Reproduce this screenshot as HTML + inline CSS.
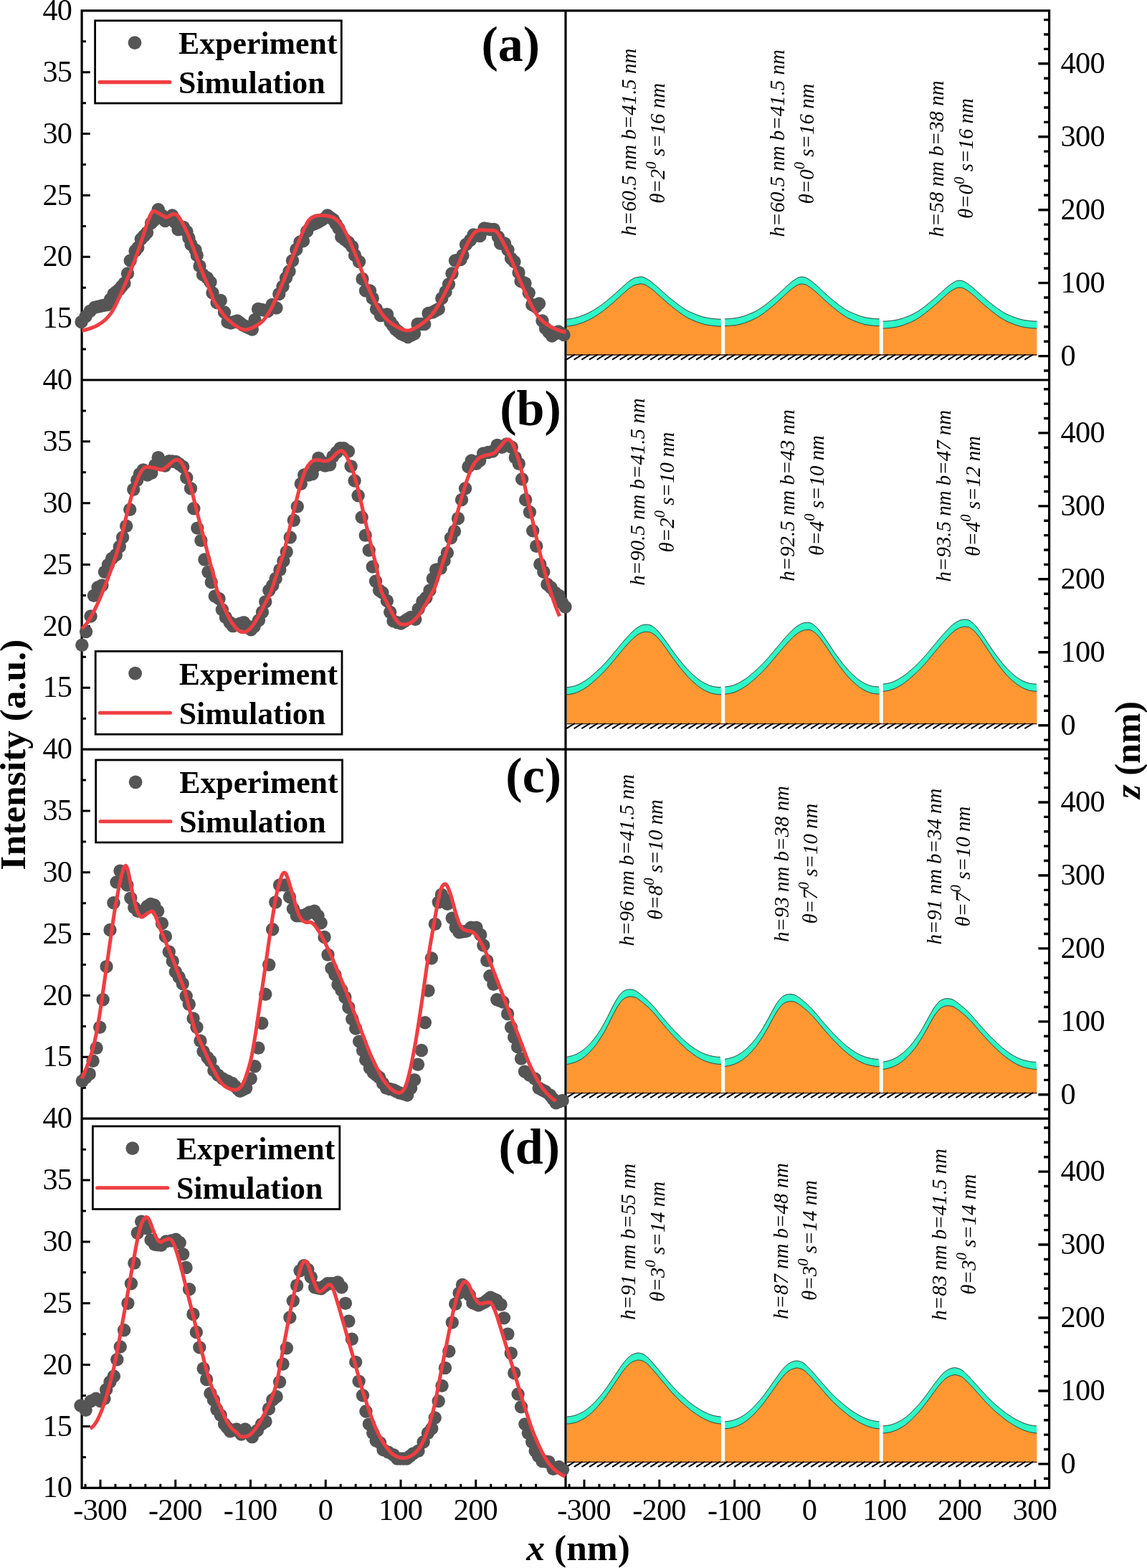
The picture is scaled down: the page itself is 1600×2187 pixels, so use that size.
<!DOCTYPE html>
<html lang="en"><head><meta charset="utf-8"><title>Intensity profiles: experiment vs simulation</title>
<style>html,body{margin:0;padding:0;background:#fff}body{width:1600px;height:2187px;overflow:hidden}svg{display:block}text{white-space:pre}</style>
</head><body>
<svg width="1600" height="2187" viewBox="0 0 1600 2187">
<defs><clipPath id="cr0"><rect x="789" y="14.9" width="674.6" height="515.1"/></clipPath><clipPath id="cr1"><rect x="789" y="530" width="674.6" height="515.1"/></clipPath><clipPath id="cr2"><rect x="789" y="1045.1" width="674.6" height="515.1"/></clipPath><clipPath id="cr3"><rect x="789" y="1560.2" width="674.6" height="515.1"/></clipPath></defs>
<rect width="1600" height="2187" fill="#fff"/>
<polygon fill="#FF9733" points="790.8,455.07 792.61,454.93 794.42,454.74 796.23,454.5 798.03,454.18 799.84,453.81 801.65,453.4 803.46,452.97 805.27,452.48 807.08,451.94 808.88,451.36 810.69,450.75 812.5,450.09 814.31,449.38 816.12,448.63 817.93,447.84 819.73,447.01 821.54,446.13 823.35,445.2 825.16,444.24 826.97,443.23 828.78,442.18 830.58,441.08 832.39,439.94 834.2,438.76 836.01,437.53 837.82,436.26 839.63,434.95 841.44,433.59 843.24,432.18 845.05,430.72 846.86,429.24 848.67,427.75 850.48,426.24 852.29,424.71 854.09,423.16 855.9,421.58 857.71,419.98 859.52,418.34 861.33,416.71 863.14,415.07 864.94,413.44 866.75,411.8 868.56,410.17 870.37,408.57 872.18,406.97 873.99,405.35 875.79,403.8 877.6,402.39 879.41,401.1 881.22,399.85 883.03,398.73 884.84,397.86 886.65,397.27 888.45,396.79 890.26,396.41 892.07,396.1 893.88,395.9 895.69,396.05 897.5,396.35 899.3,396.9 901.11,397.81 902.92,398.92 904.73,400.07 906.54,401.24 908.35,402.55 910.15,403.96 911.96,405.42 913.77,406.93 915.58,408.54 917.39,410.2 919.2,411.87 921.01,413.51 922.81,415.14 924.62,416.78 926.43,418.4 928.24,419.99 930.05,421.55 931.86,423.09 933.66,424.61 935.47,426.1 937.28,427.57 939.09,429.03 940.9,430.46 942.71,431.87 944.51,433.26 946.32,434.65 948.13,435.99 949.94,437.29 951.75,438.54 953.56,439.76 955.36,440.93 957.17,442.02 958.98,443.03 960.79,443.97 962.6,444.86 964.41,445.7 966.22,446.49 968.02,447.24 969.83,447.96 971.64,448.65 973.45,449.32 975.26,450 977.07,450.66 978.87,451.26 980.68,451.79 982.49,452.26 984.3,452.69 986.11,453.07 987.92,453.4 989.72,453.7 991.53,453.97 993.34,454.2 995.15,454.4 996.96,454.59 998.77,454.76 1000.57,454.9 1002.38,454.99 1004.19,455.05 1006,455.07 1006,495.2 790.8,495.2"/>
<polygon fill="#2FF7C6" points="790.8,445.18 792.31,445.03 794.12,444.84 795.93,444.6 797.73,444.28 799.54,443.91 801.35,443.5 803.16,443.07 804.97,442.58 806.78,442.04 808.58,441.46 810.39,440.85 812.2,440.19 814.01,439.48 815.82,438.73 817.63,437.94 819.43,437.11 821.24,436.23 823.05,435.3 824.86,434.34 826.67,433.33 828.48,432.28 830.28,431.18 832.09,430.04 833.9,428.86 835.71,427.63 837.52,426.36 839.33,425.05 841.14,423.69 842.94,422.28 844.75,420.82 846.56,419.34 848.37,417.85 850.18,416.34 851.99,414.81 853.79,413.26 855.6,411.68 857.41,410.08 859.22,408.44 861.03,406.81 862.84,405.17 864.64,403.54 866.45,401.9 868.26,400.27 870.07,398.67 871.88,397.07 873.69,395.45 875.49,393.9 877.3,392.49 879.11,391.2 880.92,389.95 882.73,388.83 884.54,387.96 886.35,387.37 888.15,386.89 889.96,386.51 891.77,386.2 893.58,386 895.39,386.15 897.2,386.45 899,387 900.81,387.91 902.62,389.02 904.43,390.17 906.24,391.34 908.05,392.65 909.85,394.06 911.66,395.52 913.47,397.03 915.28,398.64 917.09,400.3 918.9,401.97 920.71,403.61 922.51,405.24 924.32,406.88 926.13,408.5 927.94,410.09 929.75,411.65 931.56,413.19 933.36,414.71 935.17,416.2 936.98,417.67 938.79,419.13 940.6,420.56 942.41,421.97 944.21,423.36 946.02,424.75 947.83,426.09 949.64,427.39 951.45,428.64 953.26,429.86 955.06,431.03 956.87,432.12 958.68,433.13 960.49,434.07 962.3,434.96 964.11,435.8 965.92,436.59 967.72,437.34 969.53,438.06 971.34,438.75 973.15,439.42 974.96,440.1 976.77,440.76 978.57,441.36 980.38,441.89 982.19,442.36 984,442.79 985.81,443.17 987.62,443.5 989.42,443.8 991.23,444.07 993.04,444.3 994.85,444.5 996.66,444.69 998.47,444.86 1000.27,445 1002.08,445.09 1003.89,445.15 1005.7,445.18 1006,455.07 1004.19,455.05 1002.38,454.99 1000.57,454.9 998.77,454.76 996.96,454.59 995.15,454.4 993.34,454.2 991.53,453.97 989.72,453.7 987.92,453.4 986.11,453.07 984.3,452.69 982.49,452.26 980.68,451.79 978.87,451.26 977.07,450.66 975.26,450 973.45,449.32 971.64,448.65 969.83,447.96 968.02,447.24 966.22,446.49 964.41,445.7 962.6,444.86 960.79,443.97 958.98,443.03 957.17,442.02 955.36,440.93 953.56,439.76 951.75,438.54 949.94,437.29 948.13,435.99 946.32,434.65 944.51,433.26 942.71,431.87 940.9,430.46 939.09,429.03 937.28,427.57 935.47,426.1 933.66,424.61 931.86,423.09 930.05,421.55 928.24,419.99 926.43,418.4 924.62,416.78 922.81,415.14 921.01,413.51 919.2,411.87 917.39,410.2 915.58,408.54 913.77,406.93 911.96,405.42 910.15,403.96 908.35,402.55 906.54,401.24 904.73,400.07 902.92,398.92 901.11,397.81 899.3,396.9 897.5,396.35 895.69,396.05 893.88,395.9 892.07,396.1 890.26,396.41 888.45,396.79 886.65,397.27 884.84,397.86 883.03,398.73 881.22,399.85 879.41,401.1 877.6,402.39 875.79,403.8 873.99,405.35 872.18,406.97 870.37,408.57 868.56,410.17 866.75,411.8 864.94,413.44 863.14,415.07 861.33,416.71 859.52,418.34 857.71,419.98 855.9,421.58 854.09,423.16 852.29,424.71 850.48,426.24 848.67,427.75 846.86,429.24 845.05,430.72 843.24,432.18 841.44,433.59 839.63,434.95 837.82,436.26 836.01,437.53 834.2,438.76 832.39,439.94 830.58,441.08 828.78,442.18 826.97,443.23 825.16,444.24 823.35,445.2 821.54,446.13 819.73,447.01 817.93,447.84 816.12,448.63 814.31,449.38 812.5,450.09 810.69,450.75 808.88,451.36 807.08,451.94 805.27,452.48 803.46,452.97 801.65,453.4 799.84,453.81 798.03,454.18 796.23,454.5 794.42,454.74 792.61,454.93 790.8,455.07"/>
<polyline fill="none" stroke="#21382f" stroke-width="0.95" points="790.8,445.18 792.31,445.03 794.12,444.84 795.93,444.6 797.73,444.28 799.54,443.91 801.35,443.5 803.16,443.07 804.97,442.58 806.78,442.04 808.58,441.46 810.39,440.85 812.2,440.19 814.01,439.48 815.82,438.73 817.63,437.94 819.43,437.11 821.24,436.23 823.05,435.3 824.86,434.34 826.67,433.33 828.48,432.28 830.28,431.18 832.09,430.04 833.9,428.86 835.71,427.63 837.52,426.36 839.33,425.05 841.14,423.69 842.94,422.28 844.75,420.82 846.56,419.34 848.37,417.85 850.18,416.34 851.99,414.81 853.79,413.26 855.6,411.68 857.41,410.08 859.22,408.44 861.03,406.81 862.84,405.17 864.64,403.54 866.45,401.9 868.26,400.27 870.07,398.67 871.88,397.07 873.69,395.45 875.49,393.9 877.3,392.49 879.11,391.2 880.92,389.95 882.73,388.83 884.54,387.96 886.35,387.37 888.15,386.89 889.96,386.51 891.77,386.2 893.58,386 895.39,386.15 897.2,386.45 899,387 900.81,387.91 902.62,389.02 904.43,390.17 906.24,391.34 908.05,392.65 909.85,394.06 911.66,395.52 913.47,397.03 915.28,398.64 917.09,400.3 918.9,401.97 920.71,403.61 922.51,405.24 924.32,406.88 926.13,408.5 927.94,410.09 929.75,411.65 931.56,413.19 933.36,414.71 935.17,416.2 936.98,417.67 938.79,419.13 940.6,420.56 942.41,421.97 944.21,423.36 946.02,424.75 947.83,426.09 949.64,427.39 951.45,428.64 953.26,429.86 955.06,431.03 956.87,432.12 958.68,433.13 960.49,434.07 962.3,434.96 964.11,435.8 965.92,436.59 967.72,437.34 969.53,438.06 971.34,438.75 973.15,439.42 974.96,440.1 976.77,440.76 978.57,441.36 980.38,441.89 982.19,442.36 984,442.79 985.81,443.17 987.62,443.5 989.42,443.8 991.23,444.07 993.04,444.3 994.85,444.5 996.66,444.69 998.47,444.86 1000.27,445 1002.08,445.09 1003.89,445.15 1005.7,445.18"/>
<polyline fill="none" stroke="#21382f" stroke-width="0.95" points="790.8,455.07 792.61,454.93 794.42,454.74 796.23,454.5 798.03,454.18 799.84,453.81 801.65,453.4 803.46,452.97 805.27,452.48 807.08,451.94 808.88,451.36 810.69,450.75 812.5,450.09 814.31,449.38 816.12,448.63 817.93,447.84 819.73,447.01 821.54,446.13 823.35,445.2 825.16,444.24 826.97,443.23 828.78,442.18 830.58,441.08 832.39,439.94 834.2,438.76 836.01,437.53 837.82,436.26 839.63,434.95 841.44,433.59 843.24,432.18 845.05,430.72 846.86,429.24 848.67,427.75 850.48,426.24 852.29,424.71 854.09,423.16 855.9,421.58 857.71,419.98 859.52,418.34 861.33,416.71 863.14,415.07 864.94,413.44 866.75,411.8 868.56,410.17 870.37,408.57 872.18,406.97 873.99,405.35 875.79,403.8 877.6,402.39 879.41,401.1 881.22,399.85 883.03,398.73 884.84,397.86 886.65,397.27 888.45,396.79 890.26,396.41 892.07,396.1 893.88,395.9 895.69,396.05 897.5,396.35 899.3,396.9 901.11,397.81 902.92,398.92 904.73,400.07 906.54,401.24 908.35,402.55 910.15,403.96 911.96,405.42 913.77,406.93 915.58,408.54 917.39,410.2 919.2,411.87 921.01,413.51 922.81,415.14 924.62,416.78 926.43,418.4 928.24,419.99 930.05,421.55 931.86,423.09 933.66,424.61 935.47,426.1 937.28,427.57 939.09,429.03 940.9,430.46 942.71,431.87 944.51,433.26 946.32,434.65 948.13,435.99 949.94,437.29 951.75,438.54 953.56,439.76 955.36,440.93 957.17,442.02 958.98,443.03 960.79,443.97 962.6,444.86 964.41,445.7 966.22,446.49 968.02,447.24 969.83,447.96 971.64,448.65 973.45,449.32 975.26,450 977.07,450.66 978.87,451.26 980.68,451.79 982.49,452.26 984.3,452.69 986.11,453.07 987.92,453.4 989.72,453.7 991.53,453.97 993.34,454.2 995.15,454.4 996.96,454.59 998.77,454.76 1000.57,454.9 1002.38,454.99 1004.19,455.05 1006,455.07"/>
<polygon fill="#FF9733" points="1011.2,454.7 1013.01,454.67 1014.82,454.61 1016.63,454.51 1018.44,454.36 1020.25,454.18 1022.07,453.99 1023.88,453.77 1025.69,453.51 1027.5,453.22 1029.31,452.9 1031.12,452.53 1032.93,452.11 1034.74,451.64 1036.55,451.13 1038.36,450.53 1040.17,449.87 1041.99,449.17 1043.8,448.46 1045.61,447.76 1047.42,447.02 1049.23,446.25 1051.04,445.43 1052.85,444.56 1054.66,443.64 1056.47,442.66 1058.28,441.61 1060.09,440.46 1061.91,439.24 1063.72,437.96 1065.53,436.66 1067.34,435.3 1069.15,433.89 1070.96,432.45 1072.77,431 1074.58,429.53 1076.39,428.03 1078.2,426.52 1080.02,424.98 1081.83,423.41 1083.64,421.82 1085.45,420.21 1087.26,418.58 1089.07,416.91 1090.88,415.21 1092.69,413.52 1094.5,411.82 1096.31,410.1 1098.12,408.38 1099.94,406.73 1101.75,405.19 1103.56,403.68 1105.37,402.26 1107.18,400.95 1108.99,399.77 1110.8,398.57 1112.61,397.51 1114.42,396.74 1116.23,396.36 1118.04,396.13 1119.86,396.15 1121.67,396.41 1123.48,396.83 1125.29,397.66 1127.1,398.75 1128.91,399.95 1130.72,401.13 1132.53,402.46 1134.34,403.89 1136.15,405.4 1137.96,406.95 1139.78,408.61 1141.59,410.32 1143.4,412.04 1145.21,413.73 1147.02,415.42 1148.83,417.11 1150.64,418.77 1152.45,420.4 1154.26,422 1156.07,423.58 1157.88,425.14 1159.7,426.67 1161.51,428.18 1163.32,429.67 1165.13,431.13 1166.94,432.58 1168.75,434.01 1170.56,435.42 1172.37,436.77 1174.18,438.07 1175.99,439.34 1177.81,440.55 1179.62,441.69 1181.43,442.73 1183.24,443.7 1185.05,444.62 1186.86,445.48 1188.67,446.3 1190.48,447.06 1192.29,447.79 1194.1,448.5 1195.91,449.2 1197.73,449.9 1199.54,450.56 1201.35,451.15 1203.16,451.66 1204.97,452.13 1206.78,452.55 1208.59,452.91 1210.4,453.23 1212.21,453.52 1214.02,453.77 1215.83,453.99 1217.65,454.18 1219.46,454.36 1221.27,454.51 1223.08,454.61 1224.89,454.67 1226.7,454.7 1226.7,495.2 1011.2,495.2"/>
<polygon fill="#2FF7C6" points="1011.2,444.8 1013.01,444.77 1014.82,444.71 1016.63,444.61 1018.44,444.46 1020.25,444.28 1022.07,444.09 1023.88,443.87 1025.69,443.61 1027.5,443.32 1029.31,443 1031.12,442.63 1032.93,442.21 1034.74,441.74 1036.55,441.23 1038.36,440.63 1040.17,439.97 1041.99,439.27 1043.8,438.56 1045.61,437.86 1047.42,437.12 1049.23,436.35 1051.04,435.53 1052.85,434.66 1054.66,433.74 1056.47,432.76 1058.28,431.71 1060.09,430.56 1061.91,429.34 1063.72,428.06 1065.53,426.76 1067.34,425.4 1069.15,423.99 1070.96,422.55 1072.77,421.1 1074.58,419.63 1076.39,418.13 1078.2,416.62 1080.02,415.08 1081.83,413.51 1083.64,411.92 1085.45,410.31 1087.26,408.68 1089.07,407.01 1090.88,405.31 1092.69,403.62 1094.5,401.92 1096.31,400.2 1098.12,398.48 1099.94,396.83 1101.75,395.29 1103.56,393.78 1105.37,392.36 1107.18,391.05 1108.99,389.87 1110.8,388.67 1112.61,387.61 1114.42,386.84 1116.23,386.46 1118.04,386.23 1119.86,386.25 1121.67,386.51 1123.48,386.93 1125.29,387.76 1127.1,388.85 1128.91,390.05 1130.72,391.23 1132.53,392.56 1134.34,393.99 1136.15,395.5 1137.96,397.05 1139.78,398.71 1141.59,400.42 1143.4,402.14 1145.21,403.83 1147.02,405.52 1148.83,407.21 1150.64,408.87 1152.45,410.5 1154.26,412.1 1156.07,413.68 1157.88,415.24 1159.7,416.77 1161.51,418.28 1163.32,419.77 1165.13,421.23 1166.94,422.68 1168.75,424.11 1170.56,425.52 1172.37,426.87 1174.18,428.17 1175.99,429.44 1177.81,430.65 1179.62,431.79 1181.43,432.83 1183.24,433.8 1185.05,434.72 1186.86,435.58 1188.67,436.4 1190.48,437.16 1192.29,437.89 1194.1,438.6 1195.91,439.3 1197.73,440 1199.54,440.66 1201.35,441.25 1203.16,441.76 1204.97,442.23 1206.78,442.65 1208.59,443.01 1210.4,443.33 1212.21,443.62 1214.02,443.87 1215.83,444.09 1217.65,444.28 1219.46,444.46 1221.27,444.61 1223.08,444.71 1224.89,444.77 1226.7,444.8 1226.7,454.7 1224.89,454.67 1223.08,454.61 1221.27,454.51 1219.46,454.36 1217.65,454.18 1215.83,453.99 1214.02,453.77 1212.21,453.52 1210.4,453.23 1208.59,452.91 1206.78,452.55 1204.97,452.13 1203.16,451.66 1201.35,451.15 1199.54,450.56 1197.73,449.9 1195.91,449.2 1194.1,448.5 1192.29,447.79 1190.48,447.06 1188.67,446.3 1186.86,445.48 1185.05,444.62 1183.24,443.7 1181.43,442.73 1179.62,441.69 1177.81,440.55 1175.99,439.34 1174.18,438.07 1172.37,436.77 1170.56,435.42 1168.75,434.01 1166.94,432.58 1165.13,431.13 1163.32,429.67 1161.51,428.18 1159.7,426.67 1157.88,425.14 1156.07,423.58 1154.26,422 1152.45,420.4 1150.64,418.77 1148.83,417.11 1147.02,415.42 1145.21,413.73 1143.4,412.04 1141.59,410.32 1139.78,408.61 1137.96,406.95 1136.15,405.4 1134.34,403.89 1132.53,402.46 1130.72,401.13 1128.91,399.95 1127.1,398.75 1125.29,397.66 1123.48,396.83 1121.67,396.41 1119.86,396.15 1118.04,396.13 1116.23,396.36 1114.42,396.74 1112.61,397.51 1110.8,398.57 1108.99,399.77 1107.18,400.95 1105.37,402.26 1103.56,403.68 1101.75,405.19 1099.94,406.73 1098.12,408.38 1096.31,410.1 1094.5,411.82 1092.69,413.52 1090.88,415.21 1089.07,416.91 1087.26,418.58 1085.45,420.21 1083.64,421.82 1081.83,423.41 1080.02,424.98 1078.2,426.52 1076.39,428.03 1074.58,429.53 1072.77,431 1070.96,432.45 1069.15,433.89 1067.34,435.3 1065.53,436.66 1063.72,437.96 1061.91,439.24 1060.09,440.46 1058.28,441.61 1056.47,442.66 1054.66,443.64 1052.85,444.56 1051.04,445.43 1049.23,446.25 1047.42,447.02 1045.61,447.76 1043.8,448.46 1041.99,449.17 1040.17,449.87 1038.36,450.53 1036.55,451.13 1034.74,451.64 1032.93,452.11 1031.12,452.53 1029.31,452.9 1027.5,453.22 1025.69,453.51 1023.88,453.77 1022.07,453.99 1020.25,454.18 1018.44,454.36 1016.63,454.51 1014.82,454.61 1013.01,454.67 1011.2,454.7"/>
<polyline fill="none" stroke="#21382f" stroke-width="0.95" points="1011.2,444.8 1013.01,444.77 1014.82,444.71 1016.63,444.61 1018.44,444.46 1020.25,444.28 1022.07,444.09 1023.88,443.87 1025.69,443.61 1027.5,443.32 1029.31,443 1031.12,442.63 1032.93,442.21 1034.74,441.74 1036.55,441.23 1038.36,440.63 1040.17,439.97 1041.99,439.27 1043.8,438.56 1045.61,437.86 1047.42,437.12 1049.23,436.35 1051.04,435.53 1052.85,434.66 1054.66,433.74 1056.47,432.76 1058.28,431.71 1060.09,430.56 1061.91,429.34 1063.72,428.06 1065.53,426.76 1067.34,425.4 1069.15,423.99 1070.96,422.55 1072.77,421.1 1074.58,419.63 1076.39,418.13 1078.2,416.62 1080.02,415.08 1081.83,413.51 1083.64,411.92 1085.45,410.31 1087.26,408.68 1089.07,407.01 1090.88,405.31 1092.69,403.62 1094.5,401.92 1096.31,400.2 1098.12,398.48 1099.94,396.83 1101.75,395.29 1103.56,393.78 1105.37,392.36 1107.18,391.05 1108.99,389.87 1110.8,388.67 1112.61,387.61 1114.42,386.84 1116.23,386.46 1118.04,386.23 1119.86,386.25 1121.67,386.51 1123.48,386.93 1125.29,387.76 1127.1,388.85 1128.91,390.05 1130.72,391.23 1132.53,392.56 1134.34,393.99 1136.15,395.5 1137.96,397.05 1139.78,398.71 1141.59,400.42 1143.4,402.14 1145.21,403.83 1147.02,405.52 1148.83,407.21 1150.64,408.87 1152.45,410.5 1154.26,412.1 1156.07,413.68 1157.88,415.24 1159.7,416.77 1161.51,418.28 1163.32,419.77 1165.13,421.23 1166.94,422.68 1168.75,424.11 1170.56,425.52 1172.37,426.87 1174.18,428.17 1175.99,429.44 1177.81,430.65 1179.62,431.79 1181.43,432.83 1183.24,433.8 1185.05,434.72 1186.86,435.58 1188.67,436.4 1190.48,437.16 1192.29,437.89 1194.1,438.6 1195.91,439.3 1197.73,440 1199.54,440.66 1201.35,441.25 1203.16,441.76 1204.97,442.23 1206.78,442.65 1208.59,443.01 1210.4,443.33 1212.21,443.62 1214.02,443.87 1215.83,444.09 1217.65,444.28 1219.46,444.46 1221.27,444.61 1223.08,444.71 1224.89,444.77 1226.7,444.8"/>
<polyline fill="none" stroke="#21382f" stroke-width="0.95" points="1011.2,454.7 1013.01,454.67 1014.82,454.61 1016.63,454.51 1018.44,454.36 1020.25,454.18 1022.07,453.99 1023.88,453.77 1025.69,453.51 1027.5,453.22 1029.31,452.9 1031.12,452.53 1032.93,452.11 1034.74,451.64 1036.55,451.13 1038.36,450.53 1040.17,449.87 1041.99,449.17 1043.8,448.46 1045.61,447.76 1047.42,447.02 1049.23,446.25 1051.04,445.43 1052.85,444.56 1054.66,443.64 1056.47,442.66 1058.28,441.61 1060.09,440.46 1061.91,439.24 1063.72,437.96 1065.53,436.66 1067.34,435.3 1069.15,433.89 1070.96,432.45 1072.77,431 1074.58,429.53 1076.39,428.03 1078.2,426.52 1080.02,424.98 1081.83,423.41 1083.64,421.82 1085.45,420.21 1087.26,418.58 1089.07,416.91 1090.88,415.21 1092.69,413.52 1094.5,411.82 1096.31,410.1 1098.12,408.38 1099.94,406.73 1101.75,405.19 1103.56,403.68 1105.37,402.26 1107.18,400.95 1108.99,399.77 1110.8,398.57 1112.61,397.51 1114.42,396.74 1116.23,396.36 1118.04,396.13 1119.86,396.15 1121.67,396.41 1123.48,396.83 1125.29,397.66 1127.1,398.75 1128.91,399.95 1130.72,401.13 1132.53,402.46 1134.34,403.89 1136.15,405.4 1137.96,406.95 1139.78,408.61 1141.59,410.32 1143.4,412.04 1145.21,413.73 1147.02,415.42 1148.83,417.11 1150.64,418.77 1152.45,420.4 1154.26,422 1156.07,423.58 1157.88,425.14 1159.7,426.67 1161.51,428.18 1163.32,429.67 1165.13,431.13 1166.94,432.58 1168.75,434.01 1170.56,435.42 1172.37,436.77 1174.18,438.07 1175.99,439.34 1177.81,440.55 1179.62,441.69 1181.43,442.73 1183.24,443.7 1185.05,444.62 1186.86,445.48 1188.67,446.3 1190.48,447.06 1192.29,447.79 1194.1,448.5 1195.91,449.2 1197.73,449.9 1199.54,450.56 1201.35,451.15 1203.16,451.66 1204.97,452.13 1206.78,452.55 1208.59,452.91 1210.4,453.23 1212.21,453.52 1214.02,453.77 1215.83,453.99 1217.65,454.18 1219.46,454.36 1221.27,454.51 1223.08,454.61 1224.89,454.67 1226.7,454.7"/>
<polygon fill="#FF9733" points="1231.7,458 1233.5,457.97 1235.31,457.91 1237.11,457.81 1238.92,457.66 1240.72,457.49 1242.53,457.3 1244.33,457.09 1246.13,456.84 1247.94,456.56 1249.74,456.25 1251.55,455.89 1253.35,455.47 1255.15,455.01 1256.96,454.51 1258.76,453.93 1260.57,453.28 1262.37,452.59 1264.18,451.91 1265.98,451.22 1267.78,450.5 1269.59,449.75 1271.39,448.95 1273.2,448.1 1275,447.2 1276.81,446.24 1278.61,445.21 1280.41,444.09 1282.22,442.89 1284.02,441.65 1285.83,440.37 1287.63,439.04 1289.43,437.66 1291.24,436.26 1293.04,434.85 1294.85,433.42 1296.65,431.96 1298.46,430.48 1300.26,428.98 1302.06,427.45 1303.87,425.9 1305.67,424.33 1307.48,422.74 1309.28,421.11 1311.08,419.46 1312.89,417.8 1314.69,416.15 1316.5,414.47 1318.3,412.8 1320.11,411.21 1321.91,409.71 1323.71,408.26 1325.52,406.88 1327.32,405.63 1329.13,404.48 1330.93,403.33 1332.74,402.33 1334.54,401.64 1336.34,401.3 1338.15,401.11 1339.95,401.18 1341.76,401.45 1343.56,401.92 1345.36,402.77 1347.17,403.85 1348.97,405.01 1350.78,406.17 1352.58,407.47 1354.39,408.87 1356.19,410.33 1357.99,411.85 1359.8,413.46 1361.6,415.13 1363.41,416.79 1365.21,418.42 1367.02,420.06 1368.82,421.69 1370.62,423.3 1372.43,424.87 1374.23,426.42 1376.04,427.95 1377.84,429.46 1379.64,430.94 1381.45,432.4 1383.25,433.84 1385.06,435.25 1386.86,436.65 1388.67,438.04 1390.47,439.39 1392.27,440.7 1394.08,441.95 1395.88,443.18 1397.69,444.35 1399.49,445.44 1401.29,446.44 1403.1,447.38 1404.9,448.26 1406.71,449.1 1408.51,449.88 1410.32,450.62 1412.12,451.33 1413.92,452.01 1415.73,452.69 1417.53,453.37 1419.34,454.01 1421.14,454.57 1422.95,455.07 1424.75,455.52 1426.55,455.92 1428.36,456.27 1430.16,456.58 1431.97,456.86 1433.77,457.1 1435.57,457.31 1437.38,457.5 1439.18,457.67 1440.99,457.81 1442.79,457.91 1444.6,457.97 1446.4,458 1446.4,495.2 1231.7,495.2"/>
<polygon fill="#2FF7C6" points="1231.7,448.1 1233.5,448.07 1235.31,448.01 1237.11,447.91 1238.92,447.76 1240.72,447.59 1242.53,447.4 1244.33,447.19 1246.13,446.94 1247.94,446.66 1249.74,446.35 1251.55,445.99 1253.35,445.57 1255.15,445.11 1256.96,444.61 1258.76,444.03 1260.57,443.38 1262.37,442.69 1264.18,442.01 1265.98,441.32 1267.78,440.6 1269.59,439.85 1271.39,439.05 1273.2,438.2 1275,437.3 1276.81,436.34 1278.61,435.31 1280.41,434.19 1282.22,432.99 1284.02,431.75 1285.83,430.47 1287.63,429.14 1289.43,427.76 1291.24,426.36 1293.04,424.95 1294.85,423.52 1296.65,422.06 1298.46,420.58 1300.26,419.08 1302.06,417.55 1303.87,416 1305.67,414.43 1307.48,412.84 1309.28,411.21 1311.08,409.56 1312.89,407.9 1314.69,406.25 1316.5,404.57 1318.3,402.9 1320.11,401.31 1321.91,399.81 1323.71,398.36 1325.52,396.98 1327.32,395.73 1329.13,394.58 1330.93,393.43 1332.74,392.43 1334.54,391.74 1336.34,391.4 1338.15,391.21 1339.95,391.28 1341.76,391.55 1343.56,392.02 1345.36,392.87 1347.17,393.95 1348.97,395.11 1350.78,396.27 1352.58,397.57 1354.39,398.97 1356.19,400.43 1357.99,401.95 1359.8,403.56 1361.6,405.23 1363.41,406.89 1365.21,408.52 1367.02,410.16 1368.82,411.79 1370.62,413.4 1372.43,414.97 1374.23,416.52 1376.04,418.05 1377.84,419.56 1379.64,421.04 1381.45,422.5 1383.25,423.94 1385.06,425.35 1386.86,426.75 1388.67,428.14 1390.47,429.49 1392.27,430.8 1394.08,432.05 1395.88,433.28 1397.69,434.45 1399.49,435.54 1401.29,436.54 1403.1,437.48 1404.9,438.36 1406.71,439.2 1408.51,439.98 1410.32,440.72 1412.12,441.43 1413.92,442.11 1415.73,442.79 1417.53,443.47 1419.34,444.11 1421.14,444.67 1422.95,445.17 1424.75,445.62 1426.55,446.02 1428.36,446.37 1430.16,446.68 1431.97,446.96 1433.77,447.2 1435.57,447.41 1437.38,447.6 1439.18,447.77 1440.99,447.91 1442.79,448.01 1444.6,448.07 1446.4,448.1 1446.4,458 1444.6,457.97 1442.79,457.91 1440.99,457.81 1439.18,457.67 1437.38,457.5 1435.57,457.31 1433.77,457.1 1431.97,456.86 1430.16,456.58 1428.36,456.27 1426.55,455.92 1424.75,455.52 1422.95,455.07 1421.14,454.57 1419.34,454.01 1417.53,453.37 1415.73,452.69 1413.92,452.01 1412.12,451.33 1410.32,450.62 1408.51,449.88 1406.71,449.1 1404.9,448.26 1403.1,447.38 1401.29,446.44 1399.49,445.44 1397.69,444.35 1395.88,443.18 1394.08,441.95 1392.27,440.7 1390.47,439.39 1388.67,438.04 1386.86,436.65 1385.06,435.25 1383.25,433.84 1381.45,432.4 1379.64,430.94 1377.84,429.46 1376.04,427.95 1374.23,426.42 1372.43,424.87 1370.62,423.3 1368.82,421.69 1367.02,420.06 1365.21,418.42 1363.41,416.79 1361.6,415.13 1359.8,413.46 1357.99,411.85 1356.19,410.33 1354.39,408.87 1352.58,407.47 1350.78,406.17 1348.97,405.01 1347.17,403.85 1345.36,402.77 1343.56,401.92 1341.76,401.45 1339.95,401.18 1338.15,401.11 1336.34,401.3 1334.54,401.64 1332.74,402.33 1330.93,403.33 1329.13,404.48 1327.32,405.63 1325.52,406.88 1323.71,408.26 1321.91,409.71 1320.11,411.21 1318.3,412.8 1316.5,414.47 1314.69,416.15 1312.89,417.8 1311.08,419.46 1309.28,421.11 1307.48,422.74 1305.67,424.33 1303.87,425.9 1302.06,427.45 1300.26,428.98 1298.46,430.48 1296.65,431.96 1294.85,433.42 1293.04,434.85 1291.24,436.26 1289.43,437.66 1287.63,439.04 1285.83,440.37 1284.02,441.65 1282.22,442.89 1280.41,444.09 1278.61,445.21 1276.81,446.24 1275,447.2 1273.2,448.1 1271.39,448.95 1269.59,449.75 1267.78,450.5 1265.98,451.22 1264.18,451.91 1262.37,452.59 1260.57,453.28 1258.76,453.93 1256.96,454.51 1255.15,455.01 1253.35,455.47 1251.55,455.89 1249.74,456.25 1247.94,456.56 1246.13,456.84 1244.33,457.09 1242.53,457.3 1240.72,457.49 1238.92,457.66 1237.11,457.81 1235.31,457.91 1233.5,457.97 1231.7,458"/>
<polyline fill="none" stroke="#21382f" stroke-width="0.95" points="1231.7,448.1 1233.5,448.07 1235.31,448.01 1237.11,447.91 1238.92,447.76 1240.72,447.59 1242.53,447.4 1244.33,447.19 1246.13,446.94 1247.94,446.66 1249.74,446.35 1251.55,445.99 1253.35,445.57 1255.15,445.11 1256.96,444.61 1258.76,444.03 1260.57,443.38 1262.37,442.69 1264.18,442.01 1265.98,441.32 1267.78,440.6 1269.59,439.85 1271.39,439.05 1273.2,438.2 1275,437.3 1276.81,436.34 1278.61,435.31 1280.41,434.19 1282.22,432.99 1284.02,431.75 1285.83,430.47 1287.63,429.14 1289.43,427.76 1291.24,426.36 1293.04,424.95 1294.85,423.52 1296.65,422.06 1298.46,420.58 1300.26,419.08 1302.06,417.55 1303.87,416 1305.67,414.43 1307.48,412.84 1309.28,411.21 1311.08,409.56 1312.89,407.9 1314.69,406.25 1316.5,404.57 1318.3,402.9 1320.11,401.31 1321.91,399.81 1323.71,398.36 1325.52,396.98 1327.32,395.73 1329.13,394.58 1330.93,393.43 1332.74,392.43 1334.54,391.74 1336.34,391.4 1338.15,391.21 1339.95,391.28 1341.76,391.55 1343.56,392.02 1345.36,392.87 1347.17,393.95 1348.97,395.11 1350.78,396.27 1352.58,397.57 1354.39,398.97 1356.19,400.43 1357.99,401.95 1359.8,403.56 1361.6,405.23 1363.41,406.89 1365.21,408.52 1367.02,410.16 1368.82,411.79 1370.62,413.4 1372.43,414.97 1374.23,416.52 1376.04,418.05 1377.84,419.56 1379.64,421.04 1381.45,422.5 1383.25,423.94 1385.06,425.35 1386.86,426.75 1388.67,428.14 1390.47,429.49 1392.27,430.8 1394.08,432.05 1395.88,433.28 1397.69,434.45 1399.49,435.54 1401.29,436.54 1403.1,437.48 1404.9,438.36 1406.71,439.2 1408.51,439.98 1410.32,440.72 1412.12,441.43 1413.92,442.11 1415.73,442.79 1417.53,443.47 1419.34,444.11 1421.14,444.67 1422.95,445.17 1424.75,445.62 1426.55,446.02 1428.36,446.37 1430.16,446.68 1431.97,446.96 1433.77,447.2 1435.57,447.41 1437.38,447.6 1439.18,447.77 1440.99,447.91 1442.79,448.01 1444.6,448.07 1446.4,448.1"/>
<polyline fill="none" stroke="#21382f" stroke-width="0.95" points="1231.7,458 1233.5,457.97 1235.31,457.91 1237.11,457.81 1238.92,457.66 1240.72,457.49 1242.53,457.3 1244.33,457.09 1246.13,456.84 1247.94,456.56 1249.74,456.25 1251.55,455.89 1253.35,455.47 1255.15,455.01 1256.96,454.51 1258.76,453.93 1260.57,453.28 1262.37,452.59 1264.18,451.91 1265.98,451.22 1267.78,450.5 1269.59,449.75 1271.39,448.95 1273.2,448.1 1275,447.2 1276.81,446.24 1278.61,445.21 1280.41,444.09 1282.22,442.89 1284.02,441.65 1285.83,440.37 1287.63,439.04 1289.43,437.66 1291.24,436.26 1293.04,434.85 1294.85,433.42 1296.65,431.96 1298.46,430.48 1300.26,428.98 1302.06,427.45 1303.87,425.9 1305.67,424.33 1307.48,422.74 1309.28,421.11 1311.08,419.46 1312.89,417.8 1314.69,416.15 1316.5,414.47 1318.3,412.8 1320.11,411.21 1321.91,409.71 1323.71,408.26 1325.52,406.88 1327.32,405.63 1329.13,404.48 1330.93,403.33 1332.74,402.33 1334.54,401.64 1336.34,401.3 1338.15,401.11 1339.95,401.18 1341.76,401.45 1343.56,401.92 1345.36,402.77 1347.17,403.85 1348.97,405.01 1350.78,406.17 1352.58,407.47 1354.39,408.87 1356.19,410.33 1357.99,411.85 1359.8,413.46 1361.6,415.13 1363.41,416.79 1365.21,418.42 1367.02,420.06 1368.82,421.69 1370.62,423.3 1372.43,424.87 1374.23,426.42 1376.04,427.95 1377.84,429.46 1379.64,430.94 1381.45,432.4 1383.25,433.84 1385.06,435.25 1386.86,436.65 1388.67,438.04 1390.47,439.39 1392.27,440.7 1394.08,441.95 1395.88,443.18 1397.69,444.35 1399.49,445.44 1401.29,446.44 1403.1,447.38 1404.9,448.26 1406.71,449.1 1408.51,449.88 1410.32,450.62 1412.12,451.33 1413.92,452.01 1415.73,452.69 1417.53,453.37 1419.34,454.01 1421.14,454.57 1422.95,455.07 1424.75,455.52 1426.55,455.92 1428.36,456.27 1430.16,456.58 1431.97,456.86 1433.77,457.1 1435.57,457.31 1437.38,457.5 1439.18,457.67 1440.99,457.81 1442.79,457.91 1444.6,457.97 1446.4,458"/>
<line x1="790.8" y1="495" x2="1446.4" y2="495" stroke="#3a1208" stroke-width="1.3"/>
<path d="M790.8 501.1l10.3 -6.3M801.45 501.1l10.3 -6.3M812.11 501.1l10.3 -6.3M822.76 501.1l10.3 -6.3M833.42 501.1l10.3 -6.3M844.07 501.1l10.3 -6.3M854.73 501.1l10.3 -6.3M865.38 501.1l10.3 -6.3M876.04 501.1l10.3 -6.3M886.69 501.1l10.3 -6.3M897.35 501.1l10.3 -6.3M908 501.1l10.3 -6.3M918.66 501.1l10.3 -6.3M929.31 501.1l10.3 -6.3M939.97 501.1l10.3 -6.3M950.62 501.1l10.3 -6.3M961.28 501.1l10.3 -6.3M971.93 501.1l10.3 -6.3M982.59 501.1l10.3 -6.3M993.24 501.1l10.3 -6.3M1003.9 501.1l10.3 -6.3M1014.55 501.1l10.3 -6.3M1025.21 501.1l10.3 -6.3M1035.87 501.1l10.3 -6.3M1046.52 501.1l10.3 -6.3M1057.17 501.1l10.3 -6.3M1067.83 501.1l10.3 -6.3M1078.48 501.1l10.3 -6.3M1089.14 501.1l10.3 -6.3M1099.8 501.1l10.3 -6.3M1110.45 501.1l10.3 -6.3M1121.11 501.1l10.3 -6.3M1131.76 501.1l10.3 -6.3M1142.41 501.1l10.3 -6.3M1153.07 501.1l10.3 -6.3M1163.72 501.1l10.3 -6.3M1174.38 501.1l10.3 -6.3M1185.03 501.1l10.3 -6.3M1195.69 501.1l10.3 -6.3M1206.34 501.1l10.3 -6.3M1217 501.1l10.3 -6.3M1227.65 501.1l10.3 -6.3M1238.31 501.1l10.3 -6.3M1248.96 501.1l10.3 -6.3M1259.62 501.1l10.3 -6.3M1270.27 501.1l10.3 -6.3M1280.93 501.1l10.3 -6.3M1291.59 501.1l10.3 -6.3M1302.24 501.1l10.3 -6.3M1312.89 501.1l10.3 -6.3M1323.55 501.1l10.3 -6.3M1334.2 501.1l10.3 -6.3M1344.86 501.1l10.3 -6.3M1355.51 501.1l10.3 -6.3M1366.17 501.1l10.3 -6.3M1376.82 501.1l10.3 -6.3M1387.48 501.1l10.3 -6.3M1398.13 501.1l10.3 -6.3M1408.79 501.1l10.3 -6.3M1419.44 501.1l10.3 -6.3M1430.1 501.1l10.3 -6.3" stroke="#000" stroke-width="2.1" stroke-linecap="round" fill="none"/>
<polygon fill="#FF9733" points="790.8,968.76 792.61,968.64 794.42,968.42 796.23,968.12 798.03,967.77 799.84,967.38 801.65,966.91 803.46,966.29 805.27,965.57 807.08,964.8 808.88,963.95 810.69,962.99 812.5,961.96 814.31,960.89 816.12,959.79 817.93,958.62 819.73,957.39 821.54,956.08 823.35,954.65 825.16,953.12 826.97,951.55 828.78,949.97 830.58,948.38 832.39,946.77 834.2,945.12 836.01,943.42 837.82,941.66 839.63,939.86 841.44,938.01 843.24,936.12 845.05,934.18 846.86,932.19 848.67,930.15 850.48,928.07 852.29,925.92 854.09,923.73 855.9,921.54 857.71,919.37 859.52,917.2 861.33,915.03 863.14,912.86 864.94,910.69 866.75,908.49 868.56,906.31 870.37,904.18 872.18,902.12 873.99,900.1 875.79,898.13 877.6,896.21 879.41,894.29 881.22,892.39 883.03,890.58 884.84,888.97 886.65,887.52 888.45,886.17 890.26,884.97 892.07,883.94 893.88,882.98 895.69,882.15 897.5,881.63 899.3,881.36 901.11,881.2 902.92,881.22 904.73,881.41 906.54,881.71 908.35,882.38 910.15,883.4 911.96,884.63 913.77,885.94 915.58,887.54 917.39,889.41 919.2,891.43 921.01,893.51 922.81,895.79 924.62,898.2 926.43,900.67 928.24,903.14 930.05,905.67 931.86,908.23 933.66,910.8 935.47,913.35 937.28,915.92 939.09,918.47 940.9,920.98 942.71,923.41 944.51,925.8 946.32,928.14 948.13,930.44 949.94,932.68 951.75,934.89 953.56,937.04 955.36,939.15 957.17,941.23 958.98,943.28 960.79,945.25 962.6,947.11 964.41,948.83 966.22,950.47 968.02,952.05 969.83,953.59 971.64,955.13 973.45,956.62 975.26,958.03 977.07,959.3 978.87,960.48 980.68,961.58 982.49,962.6 984.3,963.53 986.11,964.41 987.92,965.23 989.72,965.95 991.53,966.55 993.34,967.12 995.15,967.6 996.96,967.97 998.77,968.21 1000.57,968.42 1002.38,968.6 1004.19,968.72 1006,968.76 1006,1009.8 790.8,1009.8"/>
<polygon fill="#2FF7C6" points="790.8,958.66 792.31,958.54 794.12,958.32 795.93,958.02 797.73,957.67 799.54,957.28 801.35,956.81 803.16,956.19 804.97,955.47 806.78,954.7 808.58,953.85 810.39,952.89 812.2,951.86 814.01,950.79 815.82,949.69 817.63,948.52 819.43,947.29 821.24,945.98 823.05,944.55 824.86,943.02 826.67,941.45 828.48,939.87 830.28,938.28 832.09,936.67 833.9,935.02 835.71,933.32 837.52,931.56 839.33,929.76 841.14,927.91 842.94,926.02 844.75,924.08 846.56,922.09 848.37,920.05 850.18,917.97 851.99,915.82 853.79,913.63 855.6,911.44 857.41,909.27 859.22,907.1 861.03,904.93 862.84,902.76 864.64,900.59 866.45,898.39 868.26,896.21 870.07,894.08 871.88,892.02 873.69,890 875.49,888.03 877.3,886.11 879.11,884.19 880.92,882.29 882.73,880.48 884.54,878.87 886.35,877.42 888.15,876.07 889.96,874.87 891.77,873.84 893.58,872.88 895.39,872.05 897.2,871.53 899,871.26 900.81,871.1 902.62,871.12 904.43,871.31 906.24,871.61 908.05,872.28 909.85,873.3 911.66,874.53 913.47,875.84 915.28,877.44 917.09,879.31 918.9,881.33 920.71,883.41 922.51,885.69 924.32,888.1 926.13,890.57 927.94,893.04 929.75,895.57 931.56,898.13 933.36,900.7 935.17,903.25 936.98,905.82 938.79,908.37 940.6,910.88 942.41,913.31 944.21,915.7 946.02,918.04 947.83,920.34 949.64,922.58 951.45,924.79 953.26,926.94 955.06,929.05 956.87,931.13 958.68,933.18 960.49,935.15 962.3,937.01 964.11,938.73 965.92,940.37 967.72,941.95 969.53,943.49 971.34,945.03 973.15,946.52 974.96,947.93 976.77,949.2 978.57,950.38 980.38,951.48 982.19,952.5 984,953.43 985.81,954.31 987.62,955.13 989.42,955.85 991.23,956.45 993.04,957.02 994.85,957.5 996.66,957.87 998.47,958.11 1000.27,958.32 1002.08,958.5 1003.89,958.62 1005.7,958.66 1006,968.76 1004.19,968.72 1002.38,968.6 1000.57,968.42 998.77,968.21 996.96,967.97 995.15,967.6 993.34,967.12 991.53,966.55 989.72,965.95 987.92,965.23 986.11,964.41 984.3,963.53 982.49,962.6 980.68,961.58 978.87,960.48 977.07,959.3 975.26,958.03 973.45,956.62 971.64,955.13 969.83,953.59 968.02,952.05 966.22,950.47 964.41,948.83 962.6,947.11 960.79,945.25 958.98,943.28 957.17,941.23 955.36,939.15 953.56,937.04 951.75,934.89 949.94,932.68 948.13,930.44 946.32,928.14 944.51,925.8 942.71,923.41 940.9,920.98 939.09,918.47 937.28,915.92 935.47,913.35 933.66,910.8 931.86,908.23 930.05,905.67 928.24,903.14 926.43,900.67 924.62,898.2 922.81,895.79 921.01,893.51 919.2,891.43 917.39,889.41 915.58,887.54 913.77,885.94 911.96,884.63 910.15,883.4 908.35,882.38 906.54,881.71 904.73,881.41 902.92,881.22 901.11,881.2 899.3,881.36 897.5,881.63 895.69,882.15 893.88,882.98 892.07,883.94 890.26,884.97 888.45,886.17 886.65,887.52 884.84,888.97 883.03,890.58 881.22,892.39 879.41,894.29 877.6,896.21 875.79,898.13 873.99,900.1 872.18,902.12 870.37,904.18 868.56,906.31 866.75,908.49 864.94,910.69 863.14,912.86 861.33,915.03 859.52,917.2 857.71,919.37 855.9,921.54 854.09,923.73 852.29,925.92 850.48,928.07 848.67,930.15 846.86,932.19 845.05,934.18 843.24,936.12 841.44,938.01 839.63,939.86 837.82,941.66 836.01,943.42 834.2,945.12 832.39,946.77 830.58,948.38 828.78,949.97 826.97,951.55 825.16,953.12 823.35,954.65 821.54,956.08 819.73,957.39 817.93,958.62 816.12,959.79 814.31,960.89 812.5,961.96 810.69,962.99 808.88,963.95 807.08,964.8 805.27,965.57 803.46,966.29 801.65,966.91 799.84,967.38 798.03,967.77 796.23,968.12 794.42,968.42 792.61,968.64 790.8,968.76"/>
<polyline fill="none" stroke="#21382f" stroke-width="0.95" points="790.8,958.66 792.31,958.54 794.12,958.32 795.93,958.02 797.73,957.67 799.54,957.28 801.35,956.81 803.16,956.19 804.97,955.47 806.78,954.7 808.58,953.85 810.39,952.89 812.2,951.86 814.01,950.79 815.82,949.69 817.63,948.52 819.43,947.29 821.24,945.98 823.05,944.55 824.86,943.02 826.67,941.45 828.48,939.87 830.28,938.28 832.09,936.67 833.9,935.02 835.71,933.32 837.52,931.56 839.33,929.76 841.14,927.91 842.94,926.02 844.75,924.08 846.56,922.09 848.37,920.05 850.18,917.97 851.99,915.82 853.79,913.63 855.6,911.44 857.41,909.27 859.22,907.1 861.03,904.93 862.84,902.76 864.64,900.59 866.45,898.39 868.26,896.21 870.07,894.08 871.88,892.02 873.69,890 875.49,888.03 877.3,886.11 879.11,884.19 880.92,882.29 882.73,880.48 884.54,878.87 886.35,877.42 888.15,876.07 889.96,874.87 891.77,873.84 893.58,872.88 895.39,872.05 897.2,871.53 899,871.26 900.81,871.1 902.62,871.12 904.43,871.31 906.24,871.61 908.05,872.28 909.85,873.3 911.66,874.53 913.47,875.84 915.28,877.44 917.09,879.31 918.9,881.33 920.71,883.41 922.51,885.69 924.32,888.1 926.13,890.57 927.94,893.04 929.75,895.57 931.56,898.13 933.36,900.7 935.17,903.25 936.98,905.82 938.79,908.37 940.6,910.88 942.41,913.31 944.21,915.7 946.02,918.04 947.83,920.34 949.64,922.58 951.45,924.79 953.26,926.94 955.06,929.05 956.87,931.13 958.68,933.18 960.49,935.15 962.3,937.01 964.11,938.73 965.92,940.37 967.72,941.95 969.53,943.49 971.34,945.03 973.15,946.52 974.96,947.93 976.77,949.2 978.57,950.38 980.38,951.48 982.19,952.5 984,953.43 985.81,954.31 987.62,955.13 989.42,955.85 991.23,956.45 993.04,957.02 994.85,957.5 996.66,957.87 998.47,958.11 1000.27,958.32 1002.08,958.5 1003.89,958.62 1005.7,958.66"/>
<polyline fill="none" stroke="#21382f" stroke-width="0.95" points="790.8,968.76 792.61,968.64 794.42,968.42 796.23,968.12 798.03,967.77 799.84,967.38 801.65,966.91 803.46,966.29 805.27,965.57 807.08,964.8 808.88,963.95 810.69,962.99 812.5,961.96 814.31,960.89 816.12,959.79 817.93,958.62 819.73,957.39 821.54,956.08 823.35,954.65 825.16,953.12 826.97,951.55 828.78,949.97 830.58,948.38 832.39,946.77 834.2,945.12 836.01,943.42 837.82,941.66 839.63,939.86 841.44,938.01 843.24,936.12 845.05,934.18 846.86,932.19 848.67,930.15 850.48,928.07 852.29,925.92 854.09,923.73 855.9,921.54 857.71,919.37 859.52,917.2 861.33,915.03 863.14,912.86 864.94,910.69 866.75,908.49 868.56,906.31 870.37,904.18 872.18,902.12 873.99,900.1 875.79,898.13 877.6,896.21 879.41,894.29 881.22,892.39 883.03,890.58 884.84,888.97 886.65,887.52 888.45,886.17 890.26,884.97 892.07,883.94 893.88,882.98 895.69,882.15 897.5,881.63 899.3,881.36 901.11,881.2 902.92,881.22 904.73,881.41 906.54,881.71 908.35,882.38 910.15,883.4 911.96,884.63 913.77,885.94 915.58,887.54 917.39,889.41 919.2,891.43 921.01,893.51 922.81,895.79 924.62,898.2 926.43,900.67 928.24,903.14 930.05,905.67 931.86,908.23 933.66,910.8 935.47,913.35 937.28,915.92 939.09,918.47 940.9,920.98 942.71,923.41 944.51,925.8 946.32,928.14 948.13,930.44 949.94,932.68 951.75,934.89 953.56,937.04 955.36,939.15 957.17,941.23 958.98,943.28 960.79,945.25 962.6,947.11 964.41,948.83 966.22,950.47 968.02,952.05 969.83,953.59 971.64,955.13 973.45,956.62 975.26,958.03 977.07,959.3 978.87,960.48 980.68,961.58 982.49,962.6 984.3,963.53 986.11,964.41 987.92,965.23 989.72,965.95 991.53,966.55 993.34,967.12 995.15,967.6 996.96,967.97 998.77,968.21 1000.57,968.42 1002.38,968.6 1004.19,968.72 1006,968.76"/>
<polygon fill="#FF9733" points="1011.2,968.1 1013.01,967.98 1014.82,967.77 1016.63,967.48 1018.44,967.14 1020.25,966.76 1022.07,966.32 1023.88,965.74 1025.69,965.05 1027.5,964.29 1029.31,963.49 1031.12,962.58 1032.93,961.58 1034.74,960.54 1036.55,959.47 1038.36,958.35 1040.17,957.17 1041.99,955.92 1043.8,954.58 1045.61,953.13 1047.42,951.6 1049.23,950.03 1051.04,948.48 1052.85,946.9 1054.66,945.3 1056.47,943.66 1058.28,941.98 1060.09,940.24 1061.91,938.45 1063.72,936.62 1065.53,934.75 1067.34,932.84 1069.15,930.88 1070.96,928.87 1072.77,926.83 1074.58,924.71 1076.39,922.55 1078.2,920.38 1080.02,918.23 1081.83,916.09 1083.64,913.94 1085.45,911.8 1087.26,909.66 1089.07,907.49 1090.88,905.32 1092.69,903.18 1094.5,901.11 1096.31,899.09 1098.12,897.11 1099.94,895.18 1101.75,893.29 1103.56,891.39 1105.37,889.52 1107.18,887.76 1108.99,886.2 1110.8,884.77 1112.61,883.45 1114.42,882.26 1116.23,881.24 1118.04,880.29 1119.86,879.45 1121.67,878.89 1123.48,878.62 1125.29,878.44 1127.1,878.42 1128.91,878.59 1130.72,878.88 1132.53,879.54 1134.34,880.62 1136.15,881.92 1137.96,883.32 1139.78,885.04 1141.59,887.06 1143.4,889.22 1145.21,891.47 1147.02,893.93 1148.83,896.52 1150.64,899.15 1152.45,901.8 1154.26,904.51 1156.07,907.25 1157.88,909.97 1159.7,912.7 1161.51,915.44 1163.32,918.13 1165.13,920.75 1166.94,923.31 1168.75,925.82 1170.56,928.28 1172.37,930.68 1174.18,933.04 1175.99,935.34 1177.81,937.59 1179.62,939.81 1181.43,942 1183.24,944.1 1185.05,946.06 1186.86,947.89 1188.67,949.63 1190.48,951.3 1192.29,952.94 1194.1,954.57 1195.91,956.14 1197.73,957.59 1199.54,958.9 1201.35,960.12 1203.16,961.25 1204.97,962.29 1206.78,963.25 1208.59,964.16 1210.4,964.97 1212.21,965.64 1214.02,966.26 1215.83,966.8 1217.65,967.23 1219.46,967.5 1221.27,967.73 1223.08,967.92 1224.89,968.05 1226.7,968.1 1226.7,1009.8 1011.2,1009.8"/>
<polygon fill="#2FF7C6" points="1011.2,958 1012.41,957.88 1014.22,957.67 1016.03,957.38 1017.84,957.04 1019.65,956.66 1021.47,956.22 1023.28,955.64 1025.09,954.95 1026.9,954.19 1028.71,953.39 1030.52,952.48 1032.33,951.48 1034.14,950.44 1035.95,949.37 1037.76,948.25 1039.57,947.07 1041.39,945.82 1043.2,944.48 1045.01,943.03 1046.82,941.5 1048.63,939.93 1050.44,938.38 1052.25,936.8 1054.06,935.2 1055.87,933.56 1057.68,931.88 1059.49,930.14 1061.31,928.35 1063.12,926.52 1064.93,924.65 1066.74,922.74 1068.55,920.78 1070.36,918.77 1072.17,916.73 1073.98,914.61 1075.79,912.45 1077.6,910.28 1079.42,908.13 1081.23,905.99 1083.04,903.84 1084.85,901.7 1086.66,899.56 1088.47,897.39 1090.28,895.22 1092.09,893.08 1093.9,891.01 1095.71,888.99 1097.52,887.01 1099.34,885.08 1101.15,883.19 1102.96,881.29 1104.77,879.42 1106.58,877.66 1108.39,876.1 1110.2,874.67 1112.01,873.35 1113.82,872.16 1115.63,871.14 1117.44,870.19 1119.26,869.35 1121.07,868.79 1122.88,868.52 1124.69,868.34 1126.5,868.32 1128.31,868.49 1130.12,868.78 1131.93,869.44 1133.74,870.52 1135.55,871.82 1137.36,873.22 1139.18,874.94 1140.99,876.96 1142.8,879.12 1144.61,881.37 1146.42,883.83 1148.23,886.42 1150.04,889.05 1151.85,891.7 1153.66,894.41 1155.47,897.15 1157.28,899.87 1159.1,902.6 1160.91,905.34 1162.72,908.03 1164.53,910.65 1166.34,913.21 1168.15,915.72 1169.96,918.18 1171.77,920.58 1173.58,922.94 1175.39,925.24 1177.21,927.49 1179.02,929.71 1180.83,931.9 1182.64,934 1184.45,935.96 1186.26,937.79 1188.07,939.53 1189.88,941.2 1191.69,942.84 1193.5,944.47 1195.31,946.04 1197.13,947.49 1198.94,948.8 1200.75,950.02 1202.56,951.15 1204.37,952.19 1206.18,953.15 1207.99,954.06 1209.8,954.87 1211.61,955.54 1213.42,956.16 1215.23,956.7 1217.05,957.13 1218.86,957.4 1220.67,957.63 1222.48,957.82 1224.29,957.95 1226.1,958 1226.7,968.1 1224.89,968.05 1223.08,967.92 1221.27,967.73 1219.46,967.5 1217.65,967.23 1215.83,966.8 1214.02,966.26 1212.21,965.64 1210.4,964.97 1208.59,964.16 1206.78,963.25 1204.97,962.29 1203.16,961.25 1201.35,960.12 1199.54,958.9 1197.73,957.59 1195.91,956.14 1194.1,954.57 1192.29,952.94 1190.48,951.3 1188.67,949.63 1186.86,947.89 1185.05,946.06 1183.24,944.1 1181.43,942 1179.62,939.81 1177.81,937.59 1175.99,935.34 1174.18,933.04 1172.37,930.68 1170.56,928.28 1168.75,925.82 1166.94,923.31 1165.13,920.75 1163.32,918.13 1161.51,915.44 1159.7,912.7 1157.88,909.97 1156.07,907.25 1154.26,904.51 1152.45,901.8 1150.64,899.15 1148.83,896.52 1147.02,893.93 1145.21,891.47 1143.4,889.22 1141.59,887.06 1139.78,885.04 1137.96,883.32 1136.15,881.92 1134.34,880.62 1132.53,879.54 1130.72,878.88 1128.91,878.59 1127.1,878.42 1125.29,878.44 1123.48,878.62 1121.67,878.89 1119.86,879.45 1118.04,880.29 1116.23,881.24 1114.42,882.26 1112.61,883.45 1110.8,884.77 1108.99,886.2 1107.18,887.76 1105.37,889.52 1103.56,891.39 1101.75,893.29 1099.94,895.18 1098.12,897.11 1096.31,899.09 1094.5,901.11 1092.69,903.18 1090.88,905.32 1089.07,907.49 1087.26,909.66 1085.45,911.8 1083.64,913.94 1081.83,916.09 1080.02,918.23 1078.2,920.38 1076.39,922.55 1074.58,924.71 1072.77,926.83 1070.96,928.87 1069.15,930.88 1067.34,932.84 1065.53,934.75 1063.72,936.62 1061.91,938.45 1060.09,940.24 1058.28,941.98 1056.47,943.66 1054.66,945.3 1052.85,946.9 1051.04,948.48 1049.23,950.03 1047.42,951.6 1045.61,953.13 1043.8,954.58 1041.99,955.92 1040.17,957.17 1038.36,958.35 1036.55,959.47 1034.74,960.54 1032.93,961.58 1031.12,962.58 1029.31,963.49 1027.5,964.29 1025.69,965.05 1023.88,965.74 1022.07,966.32 1020.25,966.76 1018.44,967.14 1016.63,967.48 1014.82,967.77 1013.01,967.98 1011.2,968.1"/>
<polyline fill="none" stroke="#21382f" stroke-width="0.95" points="1011.2,958 1012.41,957.88 1014.22,957.67 1016.03,957.38 1017.84,957.04 1019.65,956.66 1021.47,956.22 1023.28,955.64 1025.09,954.95 1026.9,954.19 1028.71,953.39 1030.52,952.48 1032.33,951.48 1034.14,950.44 1035.95,949.37 1037.76,948.25 1039.57,947.07 1041.39,945.82 1043.2,944.48 1045.01,943.03 1046.82,941.5 1048.63,939.93 1050.44,938.38 1052.25,936.8 1054.06,935.2 1055.87,933.56 1057.68,931.88 1059.49,930.14 1061.31,928.35 1063.12,926.52 1064.93,924.65 1066.74,922.74 1068.55,920.78 1070.36,918.77 1072.17,916.73 1073.98,914.61 1075.79,912.45 1077.6,910.28 1079.42,908.13 1081.23,905.99 1083.04,903.84 1084.85,901.7 1086.66,899.56 1088.47,897.39 1090.28,895.22 1092.09,893.08 1093.9,891.01 1095.71,888.99 1097.52,887.01 1099.34,885.08 1101.15,883.19 1102.96,881.29 1104.77,879.42 1106.58,877.66 1108.39,876.1 1110.2,874.67 1112.01,873.35 1113.82,872.16 1115.63,871.14 1117.44,870.19 1119.26,869.35 1121.07,868.79 1122.88,868.52 1124.69,868.34 1126.5,868.32 1128.31,868.49 1130.12,868.78 1131.93,869.44 1133.74,870.52 1135.55,871.82 1137.36,873.22 1139.18,874.94 1140.99,876.96 1142.8,879.12 1144.61,881.37 1146.42,883.83 1148.23,886.42 1150.04,889.05 1151.85,891.7 1153.66,894.41 1155.47,897.15 1157.28,899.87 1159.1,902.6 1160.91,905.34 1162.72,908.03 1164.53,910.65 1166.34,913.21 1168.15,915.72 1169.96,918.18 1171.77,920.58 1173.58,922.94 1175.39,925.24 1177.21,927.49 1179.02,929.71 1180.83,931.9 1182.64,934 1184.45,935.96 1186.26,937.79 1188.07,939.53 1189.88,941.2 1191.69,942.84 1193.5,944.47 1195.31,946.04 1197.13,947.49 1198.94,948.8 1200.75,950.02 1202.56,951.15 1204.37,952.19 1206.18,953.15 1207.99,954.06 1209.8,954.87 1211.61,955.54 1213.42,956.16 1215.23,956.7 1217.05,957.13 1218.86,957.4 1220.67,957.63 1222.48,957.82 1224.29,957.95 1226.1,958"/>
<polyline fill="none" stroke="#21382f" stroke-width="0.95" points="1011.2,968.1 1013.01,967.98 1014.82,967.77 1016.63,967.48 1018.44,967.14 1020.25,966.76 1022.07,966.32 1023.88,965.74 1025.69,965.05 1027.5,964.29 1029.31,963.49 1031.12,962.58 1032.93,961.58 1034.74,960.54 1036.55,959.47 1038.36,958.35 1040.17,957.17 1041.99,955.92 1043.8,954.58 1045.61,953.13 1047.42,951.6 1049.23,950.03 1051.04,948.48 1052.85,946.9 1054.66,945.3 1056.47,943.66 1058.28,941.98 1060.09,940.24 1061.91,938.45 1063.72,936.62 1065.53,934.75 1067.34,932.84 1069.15,930.88 1070.96,928.87 1072.77,926.83 1074.58,924.71 1076.39,922.55 1078.2,920.38 1080.02,918.23 1081.83,916.09 1083.64,913.94 1085.45,911.8 1087.26,909.66 1089.07,907.49 1090.88,905.32 1092.69,903.18 1094.5,901.11 1096.31,899.09 1098.12,897.11 1099.94,895.18 1101.75,893.29 1103.56,891.39 1105.37,889.52 1107.18,887.76 1108.99,886.2 1110.8,884.77 1112.61,883.45 1114.42,882.26 1116.23,881.24 1118.04,880.29 1119.86,879.45 1121.67,878.89 1123.48,878.62 1125.29,878.44 1127.1,878.42 1128.91,878.59 1130.72,878.88 1132.53,879.54 1134.34,880.62 1136.15,881.92 1137.96,883.32 1139.78,885.04 1141.59,887.06 1143.4,889.22 1145.21,891.47 1147.02,893.93 1148.83,896.52 1150.64,899.15 1152.45,901.8 1154.26,904.51 1156.07,907.25 1157.88,909.97 1159.7,912.7 1161.51,915.44 1163.32,918.13 1165.13,920.75 1166.94,923.31 1168.75,925.82 1170.56,928.28 1172.37,930.68 1174.18,933.04 1175.99,935.34 1177.81,937.59 1179.62,939.81 1181.43,942 1183.24,944.1 1185.05,946.06 1186.86,947.89 1188.67,949.63 1190.48,951.3 1192.29,952.94 1194.1,954.57 1195.91,956.14 1197.73,957.59 1199.54,958.9 1201.35,960.12 1203.16,961.25 1204.97,962.29 1206.78,963.25 1208.59,964.16 1210.4,964.97 1212.21,965.64 1214.02,966.26 1215.83,966.8 1217.65,967.23 1219.46,967.5 1221.27,967.73 1223.08,967.92 1224.89,968.05 1226.7,968.1"/>
<polygon fill="#FF9733" points="1231.7,964.2 1233.5,964.08 1235.31,963.86 1237.11,963.57 1238.92,963.23 1240.72,962.85 1242.53,962.41 1244.33,961.82 1246.13,961.12 1247.94,960.37 1249.74,959.56 1251.55,958.64 1253.35,957.63 1255.15,956.58 1256.96,955.5 1258.76,954.38 1260.57,953.19 1262.37,951.93 1264.18,950.58 1265.98,949.12 1267.78,947.58 1269.59,946 1271.39,944.44 1273.2,942.85 1275,941.24 1276.81,939.59 1278.61,937.89 1280.41,936.14 1282.22,934.34 1284.02,932.5 1285.83,930.62 1287.63,928.69 1289.43,926.72 1291.24,924.7 1293.04,922.64 1294.85,920.5 1296.65,918.33 1298.46,916.15 1300.26,913.98 1302.06,911.83 1303.87,909.67 1305.67,907.52 1307.48,905.36 1309.28,903.18 1311.08,901 1312.89,898.85 1314.69,896.77 1316.5,894.74 1318.3,892.75 1320.11,890.81 1321.91,888.91 1323.71,887 1325.52,885.13 1327.32,883.37 1329.13,881.81 1330.93,880.39 1332.74,879.06 1334.54,877.88 1336.34,876.87 1338.15,875.92 1339.95,875.09 1341.76,874.56 1343.56,874.3 1345.36,874.13 1347.17,874.13 1348.97,874.32 1350.78,874.62 1352.58,875.33 1354.39,876.44 1356.19,877.75 1357.99,879.17 1359.8,880.93 1361.6,882.97 1363.41,885.14 1365.21,887.41 1367.02,889.89 1368.82,892.5 1370.62,895.14 1372.43,897.79 1374.23,900.52 1376.04,903.26 1377.84,905.99 1379.64,908.73 1381.45,911.47 1383.25,914.17 1385.06,916.79 1386.86,919.35 1388.67,921.87 1390.47,924.33 1392.27,926.74 1394.08,929.1 1395.88,931.41 1397.69,933.66 1399.49,935.89 1401.29,938.07 1403.1,940.17 1404.9,942.14 1406.71,943.97 1408.51,945.71 1410.32,947.38 1412.12,949.03 1413.92,950.66 1415.73,952.23 1417.53,953.68 1419.34,954.99 1421.14,956.22 1422.95,957.35 1424.75,958.38 1426.55,959.35 1428.36,960.26 1430.16,961.06 1431.97,961.74 1433.77,962.36 1435.57,962.9 1437.38,963.32 1439.18,963.6 1440.99,963.83 1442.79,964.02 1444.6,964.15 1446.4,964.2 1446.4,1009.8 1231.7,1009.8"/>
<polygon fill="#2FF7C6" points="1231.7,954.1 1232.9,953.98 1234.71,953.76 1236.51,953.47 1238.32,953.13 1240.12,952.75 1241.93,952.31 1243.73,951.72 1245.53,951.02 1247.34,950.27 1249.14,949.46 1250.95,948.54 1252.75,947.53 1254.55,946.48 1256.36,945.4 1258.16,944.28 1259.97,943.09 1261.77,941.83 1263.58,940.48 1265.38,939.02 1267.18,937.48 1268.99,935.9 1270.79,934.34 1272.6,932.75 1274.4,931.14 1276.21,929.49 1278.01,927.79 1279.81,926.04 1281.62,924.24 1283.42,922.4 1285.23,920.52 1287.03,918.59 1288.83,916.62 1290.64,914.6 1292.44,912.54 1294.25,910.4 1296.05,908.23 1297.86,906.05 1299.66,903.88 1301.46,901.73 1303.27,899.57 1305.07,897.42 1306.88,895.26 1308.68,893.08 1310.48,890.9 1312.29,888.75 1314.09,886.67 1315.9,884.64 1317.7,882.65 1319.51,880.71 1321.31,878.81 1323.11,876.9 1324.92,875.03 1326.72,873.27 1328.53,871.71 1330.33,870.29 1332.14,868.96 1333.94,867.78 1335.74,866.77 1337.55,865.82 1339.35,864.99 1341.16,864.46 1342.96,864.2 1344.76,864.03 1346.57,864.03 1348.37,864.22 1350.18,864.52 1351.98,865.23 1353.79,866.34 1355.59,867.65 1357.39,869.07 1359.2,870.83 1361,872.87 1362.81,875.04 1364.61,877.31 1366.42,879.79 1368.22,882.4 1370.02,885.04 1371.83,887.69 1373.63,890.42 1375.44,893.16 1377.24,895.89 1379.04,898.63 1380.85,901.37 1382.65,904.07 1384.46,906.69 1386.26,909.25 1388.07,911.77 1389.87,914.23 1391.67,916.64 1393.48,919 1395.28,921.31 1397.09,923.56 1398.89,925.79 1400.69,927.97 1402.5,930.07 1404.3,932.04 1406.11,933.87 1407.91,935.61 1409.72,937.28 1411.52,938.93 1413.32,940.56 1415.13,942.13 1416.93,943.58 1418.74,944.89 1420.54,946.12 1422.35,947.25 1424.15,948.28 1425.95,949.25 1427.76,950.16 1429.56,950.96 1431.37,951.64 1433.17,952.26 1434.97,952.8 1436.78,953.22 1438.58,953.5 1440.39,953.73 1442.19,953.92 1444,954.05 1445.8,954.1 1446.4,964.2 1444.6,964.15 1442.79,964.02 1440.99,963.83 1439.18,963.6 1437.38,963.32 1435.57,962.9 1433.77,962.36 1431.97,961.74 1430.16,961.06 1428.36,960.26 1426.55,959.35 1424.75,958.38 1422.95,957.35 1421.14,956.22 1419.34,954.99 1417.53,953.68 1415.73,952.23 1413.92,950.66 1412.12,949.03 1410.32,947.38 1408.51,945.71 1406.71,943.97 1404.9,942.14 1403.1,940.17 1401.29,938.07 1399.49,935.89 1397.69,933.66 1395.88,931.41 1394.08,929.1 1392.27,926.74 1390.47,924.33 1388.67,921.87 1386.86,919.35 1385.06,916.79 1383.25,914.17 1381.45,911.47 1379.64,908.73 1377.84,905.99 1376.04,903.26 1374.23,900.52 1372.43,897.79 1370.62,895.14 1368.82,892.5 1367.02,889.89 1365.21,887.41 1363.41,885.14 1361.6,882.97 1359.8,880.93 1357.99,879.17 1356.19,877.75 1354.39,876.44 1352.58,875.33 1350.78,874.62 1348.97,874.32 1347.17,874.13 1345.36,874.13 1343.56,874.3 1341.76,874.56 1339.95,875.09 1338.15,875.92 1336.34,876.87 1334.54,877.88 1332.74,879.06 1330.93,880.39 1329.13,881.81 1327.32,883.37 1325.52,885.13 1323.71,887 1321.91,888.91 1320.11,890.81 1318.3,892.75 1316.5,894.74 1314.69,896.77 1312.89,898.85 1311.08,901 1309.28,903.18 1307.48,905.36 1305.67,907.52 1303.87,909.67 1302.06,911.83 1300.26,913.98 1298.46,916.15 1296.65,918.33 1294.85,920.5 1293.04,922.64 1291.24,924.7 1289.43,926.72 1287.63,928.69 1285.83,930.62 1284.02,932.5 1282.22,934.34 1280.41,936.14 1278.61,937.89 1276.81,939.59 1275,941.24 1273.2,942.85 1271.39,944.44 1269.59,946 1267.78,947.58 1265.98,949.12 1264.18,950.58 1262.37,951.93 1260.57,953.19 1258.76,954.38 1256.96,955.5 1255.15,956.58 1253.35,957.63 1251.55,958.64 1249.74,959.56 1247.94,960.37 1246.13,961.12 1244.33,961.82 1242.53,962.41 1240.72,962.85 1238.92,963.23 1237.11,963.57 1235.31,963.86 1233.5,964.08 1231.7,964.2"/>
<polyline fill="none" stroke="#21382f" stroke-width="0.95" points="1231.7,954.1 1232.9,953.98 1234.71,953.76 1236.51,953.47 1238.32,953.13 1240.12,952.75 1241.93,952.31 1243.73,951.72 1245.53,951.02 1247.34,950.27 1249.14,949.46 1250.95,948.54 1252.75,947.53 1254.55,946.48 1256.36,945.4 1258.16,944.28 1259.97,943.09 1261.77,941.83 1263.58,940.48 1265.38,939.02 1267.18,937.48 1268.99,935.9 1270.79,934.34 1272.6,932.75 1274.4,931.14 1276.21,929.49 1278.01,927.79 1279.81,926.04 1281.62,924.24 1283.42,922.4 1285.23,920.52 1287.03,918.59 1288.83,916.62 1290.64,914.6 1292.44,912.54 1294.25,910.4 1296.05,908.23 1297.86,906.05 1299.66,903.88 1301.46,901.73 1303.27,899.57 1305.07,897.42 1306.88,895.26 1308.68,893.08 1310.48,890.9 1312.29,888.75 1314.09,886.67 1315.9,884.64 1317.7,882.65 1319.51,880.71 1321.31,878.81 1323.11,876.9 1324.92,875.03 1326.72,873.27 1328.53,871.71 1330.33,870.29 1332.14,868.96 1333.94,867.78 1335.74,866.77 1337.55,865.82 1339.35,864.99 1341.16,864.46 1342.96,864.2 1344.76,864.03 1346.57,864.03 1348.37,864.22 1350.18,864.52 1351.98,865.23 1353.79,866.34 1355.59,867.65 1357.39,869.07 1359.2,870.83 1361,872.87 1362.81,875.04 1364.61,877.31 1366.42,879.79 1368.22,882.4 1370.02,885.04 1371.83,887.69 1373.63,890.42 1375.44,893.16 1377.24,895.89 1379.04,898.63 1380.85,901.37 1382.65,904.07 1384.46,906.69 1386.26,909.25 1388.07,911.77 1389.87,914.23 1391.67,916.64 1393.48,919 1395.28,921.31 1397.09,923.56 1398.89,925.79 1400.69,927.97 1402.5,930.07 1404.3,932.04 1406.11,933.87 1407.91,935.61 1409.72,937.28 1411.52,938.93 1413.32,940.56 1415.13,942.13 1416.93,943.58 1418.74,944.89 1420.54,946.12 1422.35,947.25 1424.15,948.28 1425.95,949.25 1427.76,950.16 1429.56,950.96 1431.37,951.64 1433.17,952.26 1434.97,952.8 1436.78,953.22 1438.58,953.5 1440.39,953.73 1442.19,953.92 1444,954.05 1445.8,954.1"/>
<polyline fill="none" stroke="#21382f" stroke-width="0.95" points="1231.7,964.2 1233.5,964.08 1235.31,963.86 1237.11,963.57 1238.92,963.23 1240.72,962.85 1242.53,962.41 1244.33,961.82 1246.13,961.12 1247.94,960.37 1249.74,959.56 1251.55,958.64 1253.35,957.63 1255.15,956.58 1256.96,955.5 1258.76,954.38 1260.57,953.19 1262.37,951.93 1264.18,950.58 1265.98,949.12 1267.78,947.58 1269.59,946 1271.39,944.44 1273.2,942.85 1275,941.24 1276.81,939.59 1278.61,937.89 1280.41,936.14 1282.22,934.34 1284.02,932.5 1285.83,930.62 1287.63,928.69 1289.43,926.72 1291.24,924.7 1293.04,922.64 1294.85,920.5 1296.65,918.33 1298.46,916.15 1300.26,913.98 1302.06,911.83 1303.87,909.67 1305.67,907.52 1307.48,905.36 1309.28,903.18 1311.08,901 1312.89,898.85 1314.69,896.77 1316.5,894.74 1318.3,892.75 1320.11,890.81 1321.91,888.91 1323.71,887 1325.52,885.13 1327.32,883.37 1329.13,881.81 1330.93,880.39 1332.74,879.06 1334.54,877.88 1336.34,876.87 1338.15,875.92 1339.95,875.09 1341.76,874.56 1343.56,874.3 1345.36,874.13 1347.17,874.13 1348.97,874.32 1350.78,874.62 1352.58,875.33 1354.39,876.44 1356.19,877.75 1357.99,879.17 1359.8,880.93 1361.6,882.97 1363.41,885.14 1365.21,887.41 1367.02,889.89 1368.82,892.5 1370.62,895.14 1372.43,897.79 1374.23,900.52 1376.04,903.26 1377.84,905.99 1379.64,908.73 1381.45,911.47 1383.25,914.17 1385.06,916.79 1386.86,919.35 1388.67,921.87 1390.47,924.33 1392.27,926.74 1394.08,929.1 1395.88,931.41 1397.69,933.66 1399.49,935.89 1401.29,938.07 1403.1,940.17 1404.9,942.14 1406.71,943.97 1408.51,945.71 1410.32,947.38 1412.12,949.03 1413.92,950.66 1415.73,952.23 1417.53,953.68 1419.34,954.99 1421.14,956.22 1422.95,957.35 1424.75,958.38 1426.55,959.35 1428.36,960.26 1430.16,961.06 1431.97,961.74 1433.77,962.36 1435.57,962.9 1437.38,963.32 1439.18,963.6 1440.99,963.83 1442.79,964.02 1444.6,964.15 1446.4,964.2"/>
<line x1="790.8" y1="1009.6" x2="1446.4" y2="1009.6" stroke="#3a1208" stroke-width="1.3"/>
<path d="M790.8 1015.7l10.3 -6.3M801.45 1015.7l10.3 -6.3M812.11 1015.7l10.3 -6.3M822.76 1015.7l10.3 -6.3M833.42 1015.7l10.3 -6.3M844.07 1015.7l10.3 -6.3M854.73 1015.7l10.3 -6.3M865.38 1015.7l10.3 -6.3M876.04 1015.7l10.3 -6.3M886.69 1015.7l10.3 -6.3M897.35 1015.7l10.3 -6.3M908 1015.7l10.3 -6.3M918.66 1015.7l10.3 -6.3M929.31 1015.7l10.3 -6.3M939.97 1015.7l10.3 -6.3M950.62 1015.7l10.3 -6.3M961.28 1015.7l10.3 -6.3M971.93 1015.7l10.3 -6.3M982.59 1015.7l10.3 -6.3M993.24 1015.7l10.3 -6.3M1003.9 1015.7l10.3 -6.3M1014.55 1015.7l10.3 -6.3M1025.21 1015.7l10.3 -6.3M1035.87 1015.7l10.3 -6.3M1046.52 1015.7l10.3 -6.3M1057.17 1015.7l10.3 -6.3M1067.83 1015.7l10.3 -6.3M1078.48 1015.7l10.3 -6.3M1089.14 1015.7l10.3 -6.3M1099.8 1015.7l10.3 -6.3M1110.45 1015.7l10.3 -6.3M1121.11 1015.7l10.3 -6.3M1131.76 1015.7l10.3 -6.3M1142.41 1015.7l10.3 -6.3M1153.07 1015.7l10.3 -6.3M1163.72 1015.7l10.3 -6.3M1174.38 1015.7l10.3 -6.3M1185.03 1015.7l10.3 -6.3M1195.69 1015.7l10.3 -6.3M1206.34 1015.7l10.3 -6.3M1217 1015.7l10.3 -6.3M1227.65 1015.7l10.3 -6.3M1238.31 1015.7l10.3 -6.3M1248.96 1015.7l10.3 -6.3M1259.62 1015.7l10.3 -6.3M1270.27 1015.7l10.3 -6.3M1280.93 1015.7l10.3 -6.3M1291.59 1015.7l10.3 -6.3M1302.24 1015.7l10.3 -6.3M1312.89 1015.7l10.3 -6.3M1323.55 1015.7l10.3 -6.3M1334.2 1015.7l10.3 -6.3M1344.86 1015.7l10.3 -6.3M1355.51 1015.7l10.3 -6.3M1366.17 1015.7l10.3 -6.3M1376.82 1015.7l10.3 -6.3M1387.48 1015.7l10.3 -6.3M1398.13 1015.7l10.3 -6.3M1408.79 1015.7l10.3 -6.3M1419.44 1015.7l10.3 -6.3M1430.1 1015.7l10.3 -6.3" stroke="#000" stroke-width="2.1" stroke-linecap="round" fill="none"/>
<polygon fill="#FF9733" points="790.8,1484.49 792.61,1484.18 794.42,1483.82 796.23,1483.41 798.03,1482.93 799.84,1482.4 801.65,1481.8 803.46,1481.13 805.27,1480.35 807.08,1479.46 808.88,1478.48 810.69,1477.41 812.5,1476.22 814.31,1474.9 816.12,1473.46 817.93,1471.94 819.73,1470.32 821.54,1468.56 823.35,1466.7 825.16,1464.74 826.97,1462.69 828.78,1460.51 830.58,1458.22 832.39,1455.81 834.2,1453.27 836.01,1450.57 837.82,1447.73 839.63,1444.8 841.44,1441.77 843.24,1438.62 845.05,1435.36 846.86,1432.01 848.67,1428.58 850.48,1424.97 852.29,1421.27 854.09,1417.62 855.9,1414.13 857.71,1410.64 859.52,1407.2 861.33,1404.01 863.14,1401.26 864.94,1398.74 866.75,1396.39 868.56,1394.4 870.37,1392.94 872.18,1391.92 873.99,1391.08 875.79,1390.52 877.6,1390.27 879.41,1390.12 881.22,1390.14 883.03,1390.41 884.84,1390.83 886.65,1391.39 888.45,1392.32 890.26,1393.51 892.07,1394.82 893.88,1396.15 895.69,1397.67 897.5,1399.23 899.3,1400.73 901.11,1402.21 902.92,1403.74 904.73,1405.35 906.54,1407.09 908.35,1408.94 910.15,1410.87 911.96,1412.86 913.77,1414.92 915.58,1417.07 917.39,1419.27 919.2,1421.48 921.01,1423.66 922.81,1425.84 924.62,1428.02 926.43,1430.18 928.24,1432.31 930.05,1434.41 931.86,1436.5 933.66,1438.56 935.47,1440.59 937.28,1442.62 939.09,1444.63 940.9,1446.61 942.71,1448.53 944.51,1450.39 946.32,1452.2 948.13,1453.98 949.94,1455.75 951.75,1457.52 953.56,1459.28 955.36,1461 957.17,1462.65 958.98,1464.2 960.79,1465.68 962.6,1467.11 964.41,1468.49 966.22,1469.84 968.02,1471.16 969.83,1472.44 971.64,1473.65 973.45,1474.77 975.26,1475.84 977.07,1476.85 978.87,1477.79 980.68,1478.64 982.49,1479.45 984.3,1480.2 986.11,1480.88 987.92,1481.47 989.72,1481.99 991.53,1482.47 993.34,1482.89 995.15,1483.26 996.96,1483.6 998.77,1483.92 1000.57,1484.19 1002.38,1484.36 1004.19,1484.45 1006,1484.49 1006,1524.8 790.8,1524.8"/>
<polygon fill="#2FF7C6" points="790.8,1474.39 791.41,1474.08 793.22,1473.72 795.03,1473.31 796.83,1472.83 798.64,1472.3 800.45,1471.7 802.26,1471.03 804.07,1470.25 805.88,1469.36 807.68,1468.38 809.49,1467.31 811.3,1466.12 813.11,1464.8 814.92,1463.36 816.73,1461.84 818.53,1460.22 820.34,1458.46 822.15,1456.6 823.96,1454.64 825.77,1452.59 827.58,1450.41 829.38,1448.12 831.19,1445.71 833,1443.17 834.81,1440.47 836.62,1437.63 838.43,1434.7 840.24,1431.67 842.04,1428.52 843.85,1425.26 845.66,1421.91 847.47,1418.48 849.28,1414.87 851.09,1411.17 852.89,1407.52 854.7,1404.03 856.51,1400.54 858.32,1397.1 860.13,1393.91 861.94,1391.16 863.74,1388.64 865.55,1386.29 867.36,1384.3 869.17,1382.84 870.98,1381.82 872.79,1380.98 874.59,1380.42 876.4,1380.17 878.21,1380.02 880.02,1380.04 881.83,1380.31 883.64,1380.73 885.45,1381.29 887.25,1382.22 889.06,1383.41 890.87,1384.72 892.68,1386.05 894.49,1387.57 896.3,1389.13 898.1,1390.63 899.91,1392.11 901.72,1393.64 903.53,1395.25 905.34,1396.99 907.15,1398.84 908.95,1400.77 910.76,1402.76 912.57,1404.82 914.38,1406.97 916.19,1409.17 918,1411.38 919.81,1413.56 921.61,1415.74 923.42,1417.92 925.23,1420.08 927.04,1422.21 928.85,1424.31 930.66,1426.4 932.46,1428.46 934.27,1430.49 936.08,1432.52 937.89,1434.53 939.7,1436.51 941.51,1438.43 943.31,1440.29 945.12,1442.1 946.93,1443.88 948.74,1445.65 950.55,1447.42 952.36,1449.18 954.16,1450.9 955.97,1452.55 957.78,1454.1 959.59,1455.58 961.4,1457.01 963.21,1458.39 965.02,1459.74 966.82,1461.06 968.63,1462.34 970.44,1463.55 972.25,1464.67 974.06,1465.74 975.87,1466.75 977.67,1467.69 979.48,1468.54 981.29,1469.35 983.1,1470.1 984.91,1470.78 986.72,1471.37 988.52,1471.89 990.33,1472.37 992.14,1472.79 993.95,1473.16 995.76,1473.5 997.57,1473.82 999.37,1474.09 1001.18,1474.26 1002.99,1474.35 1004.8,1474.39 1006,1484.49 1004.19,1484.45 1002.38,1484.36 1000.57,1484.19 998.77,1483.92 996.96,1483.6 995.15,1483.26 993.34,1482.89 991.53,1482.47 989.72,1481.99 987.92,1481.47 986.11,1480.88 984.3,1480.2 982.49,1479.45 980.68,1478.64 978.87,1477.79 977.07,1476.85 975.26,1475.84 973.45,1474.77 971.64,1473.65 969.83,1472.44 968.02,1471.16 966.22,1469.84 964.41,1468.49 962.6,1467.11 960.79,1465.68 958.98,1464.2 957.17,1462.65 955.36,1461 953.56,1459.28 951.75,1457.52 949.94,1455.75 948.13,1453.98 946.32,1452.2 944.51,1450.39 942.71,1448.53 940.9,1446.61 939.09,1444.63 937.28,1442.62 935.47,1440.59 933.66,1438.56 931.86,1436.5 930.05,1434.41 928.24,1432.31 926.43,1430.18 924.62,1428.02 922.81,1425.84 921.01,1423.66 919.2,1421.48 917.39,1419.27 915.58,1417.07 913.77,1414.92 911.96,1412.86 910.15,1410.87 908.35,1408.94 906.54,1407.09 904.73,1405.35 902.92,1403.74 901.11,1402.21 899.3,1400.73 897.5,1399.23 895.69,1397.67 893.88,1396.15 892.07,1394.82 890.26,1393.51 888.45,1392.32 886.65,1391.39 884.84,1390.83 883.03,1390.41 881.22,1390.14 879.41,1390.12 877.6,1390.27 875.79,1390.52 873.99,1391.08 872.18,1391.92 870.37,1392.94 868.56,1394.4 866.75,1396.39 864.94,1398.74 863.14,1401.26 861.33,1404.01 859.52,1407.2 857.71,1410.64 855.9,1414.13 854.09,1417.62 852.29,1421.27 850.48,1424.97 848.67,1428.58 846.86,1432.01 845.05,1435.36 843.24,1438.62 841.44,1441.77 839.63,1444.8 837.82,1447.73 836.01,1450.57 834.2,1453.27 832.39,1455.81 830.58,1458.22 828.78,1460.51 826.97,1462.69 825.16,1464.74 823.35,1466.7 821.54,1468.56 819.73,1470.32 817.93,1471.94 816.12,1473.46 814.31,1474.9 812.5,1476.22 810.69,1477.41 808.88,1478.48 807.08,1479.46 805.27,1480.35 803.46,1481.13 801.65,1481.8 799.84,1482.4 798.03,1482.93 796.23,1483.41 794.42,1483.82 792.61,1484.18 790.8,1484.49"/>
<polyline fill="none" stroke="#21382f" stroke-width="0.95" points="790.8,1474.39 791.41,1474.08 793.22,1473.72 795.03,1473.31 796.83,1472.83 798.64,1472.3 800.45,1471.7 802.26,1471.03 804.07,1470.25 805.88,1469.36 807.68,1468.38 809.49,1467.31 811.3,1466.12 813.11,1464.8 814.92,1463.36 816.73,1461.84 818.53,1460.22 820.34,1458.46 822.15,1456.6 823.96,1454.64 825.77,1452.59 827.58,1450.41 829.38,1448.12 831.19,1445.71 833,1443.17 834.81,1440.47 836.62,1437.63 838.43,1434.7 840.24,1431.67 842.04,1428.52 843.85,1425.26 845.66,1421.91 847.47,1418.48 849.28,1414.87 851.09,1411.17 852.89,1407.52 854.7,1404.03 856.51,1400.54 858.32,1397.1 860.13,1393.91 861.94,1391.16 863.74,1388.64 865.55,1386.29 867.36,1384.3 869.17,1382.84 870.98,1381.82 872.79,1380.98 874.59,1380.42 876.4,1380.17 878.21,1380.02 880.02,1380.04 881.83,1380.31 883.64,1380.73 885.45,1381.29 887.25,1382.22 889.06,1383.41 890.87,1384.72 892.68,1386.05 894.49,1387.57 896.3,1389.13 898.1,1390.63 899.91,1392.11 901.72,1393.64 903.53,1395.25 905.34,1396.99 907.15,1398.84 908.95,1400.77 910.76,1402.76 912.57,1404.82 914.38,1406.97 916.19,1409.17 918,1411.38 919.81,1413.56 921.61,1415.74 923.42,1417.92 925.23,1420.08 927.04,1422.21 928.85,1424.31 930.66,1426.4 932.46,1428.46 934.27,1430.49 936.08,1432.52 937.89,1434.53 939.7,1436.51 941.51,1438.43 943.31,1440.29 945.12,1442.1 946.93,1443.88 948.74,1445.65 950.55,1447.42 952.36,1449.18 954.16,1450.9 955.97,1452.55 957.78,1454.1 959.59,1455.58 961.4,1457.01 963.21,1458.39 965.02,1459.74 966.82,1461.06 968.63,1462.34 970.44,1463.55 972.25,1464.67 974.06,1465.74 975.87,1466.75 977.67,1467.69 979.48,1468.54 981.29,1469.35 983.1,1470.1 984.91,1470.78 986.72,1471.37 988.52,1471.89 990.33,1472.37 992.14,1472.79 993.95,1473.16 995.76,1473.5 997.57,1473.82 999.37,1474.09 1001.18,1474.26 1002.99,1474.35 1004.8,1474.39"/>
<polyline fill="none" stroke="#21382f" stroke-width="0.95" points="790.8,1484.49 792.61,1484.18 794.42,1483.82 796.23,1483.41 798.03,1482.93 799.84,1482.4 801.65,1481.8 803.46,1481.13 805.27,1480.35 807.08,1479.46 808.88,1478.48 810.69,1477.41 812.5,1476.22 814.31,1474.9 816.12,1473.46 817.93,1471.94 819.73,1470.32 821.54,1468.56 823.35,1466.7 825.16,1464.74 826.97,1462.69 828.78,1460.51 830.58,1458.22 832.39,1455.81 834.2,1453.27 836.01,1450.57 837.82,1447.73 839.63,1444.8 841.44,1441.77 843.24,1438.62 845.05,1435.36 846.86,1432.01 848.67,1428.58 850.48,1424.97 852.29,1421.27 854.09,1417.62 855.9,1414.13 857.71,1410.64 859.52,1407.2 861.33,1404.01 863.14,1401.26 864.94,1398.74 866.75,1396.39 868.56,1394.4 870.37,1392.94 872.18,1391.92 873.99,1391.08 875.79,1390.52 877.6,1390.27 879.41,1390.12 881.22,1390.14 883.03,1390.41 884.84,1390.83 886.65,1391.39 888.45,1392.32 890.26,1393.51 892.07,1394.82 893.88,1396.15 895.69,1397.67 897.5,1399.23 899.3,1400.73 901.11,1402.21 902.92,1403.74 904.73,1405.35 906.54,1407.09 908.35,1408.94 910.15,1410.87 911.96,1412.86 913.77,1414.92 915.58,1417.07 917.39,1419.27 919.2,1421.48 921.01,1423.66 922.81,1425.84 924.62,1428.02 926.43,1430.18 928.24,1432.31 930.05,1434.41 931.86,1436.5 933.66,1438.56 935.47,1440.59 937.28,1442.62 939.09,1444.63 940.9,1446.61 942.71,1448.53 944.51,1450.39 946.32,1452.2 948.13,1453.98 949.94,1455.75 951.75,1457.52 953.56,1459.28 955.36,1461 957.17,1462.65 958.98,1464.2 960.79,1465.68 962.6,1467.11 964.41,1468.49 966.22,1469.84 968.02,1471.16 969.83,1472.44 971.64,1473.65 973.45,1474.77 975.26,1475.84 977.07,1476.85 978.87,1477.79 980.68,1478.64 982.49,1479.45 984.3,1480.2 986.11,1480.88 987.92,1481.47 989.72,1481.99 991.53,1482.47 993.34,1482.89 995.15,1483.26 996.96,1483.6 998.77,1483.92 1000.57,1484.19 1002.38,1484.36 1004.19,1484.45 1006,1484.49"/>
<polygon fill="#FF9733" points="1011.2,1487.5 1013.01,1487.22 1014.82,1486.89 1016.63,1486.5 1018.44,1486.07 1020.25,1485.58 1022.07,1485.03 1023.88,1484.43 1025.69,1483.73 1027.5,1482.93 1029.31,1482.04 1031.12,1481.07 1032.93,1480.01 1034.74,1478.83 1036.55,1477.53 1038.36,1476.16 1040.17,1474.7 1041.99,1473.13 1043.8,1471.45 1045.61,1469.68 1047.42,1467.83 1049.23,1465.89 1051.04,1463.83 1052.85,1461.67 1054.66,1459.4 1056.47,1457.01 1058.28,1454.47 1060.09,1451.82 1061.91,1449.07 1063.72,1446.25 1065.53,1443.32 1067.34,1440.28 1069.15,1437.16 1070.96,1433.98 1072.77,1430.63 1074.58,1427.2 1076.39,1423.78 1078.2,1420.51 1080.02,1417.27 1081.83,1414.04 1083.64,1410.99 1085.45,1408.28 1087.26,1405.9 1089.07,1403.64 1090.88,1401.62 1092.69,1400.01 1094.5,1398.93 1096.31,1398.04 1098.12,1397.37 1099.94,1396.99 1101.75,1396.8 1103.56,1396.7 1105.37,1396.81 1107.18,1397.14 1108.99,1397.58 1110.8,1398.28 1112.61,1399.33 1114.42,1400.58 1116.23,1401.87 1118.04,1403.26 1119.86,1404.81 1121.67,1406.31 1123.48,1407.78 1125.29,1409.26 1127.1,1410.81 1128.91,1412.48 1130.72,1414.27 1132.53,1416.15 1134.34,1418.11 1136.15,1420.11 1137.96,1422.21 1139.78,1424.38 1141.59,1426.56 1143.4,1428.71 1145.21,1430.86 1147.02,1433.01 1148.83,1435.14 1150.64,1437.24 1152.45,1439.31 1154.26,1441.36 1156.07,1443.39 1157.88,1445.4 1159.7,1447.4 1161.51,1449.38 1163.32,1451.32 1165.13,1453.2 1166.94,1455.03 1168.75,1456.81 1170.56,1458.56 1172.37,1460.3 1174.18,1462.04 1175.99,1463.77 1177.81,1465.45 1179.62,1467.03 1181.43,1468.54 1183.24,1469.98 1185.05,1471.36 1186.86,1472.71 1188.67,1474.03 1190.48,1475.31 1192.29,1476.54 1194.1,1477.68 1195.91,1478.76 1197.73,1479.78 1199.54,1480.73 1201.35,1481.6 1203.16,1482.41 1204.97,1483.17 1206.78,1483.86 1208.59,1484.47 1210.4,1484.99 1212.21,1485.47 1214.02,1485.9 1215.83,1486.27 1217.65,1486.61 1219.46,1486.93 1221.27,1487.2 1223.08,1487.37 1224.89,1487.46 1226.7,1487.5 1226.7,1524.8 1011.2,1524.8"/>
<polygon fill="#2FF7C6" points="1011.2,1477.4 1011.96,1477.12 1013.77,1476.79 1015.58,1476.4 1017.39,1475.97 1019.2,1475.48 1021.02,1474.93 1022.83,1474.33 1024.64,1473.63 1026.45,1472.83 1028.26,1471.94 1030.07,1470.97 1031.88,1469.91 1033.69,1468.73 1035.5,1467.43 1037.31,1466.06 1039.12,1464.6 1040.94,1463.03 1042.75,1461.35 1044.56,1459.58 1046.37,1457.73 1048.18,1455.79 1049.99,1453.73 1051.8,1451.57 1053.61,1449.3 1055.42,1446.91 1057.23,1444.37 1059.04,1441.72 1060.86,1438.97 1062.67,1436.15 1064.48,1433.22 1066.29,1430.18 1068.1,1427.06 1069.91,1423.88 1071.72,1420.53 1073.53,1417.1 1075.34,1413.68 1077.15,1410.41 1078.97,1407.17 1080.78,1403.94 1082.59,1400.89 1084.4,1398.18 1086.21,1395.8 1088.02,1393.54 1089.83,1391.52 1091.64,1389.91 1093.45,1388.83 1095.26,1387.94 1097.07,1387.27 1098.89,1386.89 1100.7,1386.7 1102.51,1386.6 1104.32,1386.71 1106.13,1387.04 1107.94,1387.48 1109.75,1388.18 1111.56,1389.23 1113.37,1390.48 1115.18,1391.77 1116.99,1393.16 1118.81,1394.71 1120.62,1396.21 1122.43,1397.68 1124.24,1399.16 1126.05,1400.71 1127.86,1402.38 1129.67,1404.17 1131.48,1406.05 1133.29,1408.01 1135.1,1410.01 1136.91,1412.11 1138.73,1414.28 1140.54,1416.46 1142.35,1418.61 1144.16,1420.76 1145.97,1422.91 1147.78,1425.04 1149.59,1427.14 1151.4,1429.21 1153.21,1431.26 1155.02,1433.29 1156.83,1435.3 1158.65,1437.3 1160.46,1439.28 1162.27,1441.22 1164.08,1443.1 1165.89,1444.93 1167.7,1446.71 1169.51,1448.46 1171.32,1450.2 1173.13,1451.94 1174.94,1453.67 1176.76,1455.35 1178.57,1456.93 1180.38,1458.44 1182.19,1459.88 1184,1461.26 1185.81,1462.61 1187.62,1463.93 1189.43,1465.21 1191.24,1466.44 1193.05,1467.58 1194.86,1468.66 1196.68,1469.68 1198.49,1470.63 1200.3,1471.5 1202.11,1472.31 1203.92,1473.07 1205.73,1473.76 1207.54,1474.37 1209.35,1474.89 1211.16,1475.37 1212.97,1475.8 1214.78,1476.17 1216.6,1476.51 1218.41,1476.83 1220.22,1477.1 1222.03,1477.27 1223.84,1477.36 1225.65,1477.4 1226.7,1487.5 1224.89,1487.46 1223.08,1487.37 1221.27,1487.2 1219.46,1486.93 1217.65,1486.61 1215.83,1486.27 1214.02,1485.9 1212.21,1485.47 1210.4,1484.99 1208.59,1484.47 1206.78,1483.86 1204.97,1483.17 1203.16,1482.41 1201.35,1481.6 1199.54,1480.73 1197.73,1479.78 1195.91,1478.76 1194.1,1477.68 1192.29,1476.54 1190.48,1475.31 1188.67,1474.03 1186.86,1472.71 1185.05,1471.36 1183.24,1469.98 1181.43,1468.54 1179.62,1467.03 1177.81,1465.45 1175.99,1463.77 1174.18,1462.04 1172.37,1460.3 1170.56,1458.56 1168.75,1456.81 1166.94,1455.03 1165.13,1453.2 1163.32,1451.32 1161.51,1449.38 1159.7,1447.4 1157.88,1445.4 1156.07,1443.39 1154.26,1441.36 1152.45,1439.31 1150.64,1437.24 1148.83,1435.14 1147.02,1433.01 1145.21,1430.86 1143.4,1428.71 1141.59,1426.56 1139.78,1424.38 1137.96,1422.21 1136.15,1420.11 1134.34,1418.11 1132.53,1416.15 1130.72,1414.27 1128.91,1412.48 1127.1,1410.81 1125.29,1409.26 1123.48,1407.78 1121.67,1406.31 1119.86,1404.81 1118.04,1403.26 1116.23,1401.87 1114.42,1400.58 1112.61,1399.33 1110.8,1398.28 1108.99,1397.58 1107.18,1397.14 1105.37,1396.81 1103.56,1396.7 1101.75,1396.8 1099.94,1396.99 1098.12,1397.37 1096.31,1398.04 1094.5,1398.93 1092.69,1400.01 1090.88,1401.62 1089.07,1403.64 1087.26,1405.9 1085.45,1408.28 1083.64,1410.99 1081.83,1414.04 1080.02,1417.27 1078.2,1420.51 1076.39,1423.78 1074.58,1427.2 1072.77,1430.63 1070.96,1433.98 1069.15,1437.16 1067.34,1440.28 1065.53,1443.32 1063.72,1446.25 1061.91,1449.07 1060.09,1451.82 1058.28,1454.47 1056.47,1457.01 1054.66,1459.4 1052.85,1461.67 1051.04,1463.83 1049.23,1465.89 1047.42,1467.83 1045.61,1469.68 1043.8,1471.45 1041.99,1473.13 1040.17,1474.7 1038.36,1476.16 1036.55,1477.53 1034.74,1478.83 1032.93,1480.01 1031.12,1481.07 1029.31,1482.04 1027.5,1482.93 1025.69,1483.73 1023.88,1484.43 1022.07,1485.03 1020.25,1485.58 1018.44,1486.07 1016.63,1486.5 1014.82,1486.89 1013.01,1487.22 1011.2,1487.5"/>
<polyline fill="none" stroke="#21382f" stroke-width="0.95" points="1011.2,1477.4 1011.96,1477.12 1013.77,1476.79 1015.58,1476.4 1017.39,1475.97 1019.2,1475.48 1021.02,1474.93 1022.83,1474.33 1024.64,1473.63 1026.45,1472.83 1028.26,1471.94 1030.07,1470.97 1031.88,1469.91 1033.69,1468.73 1035.5,1467.43 1037.31,1466.06 1039.12,1464.6 1040.94,1463.03 1042.75,1461.35 1044.56,1459.58 1046.37,1457.73 1048.18,1455.79 1049.99,1453.73 1051.8,1451.57 1053.61,1449.3 1055.42,1446.91 1057.23,1444.37 1059.04,1441.72 1060.86,1438.97 1062.67,1436.15 1064.48,1433.22 1066.29,1430.18 1068.1,1427.06 1069.91,1423.88 1071.72,1420.53 1073.53,1417.1 1075.34,1413.68 1077.15,1410.41 1078.97,1407.17 1080.78,1403.94 1082.59,1400.89 1084.4,1398.18 1086.21,1395.8 1088.02,1393.54 1089.83,1391.52 1091.64,1389.91 1093.45,1388.83 1095.26,1387.94 1097.07,1387.27 1098.89,1386.89 1100.7,1386.7 1102.51,1386.6 1104.32,1386.71 1106.13,1387.04 1107.94,1387.48 1109.75,1388.18 1111.56,1389.23 1113.37,1390.48 1115.18,1391.77 1116.99,1393.16 1118.81,1394.71 1120.62,1396.21 1122.43,1397.68 1124.24,1399.16 1126.05,1400.71 1127.86,1402.38 1129.67,1404.17 1131.48,1406.05 1133.29,1408.01 1135.1,1410.01 1136.91,1412.11 1138.73,1414.28 1140.54,1416.46 1142.35,1418.61 1144.16,1420.76 1145.97,1422.91 1147.78,1425.04 1149.59,1427.14 1151.4,1429.21 1153.21,1431.26 1155.02,1433.29 1156.83,1435.3 1158.65,1437.3 1160.46,1439.28 1162.27,1441.22 1164.08,1443.1 1165.89,1444.93 1167.7,1446.71 1169.51,1448.46 1171.32,1450.2 1173.13,1451.94 1174.94,1453.67 1176.76,1455.35 1178.57,1456.93 1180.38,1458.44 1182.19,1459.88 1184,1461.26 1185.81,1462.61 1187.62,1463.93 1189.43,1465.21 1191.24,1466.44 1193.05,1467.58 1194.86,1468.66 1196.68,1469.68 1198.49,1470.63 1200.3,1471.5 1202.11,1472.31 1203.92,1473.07 1205.73,1473.76 1207.54,1474.37 1209.35,1474.89 1211.16,1475.37 1212.97,1475.8 1214.78,1476.17 1216.6,1476.51 1218.41,1476.83 1220.22,1477.1 1222.03,1477.27 1223.84,1477.36 1225.65,1477.4"/>
<polyline fill="none" stroke="#21382f" stroke-width="0.95" points="1011.2,1487.5 1013.01,1487.22 1014.82,1486.89 1016.63,1486.5 1018.44,1486.07 1020.25,1485.58 1022.07,1485.03 1023.88,1484.43 1025.69,1483.73 1027.5,1482.93 1029.31,1482.04 1031.12,1481.07 1032.93,1480.01 1034.74,1478.83 1036.55,1477.53 1038.36,1476.16 1040.17,1474.7 1041.99,1473.13 1043.8,1471.45 1045.61,1469.68 1047.42,1467.83 1049.23,1465.89 1051.04,1463.83 1052.85,1461.67 1054.66,1459.4 1056.47,1457.01 1058.28,1454.47 1060.09,1451.82 1061.91,1449.07 1063.72,1446.25 1065.53,1443.32 1067.34,1440.28 1069.15,1437.16 1070.96,1433.98 1072.77,1430.63 1074.58,1427.2 1076.39,1423.78 1078.2,1420.51 1080.02,1417.27 1081.83,1414.04 1083.64,1410.99 1085.45,1408.28 1087.26,1405.9 1089.07,1403.64 1090.88,1401.62 1092.69,1400.01 1094.5,1398.93 1096.31,1398.04 1098.12,1397.37 1099.94,1396.99 1101.75,1396.8 1103.56,1396.7 1105.37,1396.81 1107.18,1397.14 1108.99,1397.58 1110.8,1398.28 1112.61,1399.33 1114.42,1400.58 1116.23,1401.87 1118.04,1403.26 1119.86,1404.81 1121.67,1406.31 1123.48,1407.78 1125.29,1409.26 1127.1,1410.81 1128.91,1412.48 1130.72,1414.27 1132.53,1416.15 1134.34,1418.11 1136.15,1420.11 1137.96,1422.21 1139.78,1424.38 1141.59,1426.56 1143.4,1428.71 1145.21,1430.86 1147.02,1433.01 1148.83,1435.14 1150.64,1437.24 1152.45,1439.31 1154.26,1441.36 1156.07,1443.39 1157.88,1445.4 1159.7,1447.4 1161.51,1449.38 1163.32,1451.32 1165.13,1453.2 1166.94,1455.03 1168.75,1456.81 1170.56,1458.56 1172.37,1460.3 1174.18,1462.04 1175.99,1463.77 1177.81,1465.45 1179.62,1467.03 1181.43,1468.54 1183.24,1469.98 1185.05,1471.36 1186.86,1472.71 1188.67,1474.03 1190.48,1475.31 1192.29,1476.54 1194.1,1477.68 1195.91,1478.76 1197.73,1479.78 1199.54,1480.73 1201.35,1481.6 1203.16,1482.41 1204.97,1483.17 1206.78,1483.86 1208.59,1484.47 1210.4,1484.99 1212.21,1485.47 1214.02,1485.9 1215.83,1486.27 1217.65,1486.61 1219.46,1486.93 1221.27,1487.2 1223.08,1487.37 1224.89,1487.46 1226.7,1487.5"/>
<polygon fill="#FF9733" points="1231.7,1491.4 1233.5,1491.12 1235.31,1490.8 1237.11,1490.42 1238.92,1489.99 1240.72,1489.51 1242.53,1488.97 1244.33,1488.37 1246.13,1487.68 1247.94,1486.88 1249.74,1486 1251.55,1485.05 1253.35,1484 1255.15,1482.83 1256.96,1481.54 1258.76,1480.18 1260.57,1478.74 1262.37,1477.19 1264.18,1475.52 1265.98,1473.77 1267.78,1471.94 1269.59,1470.01 1271.39,1467.98 1273.2,1465.83 1275,1463.59 1276.81,1461.21 1278.61,1458.69 1280.41,1456.07 1282.22,1453.36 1284.02,1450.57 1285.83,1447.66 1287.63,1444.65 1289.43,1441.58 1291.24,1438.42 1293.04,1435.1 1294.85,1431.72 1296.65,1428.39 1298.46,1425.2 1300.26,1422.01 1302.06,1418.86 1303.87,1415.94 1305.67,1413.4 1307.48,1411.1 1309.28,1408.93 1311.08,1407.05 1312.89,1405.64 1314.69,1404.67 1316.5,1403.86 1318.3,1403.29 1320.11,1403.01 1321.91,1402.85 1323.71,1402.81 1325.52,1403 1327.32,1403.37 1329.13,1403.85 1330.93,1404.66 1332.74,1405.76 1334.54,1407 1336.34,1408.26 1338.15,1409.68 1339.95,1411.19 1341.76,1412.62 1343.56,1414.04 1345.36,1415.5 1347.17,1417.03 1348.97,1418.69 1350.78,1420.46 1352.58,1422.31 1354.39,1424.21 1356.19,1426.18 1357.99,1428.24 1359.8,1430.35 1361.6,1432.46 1363.41,1434.55 1365.21,1436.63 1367.02,1438.72 1368.82,1440.78 1370.62,1442.81 1372.43,1444.82 1374.23,1446.81 1376.04,1448.77 1377.84,1450.72 1379.64,1452.65 1381.45,1454.57 1383.25,1456.44 1385.06,1458.26 1386.86,1460.02 1388.67,1461.74 1390.47,1463.44 1392.27,1465.13 1394.08,1466.82 1395.88,1468.49 1397.69,1470.11 1399.49,1471.64 1401.29,1473.09 1403.1,1474.48 1404.9,1475.82 1406.71,1477.12 1408.51,1478.4 1410.32,1479.64 1412.12,1480.82 1413.92,1481.92 1415.73,1482.96 1417.53,1483.95 1419.34,1484.87 1421.14,1485.7 1422.95,1486.49 1424.75,1487.22 1426.55,1487.89 1428.36,1488.47 1430.16,1488.98 1431.97,1489.44 1433.77,1489.85 1435.57,1490.21 1437.38,1490.54 1439.18,1490.85 1440.99,1491.11 1442.79,1491.28 1444.6,1491.36 1446.4,1491.4 1446.4,1524.8 1231.7,1524.8"/>
<polygon fill="#2FF7C6" points="1231.7,1481.3 1232.45,1481.02 1234.26,1480.7 1236.06,1480.32 1237.87,1479.89 1239.67,1479.41 1241.48,1478.87 1243.28,1478.27 1245.08,1477.58 1246.89,1476.78 1248.69,1475.9 1250.5,1474.95 1252.3,1473.9 1254.1,1472.73 1255.91,1471.44 1257.71,1470.08 1259.52,1468.64 1261.32,1467.09 1263.13,1465.42 1264.93,1463.67 1266.73,1461.84 1268.54,1459.91 1270.34,1457.88 1272.15,1455.73 1273.95,1453.49 1275.76,1451.11 1277.56,1448.59 1279.36,1445.97 1281.17,1443.26 1282.97,1440.47 1284.78,1437.56 1286.58,1434.55 1288.38,1431.48 1290.19,1428.32 1291.99,1425 1293.8,1421.62 1295.6,1418.29 1297.41,1415.1 1299.21,1411.91 1301.01,1408.76 1302.82,1405.84 1304.62,1403.3 1306.43,1401 1308.23,1398.83 1310.03,1396.95 1311.84,1395.54 1313.64,1394.57 1315.45,1393.76 1317.25,1393.19 1319.06,1392.91 1320.86,1392.75 1322.66,1392.71 1324.47,1392.9 1326.27,1393.27 1328.08,1393.75 1329.88,1394.56 1331.69,1395.66 1333.49,1396.9 1335.29,1398.16 1337.1,1399.58 1338.9,1401.09 1340.71,1402.52 1342.51,1403.94 1344.31,1405.4 1346.12,1406.93 1347.92,1408.59 1349.73,1410.36 1351.53,1412.21 1353.34,1414.11 1355.14,1416.08 1356.94,1418.14 1358.75,1420.25 1360.55,1422.36 1362.36,1424.45 1364.16,1426.53 1365.97,1428.62 1367.77,1430.68 1369.57,1432.71 1371.38,1434.72 1373.18,1436.71 1374.99,1438.67 1376.79,1440.62 1378.59,1442.55 1380.4,1444.47 1382.2,1446.34 1384.01,1448.16 1385.81,1449.92 1387.62,1451.64 1389.42,1453.34 1391.22,1455.03 1393.03,1456.72 1394.83,1458.39 1396.64,1460.01 1398.44,1461.54 1400.24,1462.99 1402.05,1464.38 1403.85,1465.72 1405.66,1467.02 1407.46,1468.3 1409.27,1469.54 1411.07,1470.72 1412.87,1471.82 1414.68,1472.86 1416.48,1473.85 1418.29,1474.77 1420.09,1475.6 1421.9,1476.39 1423.7,1477.12 1425.5,1477.79 1427.31,1478.37 1429.11,1478.88 1430.92,1479.34 1432.72,1479.75 1434.52,1480.11 1436.33,1480.44 1438.13,1480.75 1439.94,1481.01 1441.74,1481.18 1443.55,1481.26 1445.35,1481.3 1446.4,1491.4 1444.6,1491.36 1442.79,1491.28 1440.99,1491.11 1439.18,1490.85 1437.38,1490.54 1435.57,1490.21 1433.77,1489.85 1431.97,1489.44 1430.16,1488.98 1428.36,1488.47 1426.55,1487.89 1424.75,1487.22 1422.95,1486.49 1421.14,1485.7 1419.34,1484.87 1417.53,1483.95 1415.73,1482.96 1413.92,1481.92 1412.12,1480.82 1410.32,1479.64 1408.51,1478.4 1406.71,1477.12 1404.9,1475.82 1403.1,1474.48 1401.29,1473.09 1399.49,1471.64 1397.69,1470.11 1395.88,1468.49 1394.08,1466.82 1392.27,1465.13 1390.47,1463.44 1388.67,1461.74 1386.86,1460.02 1385.06,1458.26 1383.25,1456.44 1381.45,1454.57 1379.64,1452.65 1377.84,1450.72 1376.04,1448.77 1374.23,1446.81 1372.43,1444.82 1370.62,1442.81 1368.82,1440.78 1367.02,1438.72 1365.21,1436.63 1363.41,1434.55 1361.6,1432.46 1359.8,1430.35 1357.99,1428.24 1356.19,1426.18 1354.39,1424.21 1352.58,1422.31 1350.78,1420.46 1348.97,1418.69 1347.17,1417.03 1345.36,1415.5 1343.56,1414.04 1341.76,1412.62 1339.95,1411.19 1338.15,1409.68 1336.34,1408.26 1334.54,1407 1332.74,1405.76 1330.93,1404.66 1329.13,1403.85 1327.32,1403.37 1325.52,1403 1323.71,1402.81 1321.91,1402.85 1320.11,1403.01 1318.3,1403.29 1316.5,1403.86 1314.69,1404.67 1312.89,1405.64 1311.08,1407.05 1309.28,1408.93 1307.48,1411.1 1305.67,1413.4 1303.87,1415.94 1302.06,1418.86 1300.26,1422.01 1298.46,1425.2 1296.65,1428.39 1294.85,1431.72 1293.04,1435.1 1291.24,1438.42 1289.43,1441.58 1287.63,1444.65 1285.83,1447.66 1284.02,1450.57 1282.22,1453.36 1280.41,1456.07 1278.61,1458.69 1276.81,1461.21 1275,1463.59 1273.2,1465.83 1271.39,1467.98 1269.59,1470.01 1267.78,1471.94 1265.98,1473.77 1264.18,1475.52 1262.37,1477.19 1260.57,1478.74 1258.76,1480.18 1256.96,1481.54 1255.15,1482.83 1253.35,1484 1251.55,1485.05 1249.74,1486 1247.94,1486.88 1246.13,1487.68 1244.33,1488.37 1242.53,1488.97 1240.72,1489.51 1238.92,1489.99 1237.11,1490.42 1235.31,1490.8 1233.5,1491.12 1231.7,1491.4"/>
<polyline fill="none" stroke="#21382f" stroke-width="0.95" points="1231.7,1481.3 1232.45,1481.02 1234.26,1480.7 1236.06,1480.32 1237.87,1479.89 1239.67,1479.41 1241.48,1478.87 1243.28,1478.27 1245.08,1477.58 1246.89,1476.78 1248.69,1475.9 1250.5,1474.95 1252.3,1473.9 1254.1,1472.73 1255.91,1471.44 1257.71,1470.08 1259.52,1468.64 1261.32,1467.09 1263.13,1465.42 1264.93,1463.67 1266.73,1461.84 1268.54,1459.91 1270.34,1457.88 1272.15,1455.73 1273.95,1453.49 1275.76,1451.11 1277.56,1448.59 1279.36,1445.97 1281.17,1443.26 1282.97,1440.47 1284.78,1437.56 1286.58,1434.55 1288.38,1431.48 1290.19,1428.32 1291.99,1425 1293.8,1421.62 1295.6,1418.29 1297.41,1415.1 1299.21,1411.91 1301.01,1408.76 1302.82,1405.84 1304.62,1403.3 1306.43,1401 1308.23,1398.83 1310.03,1396.95 1311.84,1395.54 1313.64,1394.57 1315.45,1393.76 1317.25,1393.19 1319.06,1392.91 1320.86,1392.75 1322.66,1392.71 1324.47,1392.9 1326.27,1393.27 1328.08,1393.75 1329.88,1394.56 1331.69,1395.66 1333.49,1396.9 1335.29,1398.16 1337.1,1399.58 1338.9,1401.09 1340.71,1402.52 1342.51,1403.94 1344.31,1405.4 1346.12,1406.93 1347.92,1408.59 1349.73,1410.36 1351.53,1412.21 1353.34,1414.11 1355.14,1416.08 1356.94,1418.14 1358.75,1420.25 1360.55,1422.36 1362.36,1424.45 1364.16,1426.53 1365.97,1428.62 1367.77,1430.68 1369.57,1432.71 1371.38,1434.72 1373.18,1436.71 1374.99,1438.67 1376.79,1440.62 1378.59,1442.55 1380.4,1444.47 1382.2,1446.34 1384.01,1448.16 1385.81,1449.92 1387.62,1451.64 1389.42,1453.34 1391.22,1455.03 1393.03,1456.72 1394.83,1458.39 1396.64,1460.01 1398.44,1461.54 1400.24,1462.99 1402.05,1464.38 1403.85,1465.72 1405.66,1467.02 1407.46,1468.3 1409.27,1469.54 1411.07,1470.72 1412.87,1471.82 1414.68,1472.86 1416.48,1473.85 1418.29,1474.77 1420.09,1475.6 1421.9,1476.39 1423.7,1477.12 1425.5,1477.79 1427.31,1478.37 1429.11,1478.88 1430.92,1479.34 1432.72,1479.75 1434.52,1480.11 1436.33,1480.44 1438.13,1480.75 1439.94,1481.01 1441.74,1481.18 1443.55,1481.26 1445.35,1481.3"/>
<polyline fill="none" stroke="#21382f" stroke-width="0.95" points="1231.7,1491.4 1233.5,1491.12 1235.31,1490.8 1237.11,1490.42 1238.92,1489.99 1240.72,1489.51 1242.53,1488.97 1244.33,1488.37 1246.13,1487.68 1247.94,1486.88 1249.74,1486 1251.55,1485.05 1253.35,1484 1255.15,1482.83 1256.96,1481.54 1258.76,1480.18 1260.57,1478.74 1262.37,1477.19 1264.18,1475.52 1265.98,1473.77 1267.78,1471.94 1269.59,1470.01 1271.39,1467.98 1273.2,1465.83 1275,1463.59 1276.81,1461.21 1278.61,1458.69 1280.41,1456.07 1282.22,1453.36 1284.02,1450.57 1285.83,1447.66 1287.63,1444.65 1289.43,1441.58 1291.24,1438.42 1293.04,1435.1 1294.85,1431.72 1296.65,1428.39 1298.46,1425.2 1300.26,1422.01 1302.06,1418.86 1303.87,1415.94 1305.67,1413.4 1307.48,1411.1 1309.28,1408.93 1311.08,1407.05 1312.89,1405.64 1314.69,1404.67 1316.5,1403.86 1318.3,1403.29 1320.11,1403.01 1321.91,1402.85 1323.71,1402.81 1325.52,1403 1327.32,1403.37 1329.13,1403.85 1330.93,1404.66 1332.74,1405.76 1334.54,1407 1336.34,1408.26 1338.15,1409.68 1339.95,1411.19 1341.76,1412.62 1343.56,1414.04 1345.36,1415.5 1347.17,1417.03 1348.97,1418.69 1350.78,1420.46 1352.58,1422.31 1354.39,1424.21 1356.19,1426.18 1357.99,1428.24 1359.8,1430.35 1361.6,1432.46 1363.41,1434.55 1365.21,1436.63 1367.02,1438.72 1368.82,1440.78 1370.62,1442.81 1372.43,1444.82 1374.23,1446.81 1376.04,1448.77 1377.84,1450.72 1379.64,1452.65 1381.45,1454.57 1383.25,1456.44 1385.06,1458.26 1386.86,1460.02 1388.67,1461.74 1390.47,1463.44 1392.27,1465.13 1394.08,1466.82 1395.88,1468.49 1397.69,1470.11 1399.49,1471.64 1401.29,1473.09 1403.1,1474.48 1404.9,1475.82 1406.71,1477.12 1408.51,1478.4 1410.32,1479.64 1412.12,1480.82 1413.92,1481.92 1415.73,1482.96 1417.53,1483.95 1419.34,1484.87 1421.14,1485.7 1422.95,1486.49 1424.75,1487.22 1426.55,1487.89 1428.36,1488.47 1430.16,1488.98 1431.97,1489.44 1433.77,1489.85 1435.57,1490.21 1437.38,1490.54 1439.18,1490.85 1440.99,1491.11 1442.79,1491.28 1444.6,1491.36 1446.4,1491.4"/>
<line x1="790.8" y1="1524.6" x2="1446.4" y2="1524.6" stroke="#3a1208" stroke-width="1.3"/>
<path d="M790.8 1530.7l10.3 -6.3M801.45 1530.7l10.3 -6.3M812.11 1530.7l10.3 -6.3M822.76 1530.7l10.3 -6.3M833.42 1530.7l10.3 -6.3M844.07 1530.7l10.3 -6.3M854.73 1530.7l10.3 -6.3M865.38 1530.7l10.3 -6.3M876.04 1530.7l10.3 -6.3M886.69 1530.7l10.3 -6.3M897.35 1530.7l10.3 -6.3M908 1530.7l10.3 -6.3M918.66 1530.7l10.3 -6.3M929.31 1530.7l10.3 -6.3M939.97 1530.7l10.3 -6.3M950.62 1530.7l10.3 -6.3M961.28 1530.7l10.3 -6.3M971.93 1530.7l10.3 -6.3M982.59 1530.7l10.3 -6.3M993.24 1530.7l10.3 -6.3M1003.9 1530.7l10.3 -6.3M1014.55 1530.7l10.3 -6.3M1025.21 1530.7l10.3 -6.3M1035.87 1530.7l10.3 -6.3M1046.52 1530.7l10.3 -6.3M1057.17 1530.7l10.3 -6.3M1067.83 1530.7l10.3 -6.3M1078.48 1530.7l10.3 -6.3M1089.14 1530.7l10.3 -6.3M1099.8 1530.7l10.3 -6.3M1110.45 1530.7l10.3 -6.3M1121.11 1530.7l10.3 -6.3M1131.76 1530.7l10.3 -6.3M1142.41 1530.7l10.3 -6.3M1153.07 1530.7l10.3 -6.3M1163.72 1530.7l10.3 -6.3M1174.38 1530.7l10.3 -6.3M1185.03 1530.7l10.3 -6.3M1195.69 1530.7l10.3 -6.3M1206.34 1530.7l10.3 -6.3M1217 1530.7l10.3 -6.3M1227.65 1530.7l10.3 -6.3M1238.31 1530.7l10.3 -6.3M1248.96 1530.7l10.3 -6.3M1259.62 1530.7l10.3 -6.3M1270.27 1530.7l10.3 -6.3M1280.93 1530.7l10.3 -6.3M1291.59 1530.7l10.3 -6.3M1302.24 1530.7l10.3 -6.3M1312.89 1530.7l10.3 -6.3M1323.55 1530.7l10.3 -6.3M1334.2 1530.7l10.3 -6.3M1344.86 1530.7l10.3 -6.3M1355.51 1530.7l10.3 -6.3M1366.17 1530.7l10.3 -6.3M1376.82 1530.7l10.3 -6.3M1387.48 1530.7l10.3 -6.3M1398.13 1530.7l10.3 -6.3M1408.79 1530.7l10.3 -6.3M1419.44 1530.7l10.3 -6.3M1430.1 1530.7l10.3 -6.3" stroke="#000" stroke-width="2.1" stroke-linecap="round" fill="none"/>
<polygon fill="#FF9733" points="790.8,1985.94 792.61,1985.88 794.42,1985.71 796.23,1985.46 798.03,1985.16 799.84,1984.84 801.65,1984.42 803.46,1983.83 805.27,1983.14 807.08,1982.4 808.88,1981.62 810.69,1980.75 812.5,1979.8 814.31,1978.78 816.12,1977.65 817.93,1976.41 819.73,1975.07 821.54,1973.67 823.35,1972.17 825.16,1970.56 826.97,1968.86 828.78,1967.08 830.58,1965.19 832.39,1963.19 834.2,1961.13 836.01,1959.06 837.82,1956.96 839.63,1954.82 841.44,1952.6 843.24,1950.27 845.05,1947.81 846.86,1945.25 848.67,1942.65 850.48,1940.02 852.29,1937.33 854.09,1934.6 855.9,1931.86 857.71,1929.14 859.52,1926.4 861.33,1923.68 863.14,1921 864.94,1918.37 866.75,1915.74 868.56,1913.19 870.37,1910.81 872.18,1908.57 873.99,1906.4 875.79,1904.41 877.6,1902.75 879.41,1901.39 881.22,1900.17 883.03,1899.15 884.84,1898.37 886.65,1897.74 888.45,1897.21 890.26,1896.95 892.07,1897.07 893.88,1897.44 895.69,1897.94 897.5,1898.58 899.3,1899.53 901.11,1900.71 902.92,1902.14 904.73,1904.03 906.54,1905.97 908.35,1907.91 910.15,1909.9 911.96,1911.94 913.77,1914.02 915.58,1916.18 917.39,1918.37 919.2,1920.58 921.01,1922.76 922.81,1924.94 924.62,1927.11 926.43,1929.29 928.24,1931.47 930.05,1933.68 931.86,1935.88 933.66,1938.02 935.47,1940.1 937.28,1942.13 939.09,1944.11 940.9,1946.05 942.71,1947.93 944.51,1949.78 946.32,1951.58 948.13,1953.32 949.94,1955.02 951.75,1956.66 953.56,1958.26 955.36,1959.86 957.17,1961.46 958.98,1963.05 960.79,1964.61 962.6,1966.08 964.41,1967.49 966.22,1968.84 968.02,1970.14 969.83,1971.42 971.64,1972.67 973.45,1973.89 975.26,1975.05 977.07,1976.14 978.87,1977.18 980.68,1978.16 982.49,1979.1 984.3,1979.98 986.11,1980.84 987.92,1981.66 989.72,1982.4 991.53,1983.05 993.34,1983.68 995.15,1984.23 996.96,1984.69 998.77,1985.03 1000.57,1985.34 1002.38,1985.61 1004.19,1985.81 1006,1985.94 1006,2039.6 790.8,2039.6"/>
<polygon fill="#2FF7C6" points="790.8,1975.94 792.16,1975.88 793.97,1975.71 795.78,1975.46 797.58,1975.16 799.39,1974.84 801.2,1974.42 803.01,1973.83 804.82,1973.14 806.63,1972.4 808.43,1971.62 810.24,1970.75 812.05,1969.8 813.86,1968.78 815.67,1967.65 817.48,1966.41 819.28,1965.07 821.09,1963.67 822.9,1962.17 824.71,1960.56 826.52,1958.86 828.33,1957.08 830.13,1955.19 831.94,1953.19 833.75,1951.13 835.56,1949.06 837.37,1946.96 839.18,1944.82 840.99,1942.6 842.79,1940.27 844.6,1937.81 846.41,1935.25 848.22,1932.65 850.03,1930.02 851.84,1927.33 853.64,1924.6 855.45,1921.86 857.26,1919.14 859.07,1916.4 860.88,1913.68 862.69,1911 864.49,1908.37 866.3,1905.74 868.11,1903.19 869.92,1900.81 871.73,1898.57 873.54,1896.4 875.34,1894.41 877.15,1892.75 878.96,1891.39 880.77,1890.17 882.58,1889.15 884.39,1888.37 886.2,1887.74 888,1887.21 889.81,1886.95 891.62,1887.07 893.43,1887.44 895.24,1887.94 897.05,1888.58 898.85,1889.53 900.66,1890.71 902.47,1892.14 904.28,1894.03 906.09,1895.97 907.9,1897.91 909.7,1899.9 911.51,1901.94 913.32,1904.02 915.13,1906.18 916.94,1908.37 918.75,1910.58 920.56,1912.76 922.36,1914.94 924.17,1917.11 925.98,1919.29 927.79,1921.47 929.6,1923.68 931.41,1925.88 933.21,1928.02 935.02,1930.1 936.83,1932.13 938.64,1934.11 940.45,1936.05 942.26,1937.93 944.06,1939.78 945.87,1941.58 947.68,1943.32 949.49,1945.02 951.3,1946.66 953.11,1948.26 954.91,1949.86 956.72,1951.46 958.53,1953.05 960.34,1954.61 962.15,1956.08 963.96,1957.49 965.77,1958.84 967.57,1960.14 969.38,1961.42 971.19,1962.67 973,1963.89 974.81,1965.05 976.62,1966.14 978.42,1967.18 980.23,1968.16 982.04,1969.1 983.85,1969.98 985.66,1970.84 987.47,1971.66 989.27,1972.4 991.08,1973.05 992.89,1973.68 994.7,1974.23 996.51,1974.69 998.32,1975.03 1000.12,1975.34 1001.93,1975.61 1003.74,1975.81 1005.55,1975.94 1006,1985.94 1004.19,1985.81 1002.38,1985.61 1000.57,1985.34 998.77,1985.03 996.96,1984.69 995.15,1984.23 993.34,1983.68 991.53,1983.05 989.72,1982.4 987.92,1981.66 986.11,1980.84 984.3,1979.98 982.49,1979.1 980.68,1978.16 978.87,1977.18 977.07,1976.14 975.26,1975.05 973.45,1973.89 971.64,1972.67 969.83,1971.42 968.02,1970.14 966.22,1968.84 964.41,1967.49 962.6,1966.08 960.79,1964.61 958.98,1963.05 957.17,1961.46 955.36,1959.86 953.56,1958.26 951.75,1956.66 949.94,1955.02 948.13,1953.32 946.32,1951.58 944.51,1949.78 942.71,1947.93 940.9,1946.05 939.09,1944.11 937.28,1942.13 935.47,1940.1 933.66,1938.02 931.86,1935.88 930.05,1933.68 928.24,1931.47 926.43,1929.29 924.62,1927.11 922.81,1924.94 921.01,1922.76 919.2,1920.58 917.39,1918.37 915.58,1916.18 913.77,1914.02 911.96,1911.94 910.15,1909.9 908.35,1907.91 906.54,1905.97 904.73,1904.03 902.92,1902.14 901.11,1900.71 899.3,1899.53 897.5,1898.58 895.69,1897.94 893.88,1897.44 892.07,1897.07 890.26,1896.95 888.45,1897.21 886.65,1897.74 884.84,1898.37 883.03,1899.15 881.22,1900.17 879.41,1901.39 877.6,1902.75 875.79,1904.41 873.99,1906.4 872.18,1908.57 870.37,1910.81 868.56,1913.19 866.75,1915.74 864.94,1918.37 863.14,1921 861.33,1923.68 859.52,1926.4 857.71,1929.14 855.9,1931.86 854.09,1934.6 852.29,1937.33 850.48,1940.02 848.67,1942.65 846.86,1945.25 845.05,1947.81 843.24,1950.27 841.44,1952.6 839.63,1954.82 837.82,1956.96 836.01,1959.06 834.2,1961.13 832.39,1963.19 830.58,1965.19 828.78,1967.08 826.97,1968.86 825.16,1970.56 823.35,1972.17 821.54,1973.67 819.73,1975.07 817.93,1976.41 816.12,1977.65 814.31,1978.78 812.5,1979.8 810.69,1980.75 808.88,1981.62 807.08,1982.4 805.27,1983.14 803.46,1983.83 801.65,1984.42 799.84,1984.84 798.03,1985.16 796.23,1985.46 794.42,1985.71 792.61,1985.88 790.8,1985.94"/>
<polyline fill="none" stroke="#21382f" stroke-width="0.95" points="790.8,1975.94 792.16,1975.88 793.97,1975.71 795.78,1975.46 797.58,1975.16 799.39,1974.84 801.2,1974.42 803.01,1973.83 804.82,1973.14 806.63,1972.4 808.43,1971.62 810.24,1970.75 812.05,1969.8 813.86,1968.78 815.67,1967.65 817.48,1966.41 819.28,1965.07 821.09,1963.67 822.9,1962.17 824.71,1960.56 826.52,1958.86 828.33,1957.08 830.13,1955.19 831.94,1953.19 833.75,1951.13 835.56,1949.06 837.37,1946.96 839.18,1944.82 840.99,1942.6 842.79,1940.27 844.6,1937.81 846.41,1935.25 848.22,1932.65 850.03,1930.02 851.84,1927.33 853.64,1924.6 855.45,1921.86 857.26,1919.14 859.07,1916.4 860.88,1913.68 862.69,1911 864.49,1908.37 866.3,1905.74 868.11,1903.19 869.92,1900.81 871.73,1898.57 873.54,1896.4 875.34,1894.41 877.15,1892.75 878.96,1891.39 880.77,1890.17 882.58,1889.15 884.39,1888.37 886.2,1887.74 888,1887.21 889.81,1886.95 891.62,1887.07 893.43,1887.44 895.24,1887.94 897.05,1888.58 898.85,1889.53 900.66,1890.71 902.47,1892.14 904.28,1894.03 906.09,1895.97 907.9,1897.91 909.7,1899.9 911.51,1901.94 913.32,1904.02 915.13,1906.18 916.94,1908.37 918.75,1910.58 920.56,1912.76 922.36,1914.94 924.17,1917.11 925.98,1919.29 927.79,1921.47 929.6,1923.68 931.41,1925.88 933.21,1928.02 935.02,1930.1 936.83,1932.13 938.64,1934.11 940.45,1936.05 942.26,1937.93 944.06,1939.78 945.87,1941.58 947.68,1943.32 949.49,1945.02 951.3,1946.66 953.11,1948.26 954.91,1949.86 956.72,1951.46 958.53,1953.05 960.34,1954.61 962.15,1956.08 963.96,1957.49 965.77,1958.84 967.57,1960.14 969.38,1961.42 971.19,1962.67 973,1963.89 974.81,1965.05 976.62,1966.14 978.42,1967.18 980.23,1968.16 982.04,1969.1 983.85,1969.98 985.66,1970.84 987.47,1971.66 989.27,1972.4 991.08,1973.05 992.89,1973.68 994.7,1974.23 996.51,1974.69 998.32,1975.03 1000.12,1975.34 1001.93,1975.61 1003.74,1975.81 1005.55,1975.94"/>
<polyline fill="none" stroke="#21382f" stroke-width="0.95" points="790.8,1985.94 792.61,1985.88 794.42,1985.71 796.23,1985.46 798.03,1985.16 799.84,1984.84 801.65,1984.42 803.46,1983.83 805.27,1983.14 807.08,1982.4 808.88,1981.62 810.69,1980.75 812.5,1979.8 814.31,1978.78 816.12,1977.65 817.93,1976.41 819.73,1975.07 821.54,1973.67 823.35,1972.17 825.16,1970.56 826.97,1968.86 828.78,1967.08 830.58,1965.19 832.39,1963.19 834.2,1961.13 836.01,1959.06 837.82,1956.96 839.63,1954.82 841.44,1952.6 843.24,1950.27 845.05,1947.81 846.86,1945.25 848.67,1942.65 850.48,1940.02 852.29,1937.33 854.09,1934.6 855.9,1931.86 857.71,1929.14 859.52,1926.4 861.33,1923.68 863.14,1921 864.94,1918.37 866.75,1915.74 868.56,1913.19 870.37,1910.81 872.18,1908.57 873.99,1906.4 875.79,1904.41 877.6,1902.75 879.41,1901.39 881.22,1900.17 883.03,1899.15 884.84,1898.37 886.65,1897.74 888.45,1897.21 890.26,1896.95 892.07,1897.07 893.88,1897.44 895.69,1897.94 897.5,1898.58 899.3,1899.53 901.11,1900.71 902.92,1902.14 904.73,1904.03 906.54,1905.97 908.35,1907.91 910.15,1909.9 911.96,1911.94 913.77,1914.02 915.58,1916.18 917.39,1918.37 919.2,1920.58 921.01,1922.76 922.81,1924.94 924.62,1927.11 926.43,1929.29 928.24,1931.47 930.05,1933.68 931.86,1935.88 933.66,1938.02 935.47,1940.1 937.28,1942.13 939.09,1944.11 940.9,1946.05 942.71,1947.93 944.51,1949.78 946.32,1951.58 948.13,1953.32 949.94,1955.02 951.75,1956.66 953.56,1958.26 955.36,1959.86 957.17,1961.46 958.98,1963.05 960.79,1964.61 962.6,1966.08 964.41,1967.49 966.22,1968.84 968.02,1970.14 969.83,1971.42 971.64,1972.67 973.45,1973.89 975.26,1975.05 977.07,1976.14 978.87,1977.18 980.68,1978.16 982.49,1979.1 984.3,1979.98 986.11,1980.84 987.92,1981.66 989.72,1982.4 991.53,1983.05 993.34,1983.68 995.15,1984.23 996.96,1984.69 998.77,1985.03 1000.57,1985.34 1002.38,1985.61 1004.19,1985.81 1006,1985.94"/>
<polygon fill="#FF9733" points="1011.2,1992.7 1013.01,1992.64 1014.82,1992.48 1016.63,1992.25 1018.44,1991.97 1020.25,1991.66 1022.07,1991.26 1023.88,1990.71 1025.69,1990.05 1027.5,1989.36 1029.31,1988.62 1031.12,1987.8 1032.93,1986.9 1034.74,1985.93 1036.55,1984.86 1038.36,1983.69 1040.17,1982.43 1041.99,1981.1 1043.8,1979.68 1045.61,1978.16 1047.42,1976.56 1049.23,1974.88 1051.04,1973.09 1052.85,1971.2 1054.66,1969.25 1056.47,1967.28 1058.28,1965.3 1060.09,1963.27 1061.91,1961.17 1063.72,1958.97 1065.53,1956.65 1067.34,1954.23 1069.15,1951.77 1070.96,1949.28 1072.77,1946.73 1074.58,1944.14 1076.39,1941.54 1078.2,1938.96 1080.02,1936.37 1081.83,1933.78 1083.64,1931.23 1085.45,1928.73 1087.26,1926.24 1089.07,1923.8 1090.88,1921.51 1092.69,1919.38 1094.5,1917.3 1096.31,1915.38 1098.12,1913.75 1099.94,1912.43 1101.75,1911.25 1103.56,1910.24 1105.37,1909.46 1107.18,1908.86 1108.99,1908.33 1110.8,1908.02 1112.61,1908.07 1114.42,1908.39 1116.23,1908.85 1118.04,1909.42 1119.86,1910.28 1121.67,1911.37 1123.48,1912.68 1125.29,1914.43 1127.1,1916.3 1128.91,1918.14 1130.72,1920.03 1132.53,1921.97 1134.34,1923.95 1136.15,1926 1137.96,1928.09 1139.78,1930.2 1141.59,1932.28 1143.4,1934.36 1145.21,1936.44 1147.02,1938.52 1148.83,1940.6 1150.64,1942.7 1152.45,1944.8 1154.26,1946.86 1156.07,1948.84 1157.88,1950.79 1159.7,1952.69 1161.51,1954.54 1163.32,1956.35 1165.13,1958.11 1166.94,1959.83 1168.75,1961.51 1170.56,1963.13 1172.37,1964.69 1174.18,1966.23 1175.99,1967.76 1177.81,1969.28 1179.62,1970.81 1181.43,1972.29 1183.24,1973.71 1185.05,1975.05 1186.86,1976.34 1188.67,1977.59 1190.48,1978.81 1192.29,1980.01 1194.1,1981.17 1195.91,1982.29 1197.73,1983.33 1199.54,1984.32 1201.35,1985.26 1203.16,1986.16 1204.97,1987 1206.78,1987.83 1208.59,1988.6 1210.4,1989.31 1212.21,1989.94 1214.02,1990.54 1215.83,1991.07 1217.65,1991.51 1219.46,1991.83 1221.27,1992.13 1223.08,1992.39 1224.89,1992.58 1226.7,1992.7 1226.7,2039.6 1011.2,2039.6"/>
<polygon fill="#2FF7C6" points="1011.2,1982.7 1012.56,1982.64 1014.37,1982.48 1016.18,1982.25 1017.99,1981.97 1019.8,1981.66 1021.62,1981.26 1023.43,1980.71 1025.24,1980.05 1027.05,1979.36 1028.86,1978.62 1030.67,1977.8 1032.48,1976.9 1034.29,1975.93 1036.1,1974.86 1037.91,1973.69 1039.72,1972.43 1041.54,1971.1 1043.35,1969.68 1045.16,1968.16 1046.97,1966.56 1048.78,1964.88 1050.59,1963.09 1052.4,1961.2 1054.21,1959.25 1056.02,1957.28 1057.83,1955.3 1059.64,1953.27 1061.46,1951.17 1063.27,1948.97 1065.08,1946.65 1066.89,1944.23 1068.7,1941.77 1070.51,1939.28 1072.32,1936.73 1074.13,1934.14 1075.94,1931.54 1077.75,1928.96 1079.57,1926.37 1081.38,1923.78 1083.19,1921.23 1085,1918.73 1086.81,1916.24 1088.62,1913.8 1090.43,1911.51 1092.24,1909.38 1094.05,1907.3 1095.86,1905.38 1097.67,1903.75 1099.49,1902.43 1101.3,1901.25 1103.11,1900.24 1104.92,1899.46 1106.73,1898.86 1108.54,1898.33 1110.35,1898.02 1112.16,1898.07 1113.97,1898.39 1115.78,1898.85 1117.59,1899.42 1119.41,1900.28 1121.22,1901.37 1123.03,1902.68 1124.84,1904.43 1126.65,1906.3 1128.46,1908.14 1130.27,1910.03 1132.08,1911.97 1133.89,1913.95 1135.7,1916 1137.51,1918.09 1139.33,1920.2 1141.14,1922.28 1142.95,1924.36 1144.76,1926.44 1146.57,1928.52 1148.38,1930.6 1150.19,1932.7 1152,1934.8 1153.81,1936.86 1155.62,1938.84 1157.43,1940.79 1159.25,1942.69 1161.06,1944.54 1162.87,1946.35 1164.68,1948.11 1166.49,1949.83 1168.3,1951.51 1170.11,1953.13 1171.92,1954.69 1173.73,1956.23 1175.54,1957.76 1177.36,1959.28 1179.17,1960.81 1180.98,1962.29 1182.79,1963.71 1184.6,1965.05 1186.41,1966.34 1188.22,1967.59 1190.03,1968.81 1191.84,1970.01 1193.65,1971.17 1195.46,1972.29 1197.28,1973.33 1199.09,1974.32 1200.9,1975.26 1202.71,1976.16 1204.52,1977 1206.33,1977.83 1208.14,1978.6 1209.95,1979.31 1211.76,1979.94 1213.57,1980.54 1215.38,1981.07 1217.2,1981.51 1219.01,1981.83 1220.82,1982.13 1222.63,1982.39 1224.44,1982.58 1226.25,1982.7 1226.7,1992.7 1224.89,1992.58 1223.08,1992.39 1221.27,1992.13 1219.46,1991.83 1217.65,1991.51 1215.83,1991.07 1214.02,1990.54 1212.21,1989.94 1210.4,1989.31 1208.59,1988.6 1206.78,1987.83 1204.97,1987 1203.16,1986.16 1201.35,1985.26 1199.54,1984.32 1197.73,1983.33 1195.91,1982.29 1194.1,1981.17 1192.29,1980.01 1190.48,1978.81 1188.67,1977.59 1186.86,1976.34 1185.05,1975.05 1183.24,1973.71 1181.43,1972.29 1179.62,1970.81 1177.81,1969.28 1175.99,1967.76 1174.18,1966.23 1172.37,1964.69 1170.56,1963.13 1168.75,1961.51 1166.94,1959.83 1165.13,1958.11 1163.32,1956.35 1161.51,1954.54 1159.7,1952.69 1157.88,1950.79 1156.07,1948.84 1154.26,1946.86 1152.45,1944.8 1150.64,1942.7 1148.83,1940.6 1147.02,1938.52 1145.21,1936.44 1143.4,1934.36 1141.59,1932.28 1139.78,1930.2 1137.96,1928.09 1136.15,1926 1134.34,1923.95 1132.53,1921.97 1130.72,1920.03 1128.91,1918.14 1127.1,1916.3 1125.29,1914.43 1123.48,1912.68 1121.67,1911.37 1119.86,1910.28 1118.04,1909.42 1116.23,1908.85 1114.42,1908.39 1112.61,1908.07 1110.8,1908.02 1108.99,1908.33 1107.18,1908.86 1105.37,1909.46 1103.56,1910.24 1101.75,1911.25 1099.94,1912.43 1098.12,1913.75 1096.31,1915.38 1094.5,1917.3 1092.69,1919.38 1090.88,1921.51 1089.07,1923.8 1087.26,1926.24 1085.45,1928.73 1083.64,1931.23 1081.83,1933.78 1080.02,1936.37 1078.2,1938.96 1076.39,1941.54 1074.58,1944.14 1072.77,1946.73 1070.96,1949.28 1069.15,1951.77 1067.34,1954.23 1065.53,1956.65 1063.72,1958.97 1061.91,1961.17 1060.09,1963.27 1058.28,1965.3 1056.47,1967.28 1054.66,1969.25 1052.85,1971.2 1051.04,1973.09 1049.23,1974.88 1047.42,1976.56 1045.61,1978.16 1043.8,1979.68 1041.99,1981.1 1040.17,1982.43 1038.36,1983.69 1036.55,1984.86 1034.74,1985.93 1032.93,1986.9 1031.12,1987.8 1029.31,1988.62 1027.5,1989.36 1025.69,1990.05 1023.88,1990.71 1022.07,1991.26 1020.25,1991.66 1018.44,1991.97 1016.63,1992.25 1014.82,1992.48 1013.01,1992.64 1011.2,1992.7"/>
<polyline fill="none" stroke="#21382f" stroke-width="0.95" points="1011.2,1982.7 1012.56,1982.64 1014.37,1982.48 1016.18,1982.25 1017.99,1981.97 1019.8,1981.66 1021.62,1981.26 1023.43,1980.71 1025.24,1980.05 1027.05,1979.36 1028.86,1978.62 1030.67,1977.8 1032.48,1976.9 1034.29,1975.93 1036.1,1974.86 1037.91,1973.69 1039.72,1972.43 1041.54,1971.1 1043.35,1969.68 1045.16,1968.16 1046.97,1966.56 1048.78,1964.88 1050.59,1963.09 1052.4,1961.2 1054.21,1959.25 1056.02,1957.28 1057.83,1955.3 1059.64,1953.27 1061.46,1951.17 1063.27,1948.97 1065.08,1946.65 1066.89,1944.23 1068.7,1941.77 1070.51,1939.28 1072.32,1936.73 1074.13,1934.14 1075.94,1931.54 1077.75,1928.96 1079.57,1926.37 1081.38,1923.78 1083.19,1921.23 1085,1918.73 1086.81,1916.24 1088.62,1913.8 1090.43,1911.51 1092.24,1909.38 1094.05,1907.3 1095.86,1905.38 1097.67,1903.75 1099.49,1902.43 1101.3,1901.25 1103.11,1900.24 1104.92,1899.46 1106.73,1898.86 1108.54,1898.33 1110.35,1898.02 1112.16,1898.07 1113.97,1898.39 1115.78,1898.85 1117.59,1899.42 1119.41,1900.28 1121.22,1901.37 1123.03,1902.68 1124.84,1904.43 1126.65,1906.3 1128.46,1908.14 1130.27,1910.03 1132.08,1911.97 1133.89,1913.95 1135.7,1916 1137.51,1918.09 1139.33,1920.2 1141.14,1922.28 1142.95,1924.36 1144.76,1926.44 1146.57,1928.52 1148.38,1930.6 1150.19,1932.7 1152,1934.8 1153.81,1936.86 1155.62,1938.84 1157.43,1940.79 1159.25,1942.69 1161.06,1944.54 1162.87,1946.35 1164.68,1948.11 1166.49,1949.83 1168.3,1951.51 1170.11,1953.13 1171.92,1954.69 1173.73,1956.23 1175.54,1957.76 1177.36,1959.28 1179.17,1960.81 1180.98,1962.29 1182.79,1963.71 1184.6,1965.05 1186.41,1966.34 1188.22,1967.59 1190.03,1968.81 1191.84,1970.01 1193.65,1971.17 1195.46,1972.29 1197.28,1973.33 1199.09,1974.32 1200.9,1975.26 1202.71,1976.16 1204.52,1977 1206.33,1977.83 1208.14,1978.6 1209.95,1979.31 1211.76,1979.94 1213.57,1980.54 1215.38,1981.07 1217.2,1981.51 1219.01,1981.83 1220.82,1982.13 1222.63,1982.39 1224.44,1982.58 1226.25,1982.7"/>
<polyline fill="none" stroke="#21382f" stroke-width="0.95" points="1011.2,1992.7 1013.01,1992.64 1014.82,1992.48 1016.63,1992.25 1018.44,1991.97 1020.25,1991.66 1022.07,1991.26 1023.88,1990.71 1025.69,1990.05 1027.5,1989.36 1029.31,1988.62 1031.12,1987.8 1032.93,1986.9 1034.74,1985.93 1036.55,1984.86 1038.36,1983.69 1040.17,1982.43 1041.99,1981.1 1043.8,1979.68 1045.61,1978.16 1047.42,1976.56 1049.23,1974.88 1051.04,1973.09 1052.85,1971.2 1054.66,1969.25 1056.47,1967.28 1058.28,1965.3 1060.09,1963.27 1061.91,1961.17 1063.72,1958.97 1065.53,1956.65 1067.34,1954.23 1069.15,1951.77 1070.96,1949.28 1072.77,1946.73 1074.58,1944.14 1076.39,1941.54 1078.2,1938.96 1080.02,1936.37 1081.83,1933.78 1083.64,1931.23 1085.45,1928.73 1087.26,1926.24 1089.07,1923.8 1090.88,1921.51 1092.69,1919.38 1094.5,1917.3 1096.31,1915.38 1098.12,1913.75 1099.94,1912.43 1101.75,1911.25 1103.56,1910.24 1105.37,1909.46 1107.18,1908.86 1108.99,1908.33 1110.8,1908.02 1112.61,1908.07 1114.42,1908.39 1116.23,1908.85 1118.04,1909.42 1119.86,1910.28 1121.67,1911.37 1123.48,1912.68 1125.29,1914.43 1127.1,1916.3 1128.91,1918.14 1130.72,1920.03 1132.53,1921.97 1134.34,1923.95 1136.15,1926 1137.96,1928.09 1139.78,1930.2 1141.59,1932.28 1143.4,1934.36 1145.21,1936.44 1147.02,1938.52 1148.83,1940.6 1150.64,1942.7 1152.45,1944.8 1154.26,1946.86 1156.07,1948.84 1157.88,1950.79 1159.7,1952.69 1161.51,1954.54 1163.32,1956.35 1165.13,1958.11 1166.94,1959.83 1168.75,1961.51 1170.56,1963.13 1172.37,1964.69 1174.18,1966.23 1175.99,1967.76 1177.81,1969.28 1179.62,1970.81 1181.43,1972.29 1183.24,1973.71 1185.05,1975.05 1186.86,1976.34 1188.67,1977.59 1190.48,1978.81 1192.29,1980.01 1194.1,1981.17 1195.91,1982.29 1197.73,1983.33 1199.54,1984.32 1201.35,1985.26 1203.16,1986.16 1204.97,1987 1206.78,1987.83 1208.59,1988.6 1210.4,1989.31 1212.21,1989.94 1214.02,1990.54 1215.83,1991.07 1217.65,1991.51 1219.46,1991.83 1221.27,1992.13 1223.08,1992.39 1224.89,1992.58 1226.7,1992.7"/>
<polygon fill="#FF9733" points="1231.7,1998.8 1233.5,1998.74 1235.31,1998.59 1237.11,1998.37 1238.92,1998.1 1240.72,1997.81 1242.53,1997.43 1244.33,1996.91 1246.13,1996.29 1247.94,1995.62 1249.74,1994.92 1251.55,1994.14 1253.35,1993.29 1255.15,1992.37 1256.96,1991.36 1258.76,1990.24 1260.57,1989.05 1262.37,1987.78 1264.18,1986.44 1265.98,1985 1267.78,1983.47 1269.59,1981.88 1271.39,1980.18 1273.2,1978.39 1275,1976.53 1276.81,1974.65 1278.61,1972.76 1280.41,1970.84 1282.22,1968.84 1284.02,1966.76 1285.83,1964.56 1287.63,1962.26 1289.43,1959.92 1291.24,1957.55 1293.04,1955.12 1294.85,1952.66 1296.65,1950.18 1298.46,1947.72 1300.26,1945.24 1302.06,1942.77 1303.87,1940.33 1305.67,1937.94 1307.48,1935.55 1309.28,1933.21 1311.08,1930.99 1312.89,1928.94 1314.69,1926.94 1316.5,1925.06 1318.3,1923.43 1320.11,1922.13 1321.91,1920.97 1323.71,1919.96 1325.52,1919.16 1327.32,1918.57 1329.13,1918.03 1330.93,1917.67 1332.74,1917.63 1334.54,1917.88 1336.34,1918.3 1338.15,1918.8 1339.95,1919.56 1341.76,1920.57 1343.56,1921.75 1345.36,1923.35 1347.17,1925.16 1348.97,1926.92 1350.78,1928.74 1352.58,1930.59 1354.39,1932.49 1356.19,1934.44 1357.99,1936.45 1359.8,1938.48 1361.6,1940.49 1363.41,1942.49 1365.21,1944.49 1367.02,1946.49 1368.82,1948.5 1370.62,1950.52 1372.43,1952.54 1374.23,1954.53 1376.04,1956.45 1377.84,1958.33 1379.64,1960.17 1381.45,1961.96 1383.25,1963.7 1385.06,1965.41 1386.86,1967.07 1388.67,1968.69 1390.47,1970.25 1392.27,1971.77 1394.08,1973.25 1395.88,1974.72 1397.69,1976.19 1399.49,1977.66 1401.29,1979.09 1403.1,1980.46 1404.9,1981.76 1406.71,1983.01 1408.51,1984.21 1410.32,1985.39 1412.12,1986.54 1413.92,1987.67 1415.73,1988.74 1417.53,1989.75 1419.34,1990.71 1421.14,1991.62 1422.95,1992.48 1424.75,1993.3 1426.55,1994.09 1428.36,1994.84 1430.16,1995.53 1431.97,1996.14 1433.77,1996.71 1435.57,1997.23 1437.38,1997.65 1439.18,1997.96 1440.99,1998.25 1442.79,1998.5 1444.6,1998.69 1446.4,1998.8 1446.4,2039.6 1231.7,2039.6"/>
<polygon fill="#2FF7C6" points="1231.7,1988.8 1233.05,1988.74 1234.86,1988.59 1236.66,1988.37 1238.47,1988.1 1240.27,1987.81 1242.08,1987.43 1243.88,1986.91 1245.68,1986.29 1247.49,1985.62 1249.29,1984.92 1251.1,1984.14 1252.9,1983.29 1254.7,1982.37 1256.51,1981.36 1258.31,1980.24 1260.12,1979.05 1261.92,1977.78 1263.73,1976.44 1265.53,1975 1267.33,1973.47 1269.14,1971.88 1270.94,1970.18 1272.75,1968.39 1274.55,1966.53 1276.36,1964.65 1278.16,1962.76 1279.96,1960.84 1281.77,1958.84 1283.57,1956.76 1285.38,1954.56 1287.18,1952.26 1288.98,1949.92 1290.79,1947.55 1292.59,1945.12 1294.4,1942.66 1296.2,1940.18 1298.01,1937.72 1299.81,1935.24 1301.61,1932.77 1303.42,1930.33 1305.22,1927.94 1307.03,1925.55 1308.83,1923.21 1310.63,1920.99 1312.44,1918.94 1314.24,1916.94 1316.05,1915.06 1317.85,1913.43 1319.66,1912.13 1321.46,1910.97 1323.26,1909.96 1325.07,1909.16 1326.87,1908.57 1328.68,1908.03 1330.48,1907.67 1332.29,1907.63 1334.09,1907.88 1335.89,1908.3 1337.7,1908.8 1339.5,1909.56 1341.31,1910.57 1343.11,1911.75 1344.91,1913.35 1346.72,1915.16 1348.52,1916.92 1350.33,1918.74 1352.13,1920.59 1353.94,1922.49 1355.74,1924.44 1357.54,1926.45 1359.35,1928.48 1361.15,1930.49 1362.96,1932.49 1364.76,1934.49 1366.57,1936.49 1368.37,1938.5 1370.17,1940.52 1371.98,1942.54 1373.78,1944.53 1375.59,1946.45 1377.39,1948.33 1379.19,1950.17 1381,1951.96 1382.8,1953.7 1384.61,1955.41 1386.41,1957.07 1388.22,1958.69 1390.02,1960.25 1391.82,1961.77 1393.63,1963.25 1395.43,1964.72 1397.24,1966.19 1399.04,1967.66 1400.84,1969.09 1402.65,1970.46 1404.45,1971.76 1406.26,1973.01 1408.06,1974.21 1409.87,1975.39 1411.67,1976.54 1413.47,1977.67 1415.28,1978.74 1417.08,1979.75 1418.89,1980.71 1420.69,1981.62 1422.5,1982.48 1424.3,1983.3 1426.1,1984.09 1427.91,1984.84 1429.71,1985.53 1431.52,1986.14 1433.32,1986.71 1435.12,1987.23 1436.93,1987.65 1438.73,1987.96 1440.54,1988.25 1442.34,1988.5 1444.15,1988.69 1445.95,1988.8 1446.4,1998.8 1444.6,1998.69 1442.79,1998.5 1440.99,1998.25 1439.18,1997.96 1437.38,1997.65 1435.57,1997.23 1433.77,1996.71 1431.97,1996.14 1430.16,1995.53 1428.36,1994.84 1426.55,1994.09 1424.75,1993.3 1422.95,1992.48 1421.14,1991.62 1419.34,1990.71 1417.53,1989.75 1415.73,1988.74 1413.92,1987.67 1412.12,1986.54 1410.32,1985.39 1408.51,1984.21 1406.71,1983.01 1404.9,1981.76 1403.1,1980.46 1401.29,1979.09 1399.49,1977.66 1397.69,1976.19 1395.88,1974.72 1394.08,1973.25 1392.27,1971.77 1390.47,1970.25 1388.67,1968.69 1386.86,1967.07 1385.06,1965.41 1383.25,1963.7 1381.45,1961.96 1379.64,1960.17 1377.84,1958.33 1376.04,1956.45 1374.23,1954.53 1372.43,1952.54 1370.62,1950.52 1368.82,1948.5 1367.02,1946.49 1365.21,1944.49 1363.41,1942.49 1361.6,1940.49 1359.8,1938.48 1357.99,1936.45 1356.19,1934.44 1354.39,1932.49 1352.58,1930.59 1350.78,1928.74 1348.97,1926.92 1347.17,1925.16 1345.36,1923.35 1343.56,1921.75 1341.76,1920.57 1339.95,1919.56 1338.15,1918.8 1336.34,1918.3 1334.54,1917.88 1332.74,1917.63 1330.93,1917.67 1329.13,1918.03 1327.32,1918.57 1325.52,1919.16 1323.71,1919.96 1321.91,1920.97 1320.11,1922.13 1318.3,1923.43 1316.5,1925.06 1314.69,1926.94 1312.89,1928.94 1311.08,1930.99 1309.28,1933.21 1307.48,1935.55 1305.67,1937.94 1303.87,1940.33 1302.06,1942.77 1300.26,1945.24 1298.46,1947.72 1296.65,1950.18 1294.85,1952.66 1293.04,1955.12 1291.24,1957.55 1289.43,1959.92 1287.63,1962.26 1285.83,1964.56 1284.02,1966.76 1282.22,1968.84 1280.41,1970.84 1278.61,1972.76 1276.81,1974.65 1275,1976.53 1273.2,1978.39 1271.39,1980.18 1269.59,1981.88 1267.78,1983.47 1265.98,1985 1264.18,1986.44 1262.37,1987.78 1260.57,1989.05 1258.76,1990.24 1256.96,1991.36 1255.15,1992.37 1253.35,1993.29 1251.55,1994.14 1249.74,1994.92 1247.94,1995.62 1246.13,1996.29 1244.33,1996.91 1242.53,1997.43 1240.72,1997.81 1238.92,1998.1 1237.11,1998.37 1235.31,1998.59 1233.5,1998.74 1231.7,1998.8"/>
<polyline fill="none" stroke="#21382f" stroke-width="0.95" points="1231.7,1988.8 1233.05,1988.74 1234.86,1988.59 1236.66,1988.37 1238.47,1988.1 1240.27,1987.81 1242.08,1987.43 1243.88,1986.91 1245.68,1986.29 1247.49,1985.62 1249.29,1984.92 1251.1,1984.14 1252.9,1983.29 1254.7,1982.37 1256.51,1981.36 1258.31,1980.24 1260.12,1979.05 1261.92,1977.78 1263.73,1976.44 1265.53,1975 1267.33,1973.47 1269.14,1971.88 1270.94,1970.18 1272.75,1968.39 1274.55,1966.53 1276.36,1964.65 1278.16,1962.76 1279.96,1960.84 1281.77,1958.84 1283.57,1956.76 1285.38,1954.56 1287.18,1952.26 1288.98,1949.92 1290.79,1947.55 1292.59,1945.12 1294.4,1942.66 1296.2,1940.18 1298.01,1937.72 1299.81,1935.24 1301.61,1932.77 1303.42,1930.33 1305.22,1927.94 1307.03,1925.55 1308.83,1923.21 1310.63,1920.99 1312.44,1918.94 1314.24,1916.94 1316.05,1915.06 1317.85,1913.43 1319.66,1912.13 1321.46,1910.97 1323.26,1909.96 1325.07,1909.16 1326.87,1908.57 1328.68,1908.03 1330.48,1907.67 1332.29,1907.63 1334.09,1907.88 1335.89,1908.3 1337.7,1908.8 1339.5,1909.56 1341.31,1910.57 1343.11,1911.75 1344.91,1913.35 1346.72,1915.16 1348.52,1916.92 1350.33,1918.74 1352.13,1920.59 1353.94,1922.49 1355.74,1924.44 1357.54,1926.45 1359.35,1928.48 1361.15,1930.49 1362.96,1932.49 1364.76,1934.49 1366.57,1936.49 1368.37,1938.5 1370.17,1940.52 1371.98,1942.54 1373.78,1944.53 1375.59,1946.45 1377.39,1948.33 1379.19,1950.17 1381,1951.96 1382.8,1953.7 1384.61,1955.41 1386.41,1957.07 1388.22,1958.69 1390.02,1960.25 1391.82,1961.77 1393.63,1963.25 1395.43,1964.72 1397.24,1966.19 1399.04,1967.66 1400.84,1969.09 1402.65,1970.46 1404.45,1971.76 1406.26,1973.01 1408.06,1974.21 1409.87,1975.39 1411.67,1976.54 1413.47,1977.67 1415.28,1978.74 1417.08,1979.75 1418.89,1980.71 1420.69,1981.62 1422.5,1982.48 1424.3,1983.3 1426.1,1984.09 1427.91,1984.84 1429.71,1985.53 1431.52,1986.14 1433.32,1986.71 1435.12,1987.23 1436.93,1987.65 1438.73,1987.96 1440.54,1988.25 1442.34,1988.5 1444.15,1988.69 1445.95,1988.8"/>
<polyline fill="none" stroke="#21382f" stroke-width="0.95" points="1231.7,1998.8 1233.5,1998.74 1235.31,1998.59 1237.11,1998.37 1238.92,1998.1 1240.72,1997.81 1242.53,1997.43 1244.33,1996.91 1246.13,1996.29 1247.94,1995.62 1249.74,1994.92 1251.55,1994.14 1253.35,1993.29 1255.15,1992.37 1256.96,1991.36 1258.76,1990.24 1260.57,1989.05 1262.37,1987.78 1264.18,1986.44 1265.98,1985 1267.78,1983.47 1269.59,1981.88 1271.39,1980.18 1273.2,1978.39 1275,1976.53 1276.81,1974.65 1278.61,1972.76 1280.41,1970.84 1282.22,1968.84 1284.02,1966.76 1285.83,1964.56 1287.63,1962.26 1289.43,1959.92 1291.24,1957.55 1293.04,1955.12 1294.85,1952.66 1296.65,1950.18 1298.46,1947.72 1300.26,1945.24 1302.06,1942.77 1303.87,1940.33 1305.67,1937.94 1307.48,1935.55 1309.28,1933.21 1311.08,1930.99 1312.89,1928.94 1314.69,1926.94 1316.5,1925.06 1318.3,1923.43 1320.11,1922.13 1321.91,1920.97 1323.71,1919.96 1325.52,1919.16 1327.32,1918.57 1329.13,1918.03 1330.93,1917.67 1332.74,1917.63 1334.54,1917.88 1336.34,1918.3 1338.15,1918.8 1339.95,1919.56 1341.76,1920.57 1343.56,1921.75 1345.36,1923.35 1347.17,1925.16 1348.97,1926.92 1350.78,1928.74 1352.58,1930.59 1354.39,1932.49 1356.19,1934.44 1357.99,1936.45 1359.8,1938.48 1361.6,1940.49 1363.41,1942.49 1365.21,1944.49 1367.02,1946.49 1368.82,1948.5 1370.62,1950.52 1372.43,1952.54 1374.23,1954.53 1376.04,1956.45 1377.84,1958.33 1379.64,1960.17 1381.45,1961.96 1383.25,1963.7 1385.06,1965.41 1386.86,1967.07 1388.67,1968.69 1390.47,1970.25 1392.27,1971.77 1394.08,1973.25 1395.88,1974.72 1397.69,1976.19 1399.49,1977.66 1401.29,1979.09 1403.1,1980.46 1404.9,1981.76 1406.71,1983.01 1408.51,1984.21 1410.32,1985.39 1412.12,1986.54 1413.92,1987.67 1415.73,1988.74 1417.53,1989.75 1419.34,1990.71 1421.14,1991.62 1422.95,1992.48 1424.75,1993.3 1426.55,1994.09 1428.36,1994.84 1430.16,1995.53 1431.97,1996.14 1433.77,1996.71 1435.57,1997.23 1437.38,1997.65 1439.18,1997.96 1440.99,1998.25 1442.79,1998.5 1444.6,1998.69 1446.4,1998.8"/>
<line x1="790.8" y1="2039.4" x2="1446.4" y2="2039.4" stroke="#3a1208" stroke-width="1.3"/>
<path d="M790.8 2045.5l10.3 -6.3M801.45 2045.5l10.3 -6.3M812.11 2045.5l10.3 -6.3M822.76 2045.5l10.3 -6.3M833.42 2045.5l10.3 -6.3M844.07 2045.5l10.3 -6.3M854.73 2045.5l10.3 -6.3M865.38 2045.5l10.3 -6.3M876.04 2045.5l10.3 -6.3M886.69 2045.5l10.3 -6.3M897.35 2045.5l10.3 -6.3M908 2045.5l10.3 -6.3M918.66 2045.5l10.3 -6.3M929.31 2045.5l10.3 -6.3M939.97 2045.5l10.3 -6.3M950.62 2045.5l10.3 -6.3M961.28 2045.5l10.3 -6.3M971.93 2045.5l10.3 -6.3M982.59 2045.5l10.3 -6.3M993.24 2045.5l10.3 -6.3M1003.9 2045.5l10.3 -6.3M1014.55 2045.5l10.3 -6.3M1025.21 2045.5l10.3 -6.3M1035.87 2045.5l10.3 -6.3M1046.52 2045.5l10.3 -6.3M1057.17 2045.5l10.3 -6.3M1067.83 2045.5l10.3 -6.3M1078.48 2045.5l10.3 -6.3M1089.14 2045.5l10.3 -6.3M1099.8 2045.5l10.3 -6.3M1110.45 2045.5l10.3 -6.3M1121.11 2045.5l10.3 -6.3M1131.76 2045.5l10.3 -6.3M1142.41 2045.5l10.3 -6.3M1153.07 2045.5l10.3 -6.3M1163.72 2045.5l10.3 -6.3M1174.38 2045.5l10.3 -6.3M1185.03 2045.5l10.3 -6.3M1195.69 2045.5l10.3 -6.3M1206.34 2045.5l10.3 -6.3M1217 2045.5l10.3 -6.3M1227.65 2045.5l10.3 -6.3M1238.31 2045.5l10.3 -6.3M1248.96 2045.5l10.3 -6.3M1259.62 2045.5l10.3 -6.3M1270.27 2045.5l10.3 -6.3M1280.93 2045.5l10.3 -6.3M1291.59 2045.5l10.3 -6.3M1302.24 2045.5l10.3 -6.3M1312.89 2045.5l10.3 -6.3M1323.55 2045.5l10.3 -6.3M1334.2 2045.5l10.3 -6.3M1344.86 2045.5l10.3 -6.3M1355.51 2045.5l10.3 -6.3M1366.17 2045.5l10.3 -6.3M1376.82 2045.5l10.3 -6.3M1387.48 2045.5l10.3 -6.3M1398.13 2045.5l10.3 -6.3M1408.79 2045.5l10.3 -6.3M1419.44 2045.5l10.3 -6.3M1430.1 2045.5l10.3 -6.3" stroke="#000" stroke-width="2.1" stroke-linecap="round" fill="none"/>
<g stroke="#000" stroke-width="3.2" fill="none" stroke-linecap="butt">
<rect x="114.1" y="14.9" width="1349.5" height="2060.4"/>
<line x1="789" y1="14.9" x2="789" y2="2075.3"/>
<line x1="114.1" y1="530" x2="1463.6" y2="530"/>
<line x1="114.1" y1="1045.1" x2="1463.6" y2="1045.1"/>
<line x1="114.1" y1="1560.2" x2="1463.6" y2="1560.2"/>
</g>
<path d="M114.1 487.08h5.8M114.1 444.15h11.7M114.1 401.23h5.8M114.1 358.3h11.7M114.1 315.38h5.8M114.1 272.45h11.7M114.1 229.53h5.8M114.1 186.6h11.7M114.1 143.68h5.8M114.1 100.75h11.7M114.1 57.83h5.8M114.1 1002.18h5.8M114.1 959.25h11.7M114.1 916.33h5.8M114.1 873.4h11.7M114.1 830.48h5.8M114.1 787.55h11.7M114.1 744.62h5.8M114.1 701.7h11.7M114.1 658.77h5.8M114.1 615.85h11.7M114.1 572.92h5.8M114.1 1517.28h5.8M114.1 1474.35h11.7M114.1 1431.43h5.8M114.1 1388.5h11.7M114.1 1345.58h5.8M114.1 1302.65h11.7M114.1 1259.73h5.8M114.1 1216.8h11.7M114.1 1173.88h5.8M114.1 1130.95h11.7M114.1 1088.03h5.8M114.1 2032.38h5.8M114.1 1989.45h11.7M114.1 1946.53h5.8M114.1 1903.6h11.7M114.1 1860.68h5.8M114.1 1817.75h11.7M114.1 1774.83h5.8M114.1 1731.9h11.7M114.1 1688.98h5.8M114.1 1646.05h11.7M114.1 1603.13h5.8M119.05 2075.3v-5.6M140 2075.3v-11.6M160.95 2075.3v-5.6M181.9 2075.3v-5.6M202.85 2075.3v-5.6M223.8 2075.3v-5.6M244.75 2075.3v-11.6M265.7 2075.3v-5.6M286.65 2075.3v-5.6M307.6 2075.3v-5.6M328.55 2075.3v-5.6M349.5 2075.3v-11.6M370.45 2075.3v-5.6M391.4 2075.3v-5.6M412.35 2075.3v-5.6M433.3 2075.3v-5.6M454.25 2075.3v-11.6M475.2 2075.3v-5.6M496.15 2075.3v-5.6M517.1 2075.3v-5.6M538.05 2075.3v-5.6M559 2075.3v-11.6M579.95 2075.3v-5.6M600.9 2075.3v-5.6M621.85 2075.3v-5.6M642.8 2075.3v-5.6M663.75 2075.3v-11.6M684.7 2075.3v-5.6M705.65 2075.3v-5.6M726.6 2075.3v-5.6M747.55 2075.3v-5.6M794.04 2075.3v-5.6M815 2075.3v-11.6M835.96 2075.3v-5.6M856.92 2075.3v-5.6M877.88 2075.3v-5.6M898.84 2075.3v-5.6M919.8 2075.3v-11.6M940.76 2075.3v-5.6M961.72 2075.3v-5.6M982.68 2075.3v-5.6M1003.64 2075.3v-5.6M1024.6 2075.3v-11.6M1045.56 2075.3v-5.6M1066.52 2075.3v-5.6M1087.48 2075.3v-5.6M1108.44 2075.3v-5.6M1129.4 2075.3v-11.6M1150.36 2075.3v-5.6M1171.32 2075.3v-5.6M1192.28 2075.3v-5.6M1213.24 2075.3v-5.6M1234.2 2075.3v-11.6M1255.16 2075.3v-5.6M1276.12 2075.3v-5.6M1297.08 2075.3v-5.6M1318.04 2075.3v-5.6M1339 2075.3v-11.6M1359.96 2075.3v-5.6M1380.92 2075.3v-5.6M1401.88 2075.3v-5.6M1422.84 2075.3v-5.6M1443.8 2075.3v-11.6" stroke="#000" stroke-width="3.0" fill="none"/>
<path d="M1463.6 516.99h-7.5M1463.6 496.6h-15.2M1463.6 476.21h-7.5M1463.6 455.82h-7.5M1463.6 435.43h-7.5M1463.6 415.04h-7.5M1463.6 394.65h-15.2M1463.6 374.26h-7.5M1463.6 353.87h-7.5M1463.6 333.48h-7.5M1463.6 313.09h-7.5M1463.6 292.7h-15.2M1463.6 272.31h-7.5M1463.6 251.92h-7.5M1463.6 231.53h-7.5M1463.6 211.14h-7.5M1463.6 190.75h-15.2M1463.6 170.36h-7.5M1463.6 149.97h-7.5M1463.6 129.58h-7.5M1463.6 109.19h-7.5M1463.6 88.8h-15.2M1463.6 68.41h-7.5M1463.6 48.02h-7.5M1463.6 27.63h-7.5M1463.6 1032.09h-7.5M1463.6 1011.7h-15.2M1463.6 991.31h-7.5M1463.6 970.92h-7.5M1463.6 950.53h-7.5M1463.6 930.14h-7.5M1463.6 909.75h-15.2M1463.6 889.36h-7.5M1463.6 868.97h-7.5M1463.6 848.58h-7.5M1463.6 828.19h-7.5M1463.6 807.8h-15.2M1463.6 787.41h-7.5M1463.6 767.02h-7.5M1463.6 746.63h-7.5M1463.6 726.24h-7.5M1463.6 705.85h-15.2M1463.6 685.46h-7.5M1463.6 665.07h-7.5M1463.6 644.68h-7.5M1463.6 624.29h-7.5M1463.6 603.9h-15.2M1463.6 583.51h-7.5M1463.6 563.12h-7.5M1463.6 542.73h-7.5M1463.6 1547.19h-7.5M1463.6 1526.8h-15.2M1463.6 1506.41h-7.5M1463.6 1486.02h-7.5M1463.6 1465.63h-7.5M1463.6 1445.24h-7.5M1463.6 1424.85h-15.2M1463.6 1404.46h-7.5M1463.6 1384.07h-7.5M1463.6 1363.68h-7.5M1463.6 1343.29h-7.5M1463.6 1322.9h-15.2M1463.6 1302.51h-7.5M1463.6 1282.12h-7.5M1463.6 1261.73h-7.5M1463.6 1241.34h-7.5M1463.6 1220.95h-15.2M1463.6 1200.56h-7.5M1463.6 1180.17h-7.5M1463.6 1159.78h-7.5M1463.6 1139.39h-7.5M1463.6 1119h-15.2M1463.6 1098.61h-7.5M1463.6 1078.22h-7.5M1463.6 1057.83h-7.5M1463.6 2062.29h-7.5M1463.6 2041.9h-15.2M1463.6 2021.51h-7.5M1463.6 2001.12h-7.5M1463.6 1980.73h-7.5M1463.6 1960.34h-7.5M1463.6 1939.95h-15.2M1463.6 1919.56h-7.5M1463.6 1899.17h-7.5M1463.6 1878.78h-7.5M1463.6 1858.39h-7.5M1463.6 1838h-15.2M1463.6 1817.61h-7.5M1463.6 1797.22h-7.5M1463.6 1776.83h-7.5M1463.6 1756.44h-7.5M1463.6 1736.05h-15.2M1463.6 1715.66h-7.5M1463.6 1695.27h-7.5M1463.6 1674.88h-7.5M1463.6 1654.49h-7.5M1463.6 1634.1h-15.2M1463.6 1613.71h-7.5M1463.6 1593.32h-7.5M1463.6 1572.93h-7.5" stroke="#000" stroke-width="3.4" fill="none"/>
<g fill="#555555">
<circle cx="113.5" cy="449" r="9.2"/>
<circle cx="119.5" cy="441.5" r="9.2"/>
<circle cx="125.5" cy="434" r="9.2"/>
<circle cx="132.25" cy="428.75" r="9.2"/>
<circle cx="137.12" cy="427.62" r="9.2"/>
<circle cx="142" cy="426.5" r="9.2"/>
<circle cx="145.75" cy="425.75" r="9.2"/>
<circle cx="149.5" cy="425" r="9.2"/>
<circle cx="154" cy="417.5" r="9.2"/>
<circle cx="158.5" cy="410" r="9.2"/>
<circle cx="162.25" cy="407" r="9.2"/>
<circle cx="166" cy="404" r="9.2"/>
<circle cx="169.75" cy="399.5" r="9.2"/>
<circle cx="173.5" cy="395" r="9.2"/>
<circle cx="178" cy="381.5" r="9.2"/>
<circle cx="181.75" cy="363.5" r="9.2"/>
<circle cx="188.5" cy="350" r="9.2"/>
<circle cx="192.25" cy="345.5" r="9.2"/>
<circle cx="196.75" cy="333.5" r="9.2"/>
<circle cx="200.88" cy="329" r="9.2"/>
<circle cx="205" cy="324.5" r="9.2"/>
<circle cx="211" cy="311" r="9.2"/>
<circle cx="214.75" cy="307.25" r="9.2"/>
<circle cx="218.5" cy="303.5" r="9.2"/>
<circle cx="220.75" cy="292.25" r="9.2"/>
<circle cx="225.62" cy="300.12" r="9.2"/>
<circle cx="230.5" cy="308" r="9.2"/>
<circle cx="235.38" cy="304.25" r="9.2"/>
<circle cx="240.25" cy="300.5" r="9.2"/>
<circle cx="244.38" cy="310.25" r="9.2"/>
<circle cx="248.5" cy="320" r="9.2"/>
<circle cx="252.25" cy="318.5" r="9.2"/>
<circle cx="256" cy="317" r="9.2"/>
<circle cx="260.5" cy="323" r="9.2"/>
<circle cx="263.5" cy="332" r="9.2"/>
<circle cx="266.5" cy="341" r="9.2"/>
<circle cx="272.5" cy="348.5" r="9.2"/>
<circle cx="274.75" cy="356" r="9.2"/>
<circle cx="278.5" cy="371" r="9.2"/>
<circle cx="283" cy="383" r="9.2"/>
<circle cx="289" cy="387.5" r="9.2"/>
<circle cx="293.5" cy="393.5" r="9.2"/>
<circle cx="296.5" cy="408.5" r="9.2"/>
<circle cx="302.5" cy="422" r="9.2"/>
<circle cx="307.75" cy="419" r="9.2"/>
<circle cx="313" cy="435.5" r="9.2"/>
<circle cx="317.5" cy="449" r="9.2"/>
<circle cx="322" cy="450.5" r="9.2"/>
<circle cx="326.5" cy="449" r="9.2"/>
<circle cx="331" cy="447.5" r="9.2"/>
<circle cx="335" cy="450.5" r="9.2"/>
<circle cx="339" cy="453.5" r="9.2"/>
<circle cx="343.25" cy="455.5" r="9.2"/>
<circle cx="347.5" cy="457.5" r="9.2"/>
<circle cx="351.75" cy="459.5" r="9.2"/>
<circle cx="355.5" cy="446" r="9.2"/>
<circle cx="360" cy="431" r="9.2"/>
<circle cx="363.75" cy="431.75" r="9.2"/>
<circle cx="367.5" cy="432.5" r="9.2"/>
<circle cx="373.5" cy="434" r="9.2"/>
<circle cx="379.5" cy="425" r="9.2"/>
<circle cx="385.5" cy="429.5" r="9.2"/>
<circle cx="389.25" cy="410" r="9.2"/>
<circle cx="394.5" cy="399.5" r="9.2"/>
<circle cx="399" cy="387.5" r="9.2"/>
<circle cx="403.5" cy="378.5" r="9.2"/>
<circle cx="408" cy="363.5" r="9.2"/>
<circle cx="413.25" cy="348" r="9.2"/>
<circle cx="418.5" cy="337.5" r="9.2"/>
<circle cx="423" cy="336" r="9.2"/>
<circle cx="428.25" cy="322.5" r="9.2"/>
<circle cx="435" cy="313.5" r="9.2"/>
<circle cx="438.75" cy="312" r="9.2"/>
<circle cx="442.5" cy="310.5" r="9.2"/>
<circle cx="446.25" cy="308.25" r="9.2"/>
<circle cx="450" cy="306" r="9.2"/>
<circle cx="456.75" cy="300.5" r="9.2"/>
<circle cx="460.88" cy="303.5" r="9.2"/>
<circle cx="465" cy="306.5" r="9.2"/>
<circle cx="468.75" cy="312.5" r="9.2"/>
<circle cx="472.5" cy="318.5" r="9.2"/>
<circle cx="476.25" cy="330.5" r="9.2"/>
<circle cx="481.12" cy="334.25" r="9.2"/>
<circle cx="486" cy="338" r="9.2"/>
<circle cx="491.25" cy="344" r="9.2"/>
<circle cx="495" cy="356" r="9.2"/>
<circle cx="501" cy="365" r="9.2"/>
<circle cx="505.5" cy="389" r="9.2"/>
<circle cx="510" cy="405.5" r="9.2"/>
<circle cx="516" cy="405.5" r="9.2"/>
<circle cx="519.75" cy="416" r="9.2"/>
<circle cx="525" cy="431" r="9.2"/>
<circle cx="531" cy="440" r="9.2"/>
<circle cx="535.5" cy="439.25" r="9.2"/>
<circle cx="540" cy="438.5" r="9.2"/>
<circle cx="544.5" cy="449" r="9.2"/>
<circle cx="548.25" cy="454.25" r="9.2"/>
<circle cx="552" cy="459.5" r="9.2"/>
<circle cx="555.75" cy="462.5" r="9.2"/>
<circle cx="559.5" cy="465.5" r="9.2"/>
<circle cx="564.25" cy="467.75" r="9.2"/>
<circle cx="569" cy="470" r="9.2"/>
<circle cx="573.5" cy="467.75" r="9.2"/>
<circle cx="578" cy="465.5" r="9.2"/>
<circle cx="582.5" cy="452" r="9.2"/>
<circle cx="587.38" cy="452" r="9.2"/>
<circle cx="592.25" cy="452" r="9.2"/>
<circle cx="597.5" cy="437" r="9.2"/>
<circle cx="603.5" cy="435.5" r="9.2"/>
<circle cx="607.62" cy="433.25" r="9.2"/>
<circle cx="611.75" cy="431" r="9.2"/>
<circle cx="616.25" cy="416" r="9.2"/>
<circle cx="621.5" cy="407" r="9.2"/>
<circle cx="626" cy="396.5" r="9.2"/>
<circle cx="630.5" cy="381.5" r="9.2"/>
<circle cx="635" cy="363.5" r="9.2"/>
<circle cx="638.75" cy="362.75" r="9.2"/>
<circle cx="642.5" cy="362" r="9.2"/>
<circle cx="645.5" cy="356" r="9.2"/>
<circle cx="650" cy="341" r="9.2"/>
<circle cx="656" cy="335" r="9.2"/>
<circle cx="660.5" cy="327.5" r="9.2"/>
<circle cx="665" cy="328.25" r="9.2"/>
<circle cx="669.5" cy="329" r="9.2"/>
<circle cx="675.5" cy="318.5" r="9.2"/>
<circle cx="680" cy="319.25" r="9.2"/>
<circle cx="684.5" cy="320" r="9.2"/>
<circle cx="689" cy="320" r="9.2"/>
<circle cx="695" cy="330.5" r="9.2"/>
<circle cx="698" cy="339.5" r="9.2"/>
<circle cx="704" cy="339.5" r="9.2"/>
<circle cx="708.5" cy="348.5" r="9.2"/>
<circle cx="713" cy="360.5" r="9.2"/>
<circle cx="717.5" cy="365" r="9.2"/>
<circle cx="723.5" cy="380" r="9.2"/>
<circle cx="726.5" cy="392" r="9.2"/>
<circle cx="732.5" cy="395" r="9.2"/>
<circle cx="737.75" cy="408.5" r="9.2"/>
<circle cx="742.25" cy="425" r="9.2"/>
<circle cx="747.5" cy="428" r="9.2"/>
<circle cx="752" cy="423.5" r="9.2"/>
<circle cx="756.5" cy="447.5" r="9.2"/>
<circle cx="761" cy="458" r="9.2"/>
<circle cx="765.5" cy="463.25" r="9.2"/>
<circle cx="770" cy="468.5" r="9.2"/>
<circle cx="774.5" cy="465.5" r="9.2"/>
<circle cx="779" cy="462.5" r="9.2"/>
<circle cx="782.75" cy="464.75" r="9.2"/>
<circle cx="786.5" cy="467" r="9.2"/>
</g>
<polyline fill="none" stroke="#EF3E42" stroke-width="5.1" stroke-linejoin="round" stroke-linecap="butt" points="114.25,461 115.94,460.74 117.63,460.42 119.33,460.02 121.02,459.57 122.71,459.07 124.4,458.53 126.1,457.94 127.79,457.33 129.48,456.7 131.17,456.03 132.87,455.27 134.56,454.42 136.25,453.49 137.94,452.47 139.64,451.39 141.33,450.23 143.02,449.01 144.71,447.72 146.4,446.35 148.1,444.81 149.79,443.08 151.48,441.16 153.17,439.03 154.87,436.67 156.56,434.08 158.25,431.23 159.94,428.11 161.64,424.78 163.33,421.33 165.02,417.77 166.71,414.1 168.41,410.35 170.1,406.5 171.79,402.59 173.48,398.61 175.17,394.58 176.87,390.52 178.56,386.44 180.25,382.33 181.94,378.18 183.64,373.97 185.33,369.7 187.02,365.36 188.71,360.93 190.41,356.4 192.1,351.66 193.79,346.72 195.48,341.61 197.18,336.4 198.87,331.14 200.56,325.89 202.25,320.69 203.94,315.6 205.64,310.66 207.33,305.97 209.02,301.69 210.71,298.04 212.41,295.5 214.1,294.47 215.79,294.61 217.48,295.4 219.18,296.24 220.87,297.11 222.56,298.01 224.25,298.98 225.95,300.05 227.64,301.13 229.33,302.13 231.02,302.96 232.71,303.19 234.41,302.51 236.1,301.35 237.79,300.13 239.48,299.3 241.18,298.89 242.87,298.67 244.56,298.79 246.25,299.51 247.95,300.91 249.64,302.97 251.33,305.57 253.02,308.42 254.72,311.5 256.41,314.78 258.1,318.24 259.79,321.76 261.48,325.37 263.18,329.15 264.87,333.18 266.56,337.46 268.25,341.92 269.95,346.5 271.64,351.16 273.33,355.86 275.02,360.57 276.72,365.23 278.41,369.81 280.1,374.26 281.79,378.55 283.49,382.68 285.18,386.7 286.87,390.66 288.56,394.58 290.26,398.52 291.95,402.52 293.64,406.61 295.33,410.97 297.02,417.13 298.72,420.24 300.41,422.87 302.1,425.37 303.79,427.79 305.49,430.19 307.18,432.63 308.87,435.06 310.56,437.44 312.26,439.69 313.95,441.73 315.64,443.53 317.33,445.14 319.03,446.65 320.72,448.12 322.41,449.54 324.1,450.91 325.79,452.23 327.49,453.49 329.18,454.66 330.87,455.73 332.56,456.72 334.26,457.62 335.95,458.45 337.64,459.12 339.33,459.6 341.03,459.87 342.72,459.89 344.41,459.7 346.1,459.35 347.8,458.85 349.49,458.22 351.18,457.48 352.87,456.69 354.56,455.84 356.26,454.94 357.95,453.99 359.64,452.96 361.33,451.82 363.03,450.58 364.72,449.23 366.41,447.7 368.1,445.87 369.8,443.78 371.49,441.47 373.18,438.99 374.87,436.36 376.57,433.55 378.26,430.48 379.95,427.11 381.64,423.5 383.33,419.83 385.03,416.08 386.72,412.27 388.41,408.43 390.1,404.57 391.8,400.67 393.49,396.68 395.18,392.55 396.87,388.22 398.57,383.74 400.26,379.16 401.95,374.58 403.64,370.05 405.34,365.64 407.03,361.31 408.72,357.02 410.41,352.76 412.1,348.53 413.8,344.31 415.49,340.12 417.18,335.94 418.87,331.77 420.57,327.62 422.26,323.62 423.95,319.82 425.64,316.22 427.34,312.82 429.03,309.79 430.72,307.36 432.41,305.47 434.11,304.06 435.8,303.06 437.49,302.23 439.18,301.54 440.87,301.06 442.57,300.79 444.26,300.66 445.95,300.54 447.64,300.48 449.34,300.48 451.03,300.56 452.72,300.69 454.41,300.85 456.11,301.06 457.8,301.3 459.49,301.63 461.18,302.09 462.88,302.66 464.57,303.32 466.26,304.14 467.95,305.29 469.64,306.71 471.34,308.32 473.03,310.06 474.72,311.98 476.41,314.18 478.11,316.71 479.8,319.63 481.49,322.86 483.18,326.23 484.88,329.73 486.57,333.35 488.26,337.09 489.95,340.94 491.65,344.89 493.34,348.94 495.03,353.07 496.72,357.32 498.41,361.69 500.11,366.14 501.8,370.63 503.49,375.14 505.18,379.63 506.88,384.07 508.57,388.42 510.26,392.64 511.95,396.76 513.65,400.77 515.34,404.69 517.03,408.51 518.72,412.22 520.42,415.82 522.11,419.31 523.8,422.68 525.49,425.93 527.18,429 528.88,431.88 530.57,434.56 532.26,437.04 533.95,439.33 535.65,441.44 537.34,443.36 539.03,445.09 540.72,446.65 542.42,448.11 544.11,449.48 545.8,450.78 547.49,451.99 549.19,453.13 550.88,454.2 552.57,455.19 554.26,456.12 555.95,456.98 557.65,457.82 559.34,458.59 561.03,459.3 562.72,459.92 564.42,460.43 566.11,460.8 567.8,461.03 569.49,461.02 571.19,460.77 572.88,460.31 574.57,459.68 576.26,458.93 577.96,458.11 579.65,457.22 581.34,456.27 583.03,455.26 584.72,454.19 586.42,453.06 588.11,451.88 589.8,450.65 591.49,449.36 593.19,448 594.88,446.56 596.57,445.02 598.26,443.38 599.96,441.61 601.65,439.71 603.34,437.66 605.03,435.46 606.73,433.09 608.42,430.59 610.11,427.95 611.8,425.17 613.49,422.27 615.19,419.24 616.88,416.09 618.57,412.83 620.26,409.47 621.96,406.04 623.65,402.58 625.34,399.09 627.03,395.56 628.73,392 630.42,388.4 632.11,384.77 633.8,381.11 635.5,377.41 637.19,373.61 638.88,369.73 640.57,365.78 642.27,361.8 643.96,357.82 645.65,353.86 647.34,349.96 649.03,346.13 650.73,342.45 652.42,339.08 654.11,336.02 655.8,333.18 657.5,330.51 659.19,327.99 660.88,325.77 662.57,323.95 664.27,322.64 665.96,321.85 667.65,321.3 669.34,320.94 671.04,320.76 672.73,320.76 674.42,320.85 676.11,320.97 677.8,321.08 679.5,321.18 681.19,321.23 682.88,321.23 684.57,321.2 686.27,321.18 687.96,321.22 689.65,321.52 691.34,322.26 693.04,323.57 694.73,325.6 696.42,328.27 698.11,331.2 699.81,334.31 701.5,337.55 703.19,340.84 704.88,344.1 706.57,347.4 708.27,350.81 709.96,354.41 711.65,358.21 713.34,362.16 715.04,366.22 716.73,370.36 718.42,374.54 720.11,378.72 721.81,382.87 723.5,386.96 725.19,390.94 726.88,394.85 728.58,398.72 730.27,402.54 731.96,406.31 733.65,410.03 735.34,413.69 737.04,417.31 738.73,420.87 740.42,424.36 742.11,427.69 743.81,430.8 745.5,433.7 747.19,436.38 748.88,438.85 750.58,441.11 752.27,443.15 753.96,444.98 755.65,446.61 757.35,448.11 759.04,449.53 760.73,450.85 762.42,452.08 764.11,453.22 765.81,454.27 767.5,455.24 769.19,456.11 770.88,456.91 772.58,457.7 774.27,458.47 775.96,459.22 777.65,459.94 779.35,460.62 781.04,461.25 782.73,461.83 784.42,462.34 786.12,462.77 787.81,463.09 789.5,463.25"/>
<g fill="#555555">
<circle cx="114.34" cy="899.75" r="9.2"/>
<circle cx="120.09" cy="881.06" r="9.2"/>
<circle cx="126.56" cy="859.5" r="9.2"/>
<circle cx="130.88" cy="830.75" r="9.2"/>
<circle cx="136.62" cy="819.25" r="9.2"/>
<circle cx="142.38" cy="816.38" r="9.2"/>
<circle cx="145.97" cy="797.69" r="9.2"/>
<circle cx="151" cy="787.62" r="9.2"/>
<circle cx="156.03" cy="779" r="9.2"/>
<circle cx="161.78" cy="773.97" r="9.2"/>
<circle cx="166.81" cy="762.47" r="9.2"/>
<circle cx="171.12" cy="749.53" r="9.2"/>
<circle cx="176.16" cy="733.72" r="9.2"/>
<circle cx="181.19" cy="710.72" r="9.2"/>
<circle cx="186.22" cy="682.69" r="9.2"/>
<circle cx="191.25" cy="669.75" r="9.2"/>
<circle cx="194.84" cy="661.12" r="9.2"/>
<circle cx="199.88" cy="655.38" r="9.2"/>
<circle cx="205.62" cy="662.56" r="9.2"/>
<circle cx="211.38" cy="659.69" r="9.2"/>
<circle cx="216.05" cy="648.91" r="9.2"/>
<circle cx="220.72" cy="638.12" r="9.2"/>
<circle cx="225.39" cy="643.88" r="9.2"/>
<circle cx="230.06" cy="649.62" r="9.2"/>
<circle cx="235.81" cy="643.16" r="9.2"/>
<circle cx="240.48" cy="643.52" r="9.2"/>
<circle cx="245.16" cy="643.88" r="9.2"/>
<circle cx="250.19" cy="647.47" r="9.2"/>
<circle cx="255.22" cy="651.06" r="9.2"/>
<circle cx="260.25" cy="666.16" r="9.2"/>
<circle cx="266" cy="681.25" r="9.2"/>
<circle cx="270.31" cy="709.28" r="9.2"/>
<circle cx="275.34" cy="736.59" r="9.2"/>
<circle cx="280.38" cy="753.84" r="9.2"/>
<circle cx="285.41" cy="780.44" r="9.2"/>
<circle cx="290.44" cy="797.69" r="9.2"/>
<circle cx="294.75" cy="812.06" r="9.2"/>
<circle cx="299.78" cy="831.47" r="9.2"/>
<circle cx="305.53" cy="835.06" r="9.2"/>
<circle cx="309.84" cy="850.16" r="9.2"/>
<circle cx="314.88" cy="860.94" r="9.2"/>
<circle cx="320.62" cy="868.12" r="9.2"/>
<circle cx="324.94" cy="873.16" r="9.2"/>
<circle cx="329.98" cy="871.48" r="9.2"/>
<circle cx="335.02" cy="869.8" r="9.2"/>
<circle cx="340.06" cy="868.12" r="9.2"/>
<circle cx="345.09" cy="873.16" r="9.2"/>
<circle cx="350.12" cy="878.19" r="9.2"/>
<circle cx="354.44" cy="873.88" r="9.2"/>
<circle cx="360.91" cy="865.25" r="9.2"/>
<circle cx="365.94" cy="853.75" r="9.2"/>
<circle cx="370.25" cy="839.38" r="9.2"/>
<circle cx="375.28" cy="823.56" r="9.2"/>
<circle cx="380.31" cy="816.38" r="9.2"/>
<circle cx="384.62" cy="807.03" r="9.2"/>
<circle cx="390.38" cy="794.81" r="9.2"/>
<circle cx="395.41" cy="782.59" r="9.2"/>
<circle cx="399.72" cy="769.66" r="9.2"/>
<circle cx="404.75" cy="749.53" r="9.2"/>
<circle cx="409.78" cy="725.81" r="9.2"/>
<circle cx="414.81" cy="706.41" r="9.2"/>
<circle cx="419.84" cy="674.78" r="9.2"/>
<circle cx="424.16" cy="662.56" r="9.2"/>
<circle cx="430.62" cy="662.56" r="9.2"/>
<circle cx="435.66" cy="661.12" r="9.2"/>
<circle cx="439.97" cy="649.98" r="9.2"/>
<circle cx="444.28" cy="638.84" r="9.2"/>
<circle cx="448.95" cy="644.23" r="9.2"/>
<circle cx="453.62" cy="649.62" r="9.2"/>
<circle cx="460.09" cy="648.19" r="9.2"/>
<circle cx="464.41" cy="636.69" r="9.2"/>
<circle cx="469.44" cy="630.94" r="9.2"/>
<circle cx="474.47" cy="625.19" r="9.2"/>
<circle cx="479.5" cy="625.19" r="9.2"/>
<circle cx="485.97" cy="629.5" r="9.2"/>
<circle cx="489.56" cy="650.34" r="9.2"/>
<circle cx="494.59" cy="670.47" r="9.2"/>
<circle cx="499.62" cy="691.31" r="9.2"/>
<circle cx="504.66" cy="721.5" r="9.2"/>
<circle cx="509.69" cy="746.66" r="9.2"/>
<circle cx="514.72" cy="767.5" r="9.2"/>
<circle cx="519.75" cy="790.5" r="9.2"/>
<circle cx="524.06" cy="810.62" r="9.2"/>
<circle cx="529.09" cy="823.56" r="9.2"/>
<circle cx="533.41" cy="826.44" r="9.2"/>
<circle cx="539.88" cy="837.94" r="9.2"/>
<circle cx="544.19" cy="853.75" r="9.2"/>
<circle cx="548.5" cy="865.97" r="9.2"/>
<circle cx="554.25" cy="868.12" r="9.2"/>
<circle cx="559.28" cy="869.56" r="9.2"/>
<circle cx="563.81" cy="866.69" r="9.2"/>
<circle cx="568.34" cy="863.81" r="9.2"/>
<circle cx="572.88" cy="860.94" r="9.2"/>
<circle cx="579.34" cy="863.81" r="9.2"/>
<circle cx="583.66" cy="849.44" r="9.2"/>
<circle cx="589.41" cy="838.66" r="9.2"/>
<circle cx="594.44" cy="833.62" r="9.2"/>
<circle cx="599.47" cy="823.56" r="9.2"/>
<circle cx="603.78" cy="807.03" r="9.2"/>
<circle cx="608.09" cy="794.81" r="9.2"/>
<circle cx="614.56" cy="792.66" r="9.2"/>
<circle cx="619.59" cy="781.88" r="9.2"/>
<circle cx="623.91" cy="771.09" r="9.2"/>
<circle cx="628.94" cy="750.25" r="9.2"/>
<circle cx="633.97" cy="740.91" r="9.2"/>
<circle cx="639" cy="722.94" r="9.2"/>
<circle cx="644.03" cy="697.06" r="9.2"/>
<circle cx="649.06" cy="681.25" r="9.2"/>
<circle cx="653.38" cy="651.06" r="9.2"/>
<circle cx="657.69" cy="642.44" r="9.2"/>
<circle cx="664.16" cy="646.75" r="9.2"/>
<circle cx="669.19" cy="642.44" r="9.2"/>
<circle cx="674.22" cy="632.38" r="9.2"/>
<circle cx="680.69" cy="630.94" r="9.2"/>
<circle cx="687.16" cy="629.5" r="9.2"/>
<circle cx="693.62" cy="620.88" r="9.2"/>
<circle cx="700.09" cy="623.75" r="9.2"/>
<circle cx="706.56" cy="619.44" r="9.2"/>
<circle cx="713.75" cy="623.75" r="9.2"/>
<circle cx="718.78" cy="638.12" r="9.2"/>
<circle cx="723.81" cy="646.75" r="9.2"/>
<circle cx="728.12" cy="668.31" r="9.2"/>
<circle cx="733.16" cy="697.06" r="9.2"/>
<circle cx="738.91" cy="714.31" r="9.2"/>
<circle cx="743.22" cy="740.19" r="9.2"/>
<circle cx="748.25" cy="761.75" r="9.2"/>
<circle cx="753.28" cy="786.91" r="9.2"/>
<circle cx="758.31" cy="797.69" r="9.2"/>
<circle cx="763.34" cy="814.94" r="9.2"/>
<circle cx="768.38" cy="819.25" r="9.2"/>
<circle cx="774.12" cy="826.44" r="9.2"/>
<circle cx="779.88" cy="830.75" r="9.2"/>
<circle cx="784.19" cy="840.81" r="9.2"/>
<circle cx="788.5" cy="846.56" r="9.2"/>
</g>
<polyline fill="none" stroke="#EF3E42" stroke-width="5.1" stroke-linejoin="round" stroke-linecap="butt" points="114.34,876.75 116.01,875.19 117.68,873.47 119.35,871.57 121.02,869.48 122.69,867.18 124.36,864.65 126.03,861.87 127.7,858.87 129.37,855.73 131.04,852.46 132.71,849.08 134.38,845.58 136.05,841.96 137.72,838.23 139.39,834.4 141.06,830.46 142.73,826.42 144.4,822.3 146.07,818.09 147.74,813.81 149.41,809.44 151.08,804.99 152.75,800.47 154.42,795.87 156.09,791.19 157.76,786.43 159.43,781.55 161.1,776.52 162.77,771.33 164.44,765.93 166.11,760.31 167.78,754.44 169.45,748.29 171.12,741.69 172.79,734.61 174.46,727.35 176.13,720.24 177.8,713.51 179.47,706.93 181.14,700.51 182.81,694.33 184.48,688.47 186.15,683.2 187.81,678.49 189.48,674.15 191.15,669.99 192.82,665.94 194.49,662.18 196.16,658.87 197.83,656.17 199.5,654.18 201.17,652.73 202.84,651.8 204.51,651.37 206.18,651.4 207.85,651.56 209.52,651.75 211.19,651.98 212.86,652.25 214.53,652.56 216.2,652.98 217.87,653.5 219.54,654.05 221.21,654.55 222.88,654.92 224.55,655.09 226.22,654.86 227.89,654.2 229.56,653.23 231.23,652.05 232.9,650.77 234.57,649.48 236.24,648.04 237.91,646.45 239.58,644.85 241.25,643.4 242.92,642.3 244.59,641.66 246.26,641.33 247.93,641.32 249.6,641.93 251.27,643.19 252.94,645.14 254.61,647.78 256.28,651.08 257.95,654.95 259.62,659.34 261.29,664.1 262.96,669.01 264.63,674.21 266.3,679.88 267.97,686.18 269.64,692.8 271.3,699.55 272.97,706.34 274.64,713.11 276.31,719.76 277.98,726.23 279.65,732.57 281.32,738.88 282.99,745.2 284.66,751.59 286.33,758.16 288,764.87 289.67,771.62 291.34,778.33 293.01,784.78 294.68,790.78 296.35,796.58 298.02,802.47 299.69,809.1 301.36,818.24 303.03,824.64 304.7,829.17 306.37,833.3 308.04,837.16 309.71,840.89 311.38,844.6 313.05,848.28 314.72,851.9 316.39,855.44 318.06,858.88 319.73,862.17 321.4,865.27 323.07,867.98 324.74,870.31 326.41,872.42 328.08,874.45 329.75,876.35 331.42,878.06 333.09,879.51 334.76,880.61 336.43,881.26 338.1,881.55 339.77,881.59 341.44,881.42 343.11,880.95 344.78,880.14 346.45,879.01 348.12,877.63 349.79,875.96 351.46,873.95 353.13,871.57 354.79,869.03 356.46,866.36 358.13,863.57 359.8,860.67 361.47,857.77 363.14,854.79 364.81,851.62 366.48,848.28 368.15,844.94 369.82,841.6 371.49,838.27 373.16,835.13 374.83,832.02 376.5,828.6 378.17,824.53 379.84,819.91 381.51,814.93 383.18,809.74 384.85,804.45 386.52,799.23 388.19,794.18 389.86,789.17 391.53,784.16 393.2,779.15 394.87,774.13 396.54,768.36 398.21,761.66 399.88,754.49 401.55,747.3 403.22,740.31 404.89,733.28 406.56,726.23 408.23,719.22 409.9,712.3 411.57,705.53 413.24,698.86 414.91,692.27 416.58,685.72 418.25,679.47 419.92,673.63 421.59,668.18 423.26,663.09 424.93,658.54 426.6,654.75 428.27,651.63 429.94,649.09 431.61,646.98 433.28,645.12 434.95,643.6 436.62,642.54 438.28,642.07 439.95,641.83 441.62,641.69 443.29,641.65 444.96,641.72 446.63,641.93 448.3,642.27 449.97,642.66 451.64,642.98 453.31,643.15 454.98,643.06 456.65,642.68 458.32,642.02 459.99,641.12 461.66,640 463.33,638.64 465,636.97 466.67,635.17 468.34,633.41 470.01,631.88 471.68,630.62 473.35,629.6 475.02,628.84 476.69,628.67 478.36,629.48 480.03,631.15 481.7,633.54 483.37,636.44 485.04,639.74 486.71,643.41 488.38,647.37 490.05,651.45 491.72,655.76 493.39,660.52 495.06,665.97 496.73,672.09 498.4,678.55 500.07,685.31 501.74,692.34 503.41,699.59 505.08,706.98 506.75,714.41 508.42,721.76 510.09,728.95 511.76,736.03 513.43,743.05 515.1,750.03 516.77,756.98 518.44,763.82 520.11,770.47 521.77,777.06 523.44,783.7 525.11,790.94 526.78,799.87 528.45,809.35 530.12,818 531.79,824.49 533.46,828.18 535.13,831.52 536.8,834.86 538.47,838.2 540.14,841.54 541.81,844.87 543.48,848.21 545.15,851.55 546.82,854.76 548.49,857.77 550.16,860.66 551.83,863.45 553.5,865.83 555.17,867.74 556.84,869.23 558.51,870.28 560.18,870.84 561.85,870.99 563.52,870.99 565.19,870.88 566.86,870.68 568.53,870.39 570.2,869.94 571.87,869.22 573.54,868.25 575.21,867.07 576.88,865.73 578.55,864.25 580.22,862.59 581.89,860.74 583.56,858.68 585.23,856.5 586.9,854.14 588.57,851.55 590.24,848.78 591.91,845.97 593.58,843.1 595.25,840.16 596.92,837.19 598.59,834.19 600.26,831.19 601.93,828.22 603.6,825.43 605.26,822.28 606.93,818.23 608.6,813.64 610.27,808.71 611.94,803.51 613.61,798.12 615.28,792.62 616.95,787.08 618.62,781.58 620.29,776.19 621.96,770.98 623.63,765.85 625.3,760.59 626.97,755 628.64,749.01 630.31,743 631.98,736.99 633.65,730.98 635.32,724.97 636.99,718.96 638.66,712.95 640.33,706.93 642,700.92 643.67,695.04 645.34,689.32 647.01,683.73 648.68,678.2 650.35,672.82 652.02,667.86 653.69,663.27 655.36,658.99 657.03,655 658.7,651.45 660.37,648.37 662.04,645.74 663.71,643.55 665.38,641.61 667.05,639.9 668.72,638.5 670.39,637.51 672.06,636.83 673.73,636.21 675.4,635.65 677.07,635.16 678.74,634.75 680.41,634.42 682.08,634.14 683.75,633.82 685.42,633.41 687.08,632.9 688.75,632.17 690.42,631.12 692.09,629.6 693.76,627.7 695.43,625.68 697.1,623.62 698.77,621.58 700.44,619.64 702.11,617.73 703.78,615.87 705.45,614.08 707.12,613.17 708.79,612.96 710.46,613.31 712.13,614.53 713.8,616.64 715.47,619.59 717.14,623.24 718.81,627.53 720.48,632.39 722.15,637.66 723.82,643.14 725.49,649.02 727.16,655.54 728.83,662.86 730.5,670.56 732.17,678.38 733.84,686.13 735.51,693.62 737.18,700.96 738.85,708.31 740.52,715.66 742.19,723 743.86,730.35 745.53,737.7 747.2,745.05 748.87,752.39 750.54,759.72 752.21,766.91 753.88,773.95 755.55,780.83 757.22,787.54 758.89,793.93 760.56,799.98 762.23,805.8 763.9,811.5 765.57,817.12 767.24,822.6 768.91,827.91 770.57,833.05 772.24,837.97 773.91,842.66 775.58,847.15 777.25,851.43 778.92,855.55 780.59,859.5"/>
<g fill="#555555">
<circle cx="114.81" cy="1507.76" r="9.2"/>
<circle cx="119.75" cy="1502.82" r="9.2"/>
<circle cx="124.69" cy="1497.88" r="9.2"/>
<circle cx="129.63" cy="1479.77" r="9.2"/>
<circle cx="134.57" cy="1461.67" r="9.2"/>
<circle cx="139.18" cy="1432.86" r="9.2"/>
<circle cx="143.62" cy="1394.18" r="9.2"/>
<circle cx="148.56" cy="1348.09" r="9.2"/>
<circle cx="153.5" cy="1297.06" r="9.2"/>
<circle cx="158.44" cy="1259.2" r="9.2"/>
<circle cx="162.55" cy="1230.39" r="9.2"/>
<circle cx="167.49" cy="1214.75" r="9.2"/>
<circle cx="172.43" cy="1221.34" r="9.2"/>
<circle cx="177.37" cy="1234.51" r="9.2"/>
<circle cx="182.3" cy="1252.61" r="9.2"/>
<circle cx="187.24" cy="1265.78" r="9.2"/>
<circle cx="192.18" cy="1270.72" r="9.2"/>
<circle cx="198.77" cy="1270.72" r="9.2"/>
<circle cx="205.35" cy="1264.14" r="9.2"/>
<circle cx="210.29" cy="1260.84" r="9.2"/>
<circle cx="215.23" cy="1262.49" r="9.2"/>
<circle cx="220.16" cy="1270.72" r="9.2"/>
<circle cx="225.93" cy="1288" r="9.2"/>
<circle cx="230.86" cy="1306.11" r="9.2"/>
<circle cx="235.8" cy="1327.51" r="9.2"/>
<circle cx="240.74" cy="1340.68" r="9.2"/>
<circle cx="244.86" cy="1355.49" r="9.2"/>
<circle cx="249.79" cy="1362.9" r="9.2"/>
<circle cx="254.73" cy="1371.95" r="9.2"/>
<circle cx="259.67" cy="1389.24" r="9.2"/>
<circle cx="263.79" cy="1400.76" r="9.2"/>
<circle cx="269.55" cy="1420.51" r="9.2"/>
<circle cx="274.49" cy="1432.86" r="9.2"/>
<circle cx="279.42" cy="1451.79" r="9.2"/>
<circle cx="283.54" cy="1466.6" r="9.2"/>
<circle cx="289.3" cy="1474.84" r="9.2"/>
<circle cx="293.42" cy="1479.77" r="9.2"/>
<circle cx="298.35" cy="1492.94" r="9.2"/>
<circle cx="304.12" cy="1499.53" r="9.2"/>
<circle cx="310.7" cy="1504.47" r="9.2"/>
<circle cx="317.28" cy="1507.76" r="9.2"/>
<circle cx="323.87" cy="1511.05" r="9.2"/>
<circle cx="327.98" cy="1515.16" r="9.2"/>
<circle cx="332.1" cy="1519.28" r="9.2"/>
<circle cx="334.88" cy="1521.75" r="9.2"/>
<circle cx="338.99" cy="1519.69" r="9.2"/>
<circle cx="343.11" cy="1517.63" r="9.2"/>
<circle cx="349.69" cy="1504.47" r="9.2"/>
<circle cx="355.45" cy="1487.18" r="9.2"/>
<circle cx="360.39" cy="1461.67" r="9.2"/>
<circle cx="365.33" cy="1427.1" r="9.2"/>
<circle cx="370.27" cy="1386.77" r="9.2"/>
<circle cx="375.21" cy="1345.62" r="9.2"/>
<circle cx="380.14" cy="1296.23" r="9.2"/>
<circle cx="384.26" cy="1258.37" r="9.2"/>
<circle cx="390.02" cy="1234.51" r="9.2"/>
<circle cx="397.43" cy="1234.51" r="9.2"/>
<circle cx="404.01" cy="1250.97" r="9.2"/>
<circle cx="408.95" cy="1267.43" r="9.2"/>
<circle cx="413.89" cy="1277.3" r="9.2"/>
<circle cx="418.83" cy="1277.3" r="9.2"/>
<circle cx="423.77" cy="1277.3" r="9.2"/>
<circle cx="427.88" cy="1274.84" r="9.2"/>
<circle cx="432" cy="1272.37" r="9.2"/>
<circle cx="438.58" cy="1270.72" r="9.2"/>
<circle cx="443.52" cy="1277.3" r="9.2"/>
<circle cx="447.63" cy="1287.18" r="9.2"/>
<circle cx="452.57" cy="1306.93" r="9.2"/>
<circle cx="457.51" cy="1331.63" r="9.2"/>
<circle cx="462.45" cy="1350.56" r="9.2"/>
<circle cx="467.39" cy="1359.61" r="9.2"/>
<circle cx="471.5" cy="1373.6" r="9.2"/>
<circle cx="476.44" cy="1381.01" r="9.2"/>
<circle cx="481.38" cy="1390.88" r="9.2"/>
<circle cx="486.32" cy="1404.88" r="9.2"/>
<circle cx="491.26" cy="1421.34" r="9.2"/>
<circle cx="496.19" cy="1434.51" r="9.2"/>
<circle cx="501.13" cy="1452.61" r="9.2"/>
<circle cx="506.07" cy="1464.96" r="9.2"/>
<circle cx="510.19" cy="1478.13" r="9.2"/>
<circle cx="515.95" cy="1489.65" r="9.2"/>
<circle cx="520.88" cy="1496.23" r="9.2"/>
<circle cx="525" cy="1499.53" r="9.2"/>
<circle cx="529.12" cy="1502.82" r="9.2"/>
<circle cx="534.05" cy="1511.05" r="9.2"/>
<circle cx="538.99" cy="1517.63" r="9.2"/>
<circle cx="543.93" cy="1518.87" r="9.2"/>
<circle cx="548.87" cy="1520.1" r="9.2"/>
<circle cx="552.98" cy="1522.16" r="9.2"/>
<circle cx="557.1" cy="1524.22" r="9.2"/>
<circle cx="562.63" cy="1525.86" r="9.2"/>
<circle cx="568.17" cy="1527.51" r="9.2"/>
<circle cx="573.11" cy="1517.63" r="9.2"/>
<circle cx="578.05" cy="1506.11" r="9.2"/>
<circle cx="582.98" cy="1484.71" r="9.2"/>
<circle cx="587.92" cy="1464.96" r="9.2"/>
<circle cx="592.86" cy="1426.28" r="9.2"/>
<circle cx="597.47" cy="1381.83" r="9.2"/>
<circle cx="601.91" cy="1336.56" r="9.2"/>
<circle cx="606.85" cy="1288.83" r="9.2"/>
<circle cx="611.79" cy="1258.37" r="9.2"/>
<circle cx="615.91" cy="1247.67" r="9.2"/>
<circle cx="620.02" cy="1254.26" r="9.2"/>
<circle cx="624.14" cy="1260.84" r="9.2"/>
<circle cx="630.72" cy="1280.6" r="9.2"/>
<circle cx="635.66" cy="1293.77" r="9.2"/>
<circle cx="640.6" cy="1300.35" r="9.2"/>
<circle cx="645.53" cy="1299.53" r="9.2"/>
<circle cx="650.47" cy="1298.7" r="9.2"/>
<circle cx="657.06" cy="1293.77" r="9.2"/>
<circle cx="664.47" cy="1293.77" r="9.2"/>
<circle cx="670.23" cy="1303.64" r="9.2"/>
<circle cx="674.34" cy="1318.46" r="9.2"/>
<circle cx="679.28" cy="1339.86" r="9.2"/>
<circle cx="683.4" cy="1361.26" r="9.2"/>
<circle cx="688.33" cy="1372.78" r="9.2"/>
<circle cx="693.27" cy="1394.18" r="9.2"/>
<circle cx="697.39" cy="1395.82" r="9.2"/>
<circle cx="701.5" cy="1397.47" r="9.2"/>
<circle cx="708.09" cy="1413.93" r="9.2"/>
<circle cx="713.02" cy="1432.86" r="9.2"/>
<circle cx="717.14" cy="1446.85" r="9.2"/>
<circle cx="722.08" cy="1460.02" r="9.2"/>
<circle cx="727.02" cy="1476.48" r="9.2"/>
<circle cx="731.95" cy="1494.59" r="9.2"/>
<circle cx="738.54" cy="1499.53" r="9.2"/>
<circle cx="745.95" cy="1504.47" r="9.2"/>
<circle cx="751.71" cy="1517.63" r="9.2"/>
<circle cx="756.23" cy="1520.1" r="9.2"/>
<circle cx="760.76" cy="1522.57" r="9.2"/>
<circle cx="767.35" cy="1527.51" r="9.2"/>
<circle cx="771.46" cy="1532.86" r="9.2"/>
<circle cx="775.58" cy="1538.21" r="9.2"/>
<circle cx="780.1" cy="1536.56" r="9.2"/>
<circle cx="784.63" cy="1534.92" r="9.2"/>
</g>
<polyline fill="none" stroke="#EF3E42" stroke-width="5.1" stroke-linejoin="round" stroke-linecap="butt" points="113.99,1504.47 115.65,1501.14 117.31,1497.48 118.97,1493.51 120.62,1489.29 122.28,1484.86 123.94,1480.26 125.6,1475.5 127.26,1470.39 128.91,1464.8 130.57,1458.6 132.23,1451.65 133.89,1443.86 135.55,1435.33 137.21,1426.05 138.86,1415.99 140.52,1405.12 142.18,1393.57 143.84,1381.96 145.5,1370.36 147.15,1358.75 148.81,1347.14 150.47,1335.54 152.13,1323.93 153.79,1312.32 155.44,1300.72 157.1,1289.11 158.76,1277.79 160.42,1267.47 162.08,1257.94 163.73,1248.93 165.39,1240.17 167.05,1231.8 168.71,1224.53 170.37,1217.98 172.03,1212.2 173.68,1208.46 175.34,1207.34 177,1209.44 178.66,1214.83 180.32,1222.76 181.97,1231.33 183.63,1239.61 185.29,1247.18 186.95,1254.49 188.61,1261.37 190.26,1267.35 191.92,1271.92 193.58,1275.26 195.24,1277.62 196.9,1279 198.56,1279.06 200.21,1277.99 201.87,1276.68 203.53,1275.32 205.19,1274.11 206.85,1273.12 208.5,1272.23 210.16,1271.52 211.82,1271.07 213.48,1271.55 215.14,1273.64 216.79,1277.11 218.45,1281.52 220.11,1286.28 221.77,1291.02 223.43,1295.34 225.08,1299.32 226.74,1303.3 228.4,1307.28 230.06,1311.26 231.72,1315.24 233.38,1319.19 235.03,1323.11 236.69,1327.06 238.35,1331.05 240.01,1335.14 241.67,1339.35 243.32,1343.66 244.98,1348.01 246.64,1352.37 248.3,1356.71 249.96,1361.02 251.61,1365.33 253.27,1369.64 254.93,1373.95 256.59,1378.28 258.25,1383.51 259.91,1389.81 261.56,1396.68 263.22,1403.57 264.88,1410 266.54,1416.54 268.2,1423.26 269.85,1429.64 271.51,1435.17 273.17,1439.35 274.83,1443 276.49,1446.64 278.14,1450.29 279.8,1453.94 281.46,1457.59 283.12,1461.24 284.78,1464.88 286.43,1468.53 288.09,1472.18 289.75,1475.82 291.41,1479.3 293.07,1482.63 294.73,1485.87 296.38,1489.07 298.04,1492.29 299.7,1495.46 301.36,1498.52 303.02,1501.48 304.67,1504.32 306.33,1507.01 307.99,1509.36 309.65,1511.33 311.31,1513 312.96,1514.4 314.62,1515.6 316.28,1516.63 317.94,1517.51 319.6,1518.27 321.26,1518.93 322.91,1519.5 324.57,1519.88 326.23,1520.08 327.89,1520.13 329.55,1520.03 331.2,1519.53 332.86,1518.59 334.52,1517.22 336.18,1515.41 337.84,1513.19 339.49,1510.33 341.15,1506.52 342.81,1502.01 344.47,1497.1 346.13,1492.01 347.78,1486.53 349.44,1480.24 351.1,1472.74 352.76,1463.96 354.42,1454.39 356.08,1444.15 357.73,1433.3 359.39,1422.14 361.05,1410.94 362.71,1399.7 364.37,1388.38 366.02,1376.96 367.68,1365.42 369.34,1353.81 371,1342.16 372.66,1330.52 374.31,1318.93 375.97,1307.5 377.63,1296.32 379.29,1285.39 380.95,1274.68 382.6,1264.19 384.26,1254.67 385.92,1246.67 387.58,1239.77 389.24,1233.59 390.9,1227.74 392.55,1222.57 394.21,1218.91 395.87,1217.19 397.53,1217.31 399.19,1219.25 400.84,1223.37 402.5,1228.58 404.16,1233.92 405.82,1239.38 407.48,1244.97 409.13,1250.76 410.79,1256.66 412.45,1262.52 414.11,1268.15 415.77,1273.11 417.43,1277.16 419.08,1280.3 420.74,1282.55 422.4,1284.13 424.06,1285.25 425.72,1285.98 427.37,1286.41 429.03,1286.4 430.69,1286.15 432.35,1286.06 434.01,1286.51 435.66,1287.46 437.32,1288.79 438.98,1290.53 440.64,1292.69 442.3,1295.05 443.95,1297.54 445.61,1300.21 447.27,1303.09 448.93,1306.19 450.59,1309.39 452.25,1312.64 453.9,1315.97 455.56,1319.37 457.22,1322.88 458.88,1326.4 460.54,1329.95 462.19,1333.58 463.85,1337.34 465.51,1341.28 467.17,1345.26 468.83,1349.24 470.48,1353.22 472.14,1357.2 473.8,1361.17 475.46,1365.11 477.12,1369.04 478.78,1372.99 480.43,1377.02 482.09,1381.16 483.75,1385.41 485.41,1389.73 487.07,1394.09 488.72,1398.45 490.38,1402.77 492.04,1407.08 493.7,1411.39 495.36,1415.7 497.01,1420.01 498.67,1424.33 500.33,1428.64 501.99,1432.95 503.65,1437.26 505.3,1441.57 506.96,1445.88 508.62,1450.19 510.28,1454.5 511.94,1458.81 513.6,1463.13 515.25,1467.36 516.91,1471.24 518.57,1474.84 520.23,1478.29 521.89,1481.71 523.54,1485.19 525.2,1488.63 526.86,1491.99 528.52,1495.26 530.18,1498.43 531.83,1501.46 533.49,1504.21 535.15,1506.73 536.81,1509.04 538.47,1511.21 540.13,1513.24 541.78,1515.08 543.44,1516.75 545.1,1518.29 546.76,1519.72 548.42,1521.01 550.07,1522.05 551.73,1522.88 553.39,1523.55 555.05,1524.1 556.71,1524.37 558.36,1523.98 560.02,1523.03 561.68,1521.66 563.34,1519.58 565,1516.5 566.65,1512.4 568.31,1507.27 569.97,1501.25 571.63,1494.48 573.29,1486.98 574.95,1478.79 576.6,1470.25 578.26,1461.41 579.92,1452.08 581.58,1442.06 583.24,1431.59 584.89,1420.88 586.55,1409.94 588.21,1398.81 589.87,1387.26 591.53,1375.41 593.18,1363.54 594.84,1351.94 596.5,1340.88 598.16,1330.43 599.82,1320.41 601.47,1310.67 603.13,1301.04 604.79,1291.38 606.45,1281.88 608.11,1272.67 609.77,1263.77 611.42,1255.22 613.08,1247.14 614.74,1241.05 616.4,1237.07 618.06,1234.68 619.71,1233.37 621.37,1233.08 623.03,1234.28 624.69,1237.36 626.35,1241.38 628,1246 629.66,1251.28 631.32,1257.2 632.98,1263.47 634.64,1269.74 636.3,1275.66 637.95,1280.93 639.61,1285.62 641.27,1289.57 642.93,1292.56 644.59,1294.45 646.24,1295.82 647.9,1296.85 649.56,1297.58 651.22,1298.06 652.88,1298.3 654.53,1298.48 656.19,1298.77 657.85,1299.35 659.51,1300.19 661.17,1301.32 662.82,1302.78 664.48,1304.62 666.14,1306.82 667.8,1309.33 669.46,1312.13 671.12,1315.15 672.77,1318.25 674.43,1321.46 676.09,1324.82 677.75,1328.38 679.41,1332.15 681.06,1335.98 682.72,1339.89 684.38,1343.9 686.04,1348.06 687.7,1352.36 689.35,1356.67 691.01,1360.98 692.67,1365.29 694.33,1369.6 695.99,1373.91 697.65,1378.22 699.3,1382.53 700.96,1386.85 702.62,1391.16 704.28,1395.47 705.94,1399.78 707.59,1404.09 709.25,1408.4 710.91,1412.71 712.57,1417.02 714.23,1421.33 715.88,1425.64 717.54,1429.96 719.2,1434.27 720.86,1438.58 722.52,1442.89 724.17,1447.2 725.83,1451.51 727.49,1455.82 729.15,1460.13 730.81,1464.44 732.47,1468.76 734.12,1473.07 735.78,1477.38 737.44,1481.56 739.1,1485.41 740.76,1489.01 742.41,1492.44 744.07,1495.78 745.73,1499.04 747.39,1502.18 749.05,1505.18 750.7,1508.05 752.36,1510.78 754.02,1513.39 755.68,1515.88 757.34,1518.23 759,1520.43 760.65,1522.45 762.31,1524.32 763.97,1526.08 765.63,1527.74 767.29,1529.3 768.94,1530.76 770.6,1532.14 772.26,1533.44 773.92,1534.64 775.58,1535.74"/>
<g fill="#555555">
<circle cx="112.48" cy="1960.48" r="9.2"/>
<circle cx="119.61" cy="1966.72" r="9.2"/>
<circle cx="126.75" cy="1954.24" r="9.2"/>
<circle cx="133.88" cy="1950.68" r="9.2"/>
<circle cx="140.12" cy="1954.24" r="9.2"/>
<circle cx="145.47" cy="1950.68" r="9.2"/>
<circle cx="148.14" cy="1938.19" r="9.2"/>
<circle cx="153.49" cy="1927.5" r="9.2"/>
<circle cx="158.84" cy="1919.47" r="9.2"/>
<circle cx="163.3" cy="1896.29" r="9.2"/>
<circle cx="167.76" cy="1878.46" r="9.2"/>
<circle cx="173.11" cy="1855.28" r="9.2"/>
<circle cx="178.45" cy="1817.84" r="9.2"/>
<circle cx="182.91" cy="1790.2" r="9.2"/>
<circle cx="187.37" cy="1761.67" r="9.2"/>
<circle cx="191.83" cy="1719.77" r="9.2"/>
<circle cx="197.18" cy="1703.72" r="9.2"/>
<circle cx="201.19" cy="1708.63" r="9.2"/>
<circle cx="205.2" cy="1713.53" r="9.2"/>
<circle cx="210.55" cy="1729.58" r="9.2"/>
<circle cx="215.9" cy="1735.82" r="9.2"/>
<circle cx="220.36" cy="1736.26" r="9.2"/>
<circle cx="224.81" cy="1736.71" r="9.2"/>
<circle cx="231.95" cy="1731.36" r="9.2"/>
<circle cx="239.08" cy="1730.47" r="9.2"/>
<circle cx="245.32" cy="1728.68" r="9.2"/>
<circle cx="250.67" cy="1733.14" r="9.2"/>
<circle cx="255.13" cy="1749.19" r="9.2"/>
<circle cx="259.58" cy="1767.91" r="9.2"/>
<circle cx="264.04" cy="1798.22" r="9.2"/>
<circle cx="269.39" cy="1832.99" r="9.2"/>
<circle cx="273.85" cy="1857.96" r="9.2"/>
<circle cx="278.31" cy="1879.35" r="9.2"/>
<circle cx="283.66" cy="1908.77" r="9.2"/>
<circle cx="288.11" cy="1923.93" r="9.2"/>
<circle cx="293.46" cy="1943.54" r="9.2"/>
<circle cx="297.92" cy="1952.46" r="9.2"/>
<circle cx="302.38" cy="1965.83" r="9.2"/>
<circle cx="307.73" cy="1973.86" r="9.2"/>
<circle cx="313.08" cy="1986.34" r="9.2"/>
<circle cx="317.09" cy="1991.24" r="9.2"/>
<circle cx="321.1" cy="1996.14" r="9.2"/>
<circle cx="325.56" cy="1994.81" r="9.2"/>
<circle cx="330.01" cy="1993.47" r="9.2"/>
<circle cx="336.59" cy="2000.6" r="9.2"/>
<circle cx="341.94" cy="1993.47" r="9.2"/>
<circle cx="346.84" cy="1998.82" r="9.2"/>
<circle cx="351.75" cy="2004.17" r="9.2"/>
<circle cx="358.88" cy="1995.25" r="9.2"/>
<circle cx="365.12" cy="1986.34" r="9.2"/>
<circle cx="370.47" cy="1982.77" r="9.2"/>
<circle cx="374.93" cy="1964.94" r="9.2"/>
<circle cx="380.27" cy="1952.46" r="9.2"/>
<circle cx="385.62" cy="1948" r="9.2"/>
<circle cx="390.08" cy="1927.5" r="9.2"/>
<circle cx="394.54" cy="1902.53" r="9.2"/>
<circle cx="399.89" cy="1880.25" r="9.2"/>
<circle cx="404.35" cy="1837.45" r="9.2"/>
<circle cx="408.8" cy="1814.27" r="9.2"/>
<circle cx="414.15" cy="1792.88" r="9.2"/>
<circle cx="418.61" cy="1772.37" r="9.2"/>
<circle cx="423.96" cy="1765.24" r="9.2"/>
<circle cx="429.31" cy="1770.59" r="9.2"/>
<circle cx="433.77" cy="1781.29" r="9.2"/>
<circle cx="439.12" cy="1795.55" r="9.2"/>
<circle cx="443.57" cy="1796.44" r="9.2"/>
<circle cx="448.03" cy="1797.33" r="9.2"/>
<circle cx="452.49" cy="1793.77" r="9.2"/>
<circle cx="456.95" cy="1790.2" r="9.2"/>
<circle cx="461.4" cy="1790.2" r="9.2"/>
<circle cx="465.86" cy="1790.2" r="9.2"/>
<circle cx="471.21" cy="1788.42" r="9.2"/>
<circle cx="476.56" cy="1795.55" r="9.2"/>
<circle cx="481.91" cy="1817.84" r="9.2"/>
<circle cx="486.37" cy="1842.8" r="9.2"/>
<circle cx="490.82" cy="1867.76" r="9.2"/>
<circle cx="496.17" cy="1899.86" r="9.2"/>
<circle cx="500.63" cy="1926.6" r="9.2"/>
<circle cx="505.98" cy="1946.22" r="9.2"/>
<circle cx="510.44" cy="1968.51" r="9.2"/>
<circle cx="514.9" cy="1986.34" r="9.2"/>
<circle cx="520.25" cy="1998.82" r="9.2"/>
<circle cx="524.7" cy="2009.52" r="9.2"/>
<circle cx="530.05" cy="2012.19" r="9.2"/>
<circle cx="534.51" cy="2022" r="9.2"/>
<circle cx="541.64" cy="2025.56" r="9.2"/>
<circle cx="548.77" cy="2029.13" r="9.2"/>
<circle cx="554.12" cy="2034.48" r="9.2"/>
<circle cx="558.58" cy="2034.48" r="9.2"/>
<circle cx="563.03" cy="2034.48" r="9.2"/>
<circle cx="567.48" cy="2034.48" r="9.2"/>
<circle cx="571.94" cy="2030.91" r="9.2"/>
<circle cx="576.4" cy="2027.35" r="9.2"/>
<circle cx="583.53" cy="2023.78" r="9.2"/>
<circle cx="590.66" cy="2011.3" r="9.2"/>
<circle cx="596.9" cy="1998.82" r="9.2"/>
<circle cx="602.25" cy="1992.58" r="9.2"/>
<circle cx="606.71" cy="1977.42" r="9.2"/>
<circle cx="611.7" cy="1954.24" r="9.2"/>
<circle cx="616.52" cy="1932.85" r="9.2"/>
<circle cx="620.97" cy="1907.88" r="9.2"/>
<circle cx="626.32" cy="1884.7" r="9.2"/>
<circle cx="630.78" cy="1844.58" r="9.2"/>
<circle cx="635.24" cy="1818.73" r="9.2"/>
<circle cx="640.59" cy="1803.57" r="9.2"/>
<circle cx="645.04" cy="1791.98" r="9.2"/>
<circle cx="651.29" cy="1802.68" r="9.2"/>
<circle cx="654.85" cy="1806.25" r="9.2"/>
<circle cx="659.31" cy="1816.95" r="9.2"/>
<circle cx="663.32" cy="1818.73" r="9.2"/>
<circle cx="667.33" cy="1820.51" r="9.2"/>
<circle cx="671.79" cy="1818.28" r="9.2"/>
<circle cx="676.25" cy="1816.05" r="9.2"/>
<circle cx="680.26" cy="1812.93" r="9.2"/>
<circle cx="684.27" cy="1809.81" r="9.2"/>
<circle cx="688.28" cy="1811.6" r="9.2"/>
<circle cx="692.3" cy="1813.38" r="9.2"/>
<circle cx="698.54" cy="1819.62" r="9.2"/>
<circle cx="702.99" cy="1838.34" r="9.2"/>
<circle cx="708.34" cy="1860.63" r="9.2"/>
<circle cx="712.8" cy="1887.38" r="9.2"/>
<circle cx="717.26" cy="1915.01" r="9.2"/>
<circle cx="722.61" cy="1944.44" r="9.2"/>
<circle cx="727.07" cy="1962.27" r="9.2"/>
<circle cx="732.41" cy="1986.34" r="9.2"/>
<circle cx="736.87" cy="1998.82" r="9.2"/>
<circle cx="742.22" cy="2011.3" r="9.2"/>
<circle cx="746.68" cy="2023.78" r="9.2"/>
<circle cx="751.14" cy="2030.91" r="9.2"/>
<circle cx="756.49" cy="2038.05" r="9.2"/>
<circle cx="760.94" cy="2038.49" r="9.2"/>
<circle cx="765.4" cy="2038.94" r="9.2"/>
<circle cx="771.64" cy="2048.74" r="9.2"/>
<circle cx="775.65" cy="2047.41" r="9.2"/>
<circle cx="779.67" cy="2046.07" r="9.2"/>
<circle cx="785.01" cy="2049.64" r="9.2"/>
</g>
<polyline fill="none" stroke="#EF3E42" stroke-width="5.1" stroke-linejoin="round" stroke-linecap="butt" points="125.85,1992.58 127.52,1991.47 129.18,1990.03 130.84,1988.26 132.5,1986.12 134.16,1983.6 135.82,1980.69 137.48,1977.42 139.14,1973.8 140.8,1969.84 142.46,1965.55 144.13,1960.91 145.79,1955.96 147.45,1950.74 149.11,1945.24 150.77,1939.45 152.43,1933.35 154.09,1926.94 155.75,1920.32 157.41,1913.45 159.07,1906.2 160.73,1898.46 162.4,1890.11 164.06,1881.38 165.72,1872.55 167.38,1863.61 169.04,1854.56 170.7,1845.38 172.36,1836.09 174.02,1826.79 175.68,1817.49 177.34,1808.19 179.01,1798.88 180.67,1789.58 182.33,1780.28 183.99,1770.98 185.65,1761.68 187.31,1752.38 188.97,1743.08 190.63,1734.1 192.29,1725.97 193.95,1718.7 195.62,1712.29 197.28,1706.97 198.94,1703.23 200.6,1700.6 202.26,1698.54 203.92,1697.46 205.58,1698.07 207.24,1699.9 208.9,1703.15 210.56,1707.48 212.22,1712.11 213.89,1716.53 215.55,1720.52 217.21,1724.27 218.87,1727.62 220.53,1730.29 222.19,1731.91 223.85,1732.44 225.51,1731.96 227.17,1731.11 228.83,1730.21 230.5,1729.44 232.16,1728.8 233.82,1728.24 235.48,1727.8 237.14,1728 238.8,1729.32 240.46,1731.58 242.12,1734.66 243.78,1738.53 245.44,1743.2 247.11,1748.55 248.77,1754.03 250.43,1759.71 252.09,1765.73 253.75,1772.21 255.41,1778.85 257.07,1785.5 258.73,1792.14 260.39,1798.79 262.05,1805.43 263.71,1812.07 265.38,1818.72 267.04,1825.36 268.7,1832 270.36,1838.69 272.02,1845.58 273.68,1852.61 275.34,1859.69 277,1866.75 278.66,1873.71 280.32,1880.54 281.99,1887.28 283.65,1893.93 285.31,1900.47 286.97,1906.91 288.63,1913.15 290.29,1918.99 291.95,1924.44 293.61,1929.49 295.27,1934.15 296.93,1938.44 298.6,1942.57 300.26,1946.61 301.92,1950.55 303.58,1954.42 305.24,1958.24 306.9,1962.01 308.56,1965.75 310.22,1969.43 311.88,1973.03 313.54,1976.54 315.2,1979.89 316.87,1982.95 318.53,1985.72 320.19,1988.21 321.85,1990.43 323.51,1992.39 325.17,1994.02 326.83,1995.42 328.49,1996.75 330.15,1998.14 331.81,1999.73 333.48,2001.93 335.14,2003.21 336.8,2003.82 338.46,2003.99 340.12,2003.9 341.78,2003.73 343.44,2003.48 345.1,2003.06 346.76,2002.36 348.42,2001.31 350.09,1999.95 351.75,1998.34 353.41,1996.5 355.07,1994.45 356.73,1992.21 358.39,1989.81 360.05,1987.31 361.71,1984.71 363.37,1982 365.03,1979.16 366.69,1976.17 368.36,1973.03 370.02,1969.76 371.68,1966.38 373.34,1962.92 375,1959.44 376.66,1955.77 378.32,1951.79 379.98,1947.51 381.64,1942.94 383.3,1937.96 384.97,1932.18 386.63,1925.5 388.29,1917.84 389.95,1909.18 391.61,1900.05 393.27,1890.76 394.93,1881.53 396.59,1872.57 398.25,1863.76 399.91,1854.98 401.58,1846.28 403.24,1837.68 404.9,1829.31 406.56,1821.28 408.22,1813.5 409.88,1805.89 411.54,1798.45 413.2,1791.47 414.86,1784.88 416.52,1778.58 418.18,1772.49 419.85,1767.3 421.51,1763.12 423.17,1760.01 424.83,1758.84 426.49,1759.41 428.15,1761.06 429.81,1764.22 431.47,1768.93 433.13,1774.03 434.79,1779.1 436.46,1783.83 438.12,1788.39 439.78,1792.75 441.44,1796.81 443.1,1799.88 444.76,1801.6 446.42,1801.73 448.08,1800.93 449.74,1799.79 451.4,1798.4 453.07,1796.8 454.73,1795.06 456.39,1793.39 458.05,1792.12 459.71,1791.8 461.37,1792.46 463.03,1794.38 464.69,1797.69 466.35,1802.41 468.01,1807.59 469.67,1812.9 471.34,1818.39 473,1824.09 474.66,1829.9 476.32,1835.72 477.98,1841.53 479.64,1847.34 481.3,1853.16 482.96,1858.97 484.62,1864.78 486.28,1870.6 487.95,1876.41 489.61,1882.22 491.27,1888.04 492.93,1893.85 494.59,1899.66 496.25,1905.57 497.91,1911.58 499.57,1917.63 501.23,1923.66 502.89,1929.61 504.56,1935.38 506.22,1940.9 507.88,1946.22 509.54,1951.4 511.2,1956.48 512.86,1961.52 514.52,1966.44 516.18,1971.21 517.84,1975.83 519.5,1980.3 521.16,1984.63 522.83,1988.76 524.49,1992.65 526.15,1996.33 527.81,1999.8 529.47,2003.07 531.13,2006.15 532.79,2009.06 534.45,2011.79 536.11,2014.37 537.77,2016.79 539.44,2019.06 541.1,2021.22 542.76,2023.23 544.42,2025.08 546.08,2026.72 547.74,2028.13 549.4,2029.31 551.06,2030.33 552.72,2031.18 554.38,2031.89 556.05,2032.47 557.71,2032.94 559.37,2033.29 561.03,2033.52 562.69,2033.62 564.35,2033.56 566.01,2033.32 567.67,2032.93 569.33,2032.39 570.99,2031.74 572.66,2031 574.32,2030.11 575.98,2029 577.64,2027.68 579.3,2026.2 580.96,2024.58 582.62,2022.82 584.28,2020.71 585.94,2018.23 587.6,2015.43 589.26,2012.33 590.93,2008.96 592.59,2005.17 594.25,2000.9 595.91,1996.21 597.57,1991.13 599.23,1985.72 600.89,1980.05 602.55,1974.14 604.21,1967.86 605.87,1961.05 607.54,1953.56 609.2,1945.3 610.86,1936.57 612.52,1927.67 614.18,1918.85 615.84,1910.37 617.5,1902.06 619.16,1893.76 620.82,1885.45 622.48,1877.15 624.15,1868.84 625.81,1860.54 627.47,1852.23 629.13,1843.93 630.79,1835.73 632.45,1828.13 634.11,1821.1 635.77,1814.53 637.43,1808.33 639.09,1803.04 640.75,1798.73 642.42,1795.17 644.08,1792.12 645.74,1789.58 647.4,1787.92 649.06,1787.43 650.72,1788.16 652.38,1789.75 654.04,1792.23 655.7,1795.62 657.36,1799.64 659.03,1803.7 660.69,1807.21 662.35,1810.32 664.01,1813.07 665.67,1815.3 667.33,1816.97 668.99,1818.04 670.65,1818.39 672.31,1818.16 673.97,1817.81 675.64,1817.42 677.3,1817.07 678.96,1816.81 680.62,1816.62 682.28,1816.55 683.94,1816.73 685.6,1818.2 687.26,1820.94 688.92,1824.53 690.58,1828.49 692.24,1832.84 693.91,1837.79 695.57,1843.18 697.23,1848.58 698.89,1853.98 700.55,1859.37 702.21,1864.77 703.87,1870.17 705.53,1875.57 707.19,1880.97 708.85,1886.36 710.52,1891.76 712.18,1897.16 713.84,1902.56 715.5,1907.96 717.16,1913.46 718.82,1919.13 720.48,1924.86 722.14,1930.59 723.8,1936.24 725.46,1941.73 727.13,1947.12 728.79,1952.44 730.45,1957.71 732.11,1962.95 733.77,1968.18 735.43,1973.36 737.09,1978.45 738.75,1983.44 740.41,1988.32 742.07,1993.06 743.73,1997.56 745.4,2001.76 747.06,2005.72 748.72,2009.51 750.38,2013.2 752.04,2016.84 753.7,2020.39 755.36,2023.83 757.02,2027.13 758.68,2030.26 760.34,2033.2 762.01,2035.94 763.67,2038.47 765.33,2040.79 766.99,2042.91 768.65,2044.83 770.31,2046.59 771.97,2048.24 773.63,2049.79 775.29,2051.22 776.95,2052.53 778.62,2053.71 780.28,2054.84 781.94,2055.91 783.6,2056.91 785.26,2057.84 786.92,2058.69 788.58,2059.44"/>
<g font-family="'Liberation Serif', 'DejaVu Serif', serif" font-size="42.3" fill="#000" letter-spacing="-0.75">
<text x="100.25" y="28" text-anchor="end">40</text>
<text x="100.25" y="113.85" text-anchor="end">35</text>
<text x="100.25" y="199.7" text-anchor="end">30</text>
<text x="100.25" y="285.55" text-anchor="end">25</text>
<text x="100.25" y="371.4" text-anchor="end">20</text>
<text x="100.25" y="457.25" text-anchor="end">15</text>
<text x="1479.6" y="509.7">0</text>
<text x="1479.6" y="407.75">100</text>
<text x="1479.6" y="305.8">200</text>
<text x="1479.6" y="203.85">300</text>
<text x="1479.6" y="101.9">400</text>
<text x="100.25" y="543.1" text-anchor="end">40</text>
<text x="100.25" y="628.95" text-anchor="end">35</text>
<text x="100.25" y="714.8" text-anchor="end">30</text>
<text x="100.25" y="800.65" text-anchor="end">25</text>
<text x="100.25" y="886.5" text-anchor="end">20</text>
<text x="100.25" y="972.35" text-anchor="end">15</text>
<text x="1479.6" y="1024.8">0</text>
<text x="1479.6" y="922.85">100</text>
<text x="1479.6" y="820.9">200</text>
<text x="1479.6" y="718.95">300</text>
<text x="1479.6" y="617">400</text>
<text x="100.25" y="1058.2" text-anchor="end">40</text>
<text x="100.25" y="1144.05" text-anchor="end">35</text>
<text x="100.25" y="1229.9" text-anchor="end">30</text>
<text x="100.25" y="1315.75" text-anchor="end">25</text>
<text x="100.25" y="1401.6" text-anchor="end">20</text>
<text x="100.25" y="1487.45" text-anchor="end">15</text>
<text x="1479.6" y="1539.9">0</text>
<text x="1479.6" y="1437.95">100</text>
<text x="1479.6" y="1336">200</text>
<text x="1479.6" y="1234.05">300</text>
<text x="1479.6" y="1132.1">400</text>
<text x="100.25" y="1573.3" text-anchor="end">40</text>
<text x="100.25" y="1659.15" text-anchor="end">35</text>
<text x="100.25" y="1745" text-anchor="end">30</text>
<text x="100.25" y="1830.85" text-anchor="end">25</text>
<text x="100.25" y="1916.7" text-anchor="end">20</text>
<text x="100.25" y="2002.55" text-anchor="end">15</text>
<text x="100.25" y="2088.4" text-anchor="end">10</text>
<text x="1479.6" y="2055">0</text>
<text x="1479.6" y="1953.05">100</text>
<text x="1479.6" y="1851.1">200</text>
<text x="1479.6" y="1749.15">300</text>
<text x="1479.6" y="1647.2">400</text>
<text x="139.62" y="2119.6" text-anchor="middle">-300</text>
<text x="244.37" y="2119.6" text-anchor="middle">-200</text>
<text x="349.12" y="2119.6" text-anchor="middle">-100</text>
<text x="453.88" y="2119.6" text-anchor="middle">0</text>
<text x="558.62" y="2119.6" text-anchor="middle">100</text>
<text x="663.38" y="2119.6" text-anchor="middle">200</text>
<text x="814.62" y="2119.6" text-anchor="middle">-300</text>
<text x="919.43" y="2119.6" text-anchor="middle">-200</text>
<text x="1024.23" y="2119.6" text-anchor="middle">-100</text>
<text x="1129.03" y="2119.6" text-anchor="middle">0</text>
<text x="1233.83" y="2119.6" text-anchor="middle">100</text>
<text x="1338.62" y="2119.6" text-anchor="middle">200</text>
<text x="1443.43" y="2119.6" text-anchor="middle">300</text>
</g>
<g font-family="'Liberation Serif', 'DejaVu Serif', serif" font-weight="bold" fill="#000">
<text transform="translate(34.8 1052.7) rotate(-90)" font-size="51.5" text-anchor="middle">Intensity (a.u.)</text>
<text transform="translate(1589.8 1046) rotate(-90)" font-size="50.5" text-anchor="middle"><tspan font-style="italic">z</tspan> (nm)</text>
<text x="806.6" y="2176.3" font-size="51.5" text-anchor="middle"><tspan font-style="italic">x</tspan> (nm)</text>
<text x="712.2" y="85" font-size="70" text-anchor="middle">(a)</text>
<text x="740" y="592.5" font-size="70" text-anchor="middle">(b)</text>
<text x="744.2" y="1105" font-size="70" text-anchor="middle">(c)</text>
<text x="738.2" y="1622.5" font-size="70" text-anchor="middle">(d)</text>
</g>
<rect x="132.6" y="28.8" width="343.7" height="115.2" fill="#fff" stroke="#000" stroke-width="2.8"/>
<circle cx="188" cy="59.6" r="9.4" fill="#555555"/>
<line x1="138.9" y1="114.6" x2="236.9" y2="114.6" stroke="#EF3E42" stroke-width="5.1" stroke-linecap="round"/>
<g font-family="'Liberation Serif', 'DejaVu Serif', serif" font-weight="bold" font-size="43.8" fill="#000"><text x="249.1" y="74.9">Experiment</text><text x="249.1" y="129.9">Simulation</text></g>
<rect x="133.2" y="908.4" width="343.8" height="115.8" fill="#fff" stroke="#000" stroke-width="2.8"/>
<circle cx="188.6" cy="939.2" r="9.4" fill="#555555"/>
<line x1="139.5" y1="994.2" x2="237.5" y2="994.2" stroke="#EF3E42" stroke-width="5.1" stroke-linecap="round"/>
<g font-family="'Liberation Serif', 'DejaVu Serif', serif" font-weight="bold" font-size="43.8" fill="#000"><text x="249.7" y="954.5">Experiment</text><text x="249.7" y="1009.5">Simulation</text></g>
<rect x="133.7" y="1060" width="343.8" height="115" fill="#fff" stroke="#000" stroke-width="2.8"/>
<circle cx="189.1" cy="1090.8" r="9.4" fill="#555555"/>
<line x1="140" y1="1145.8" x2="238" y2="1145.8" stroke="#EF3E42" stroke-width="5.1" stroke-linecap="round"/>
<g font-family="'Liberation Serif', 'DejaVu Serif', serif" font-weight="bold" font-size="43.8" fill="#000"><text x="250.2" y="1106.1">Experiment</text><text x="250.2" y="1161.1">Simulation</text></g>
<rect x="129.4" y="1570.9" width="344.4" height="115.6" fill="#fff" stroke="#000" stroke-width="2.8"/>
<circle cx="184.8" cy="1601.7" r="9.4" fill="#555555"/>
<line x1="135.7" y1="1656.7" x2="233.7" y2="1656.7" stroke="#EF3E42" stroke-width="5.1" stroke-linecap="round"/>
<g font-family="'Liberation Serif', 'DejaVu Serif', serif" font-weight="bold" font-size="43.8" fill="#000"><text x="245.9" y="1617">Experiment</text><text x="245.9" y="1672">Simulation</text></g>
<g font-family="'Liberation Serif', 'DejaVu Serif', serif" font-style="italic" fill="#000" text-anchor="middle">
<text transform="translate(886.6 198.3) rotate(-90) scale(0.957 1)" font-size="30.2">h=60.5 nm b=41.5 nm</text>
<text transform="translate(927.1 199.9) rotate(-90) scale(0.957 1)" font-size="30.2">θ=2<tspan font-size="21.74" dy="-12.38">0</tspan><tspan dy="12.38"> s=16 nm</tspan></text>
<text transform="translate(1093.5 199.8) rotate(-90) scale(0.957 1)" font-size="30.2">h=60.5 nm b=41.5 nm</text>
<text transform="translate(1134.5 200.5) rotate(-90) scale(0.957 1)" font-size="30.2">θ=0<tspan font-size="21.74" dy="-12.38">0</tspan><tspan dy="12.38"> s=16 nm</tspan></text>
<text transform="translate(1316.3 221.4) rotate(-90) scale(0.957 1)" font-size="30.2">h=58 nm b=38 nm</text>
<text transform="translate(1357.3 221.1) rotate(-90) scale(0.957 1)" font-size="30.2">θ=0<tspan font-size="21.74" dy="-12.38">0</tspan><tspan dy="12.38"> s=16 nm</tspan></text>
<text transform="translate(898.8 686.1) rotate(-90) scale(0.957 1)" font-size="30.2">h=90.5 nm b=41.5 nm</text>
<text transform="translate(939.8 686.5) rotate(-90) scale(0.957 1)" font-size="30.2">θ=2<tspan font-size="21.74" dy="-12.38">0</tspan><tspan dy="12.38"> s=10 nm</tspan></text>
<text transform="translate(1107.8 691) rotate(-90) scale(0.957 1)" font-size="30.2">h=92.5 nm b=43 nm</text>
<text transform="translate(1148.7 691) rotate(-90) scale(0.957 1)" font-size="30.2">θ=4<tspan font-size="21.74" dy="-12.38">0</tspan><tspan dy="12.38"> s=10 nm</tspan></text>
<text transform="translate(1325.8 691.7) rotate(-90) scale(0.957 1)" font-size="30.2">h=93.5 nm b=47 nm</text>
<text transform="translate(1366.8 692) rotate(-90) scale(0.957 1)" font-size="30.2">θ=4<tspan font-size="21.74" dy="-12.38">0</tspan><tspan dy="12.38"> s=12 nm</tspan></text>
<text transform="translate(883.8 1199.7) rotate(-90) scale(0.957 1)" font-size="30.2">h=96 nm b=41.5 nm</text>
<text transform="translate(924 1199) rotate(-90) scale(0.957 1)" font-size="30.2">θ=8<tspan font-size="21.74" dy="-12.38">0</tspan><tspan dy="12.38"> s=10 nm</tspan></text>
<text transform="translate(1099.7 1205) rotate(-90) scale(0.957 1)" font-size="30.2">h=93 nm b=38 nm</text>
<text transform="translate(1140.3 1204.6) rotate(-90) scale(0.957 1)" font-size="30.2">θ=7<tspan font-size="21.74" dy="-12.38">0</tspan><tspan dy="12.38"> s=10 nm</tspan></text>
<text transform="translate(1312.5 1208.6) rotate(-90) scale(0.957 1)" font-size="30.2">h=91 nm b=34 nm</text>
<text transform="translate(1352.8 1208.6) rotate(-90) scale(0.957 1)" font-size="30.2">θ=7<tspan font-size="21.74" dy="-12.38">0</tspan><tspan dy="12.38"> s=10 nm</tspan></text>
<text transform="translate(885.5 1731.9) rotate(-90) scale(0.957 1)" font-size="30.2">h=91 nm b=55 nm</text>
<text transform="translate(926.5 1731.9) rotate(-90) scale(0.957 1)" font-size="30.2">θ=3<tspan font-size="21.74" dy="-12.38">0</tspan><tspan dy="12.38"> s=14 nm</tspan></text>
<text transform="translate(1099 1731) rotate(-90) scale(0.957 1)" font-size="30.2">h=87 nm b=48 nm</text>
<text transform="translate(1139.3 1730) rotate(-90) scale(0.957 1)" font-size="30.2">θ=3<tspan font-size="21.74" dy="-12.38">0</tspan><tspan dy="12.38"> s=14 nm</tspan></text>
<text transform="translate(1320.2 1721.9) rotate(-90) scale(0.957 1)" font-size="30.2">h=83 nm b=41.5 nm</text>
<text transform="translate(1360.8 1721.7) rotate(-90) scale(0.957 1)" font-size="30.2">θ=3<tspan font-size="21.74" dy="-12.38">0</tspan><tspan dy="12.38"> s=14 nm</tspan></text>
</g>
</svg>
</body></html>
